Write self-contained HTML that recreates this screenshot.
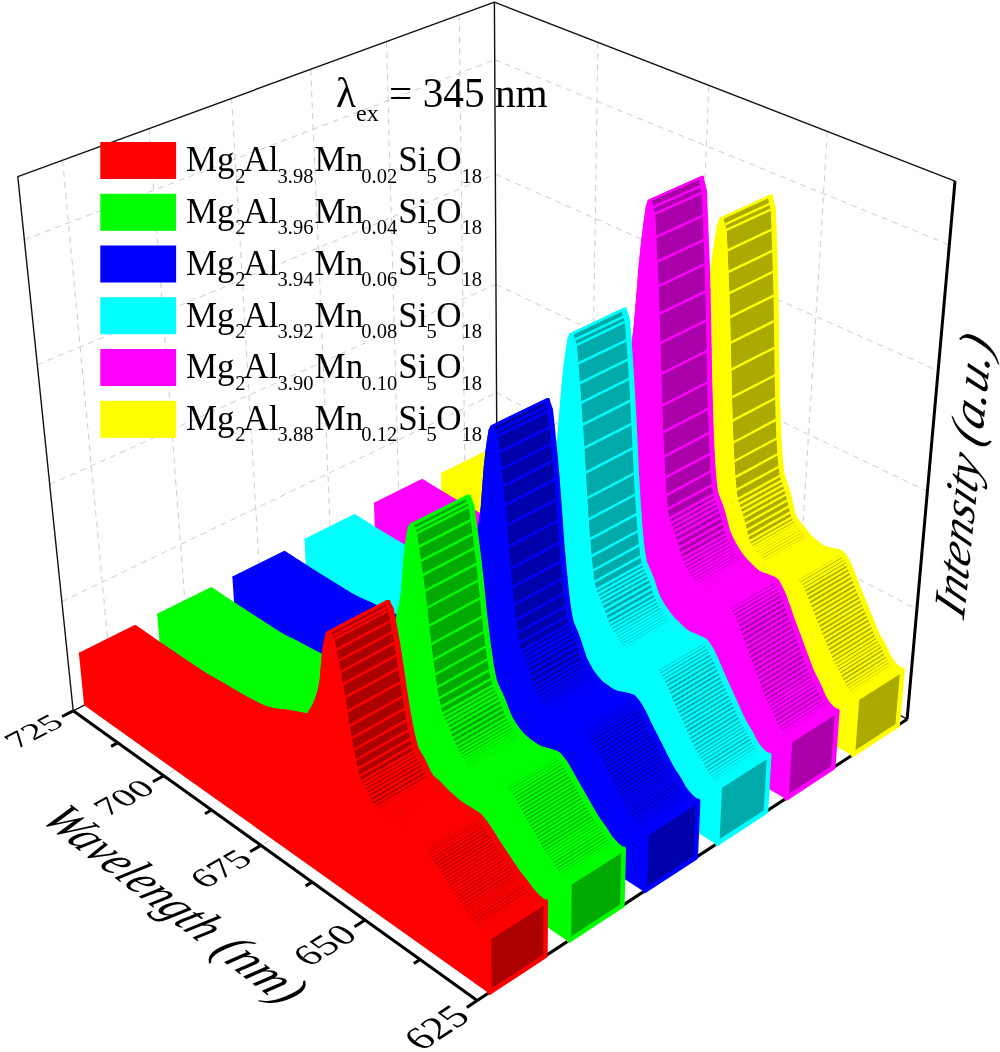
<!DOCTYPE html><html><head><meta charset="utf-8"><title>PL spectra</title><style>html,body{margin:0;padding:0;background:#fff}svg{display:block}text{font-family:"Liberation Serif","DejaVu Serif",serif;fill:#000}</style></head><body>
<svg width="1000" height="1052" viewBox="0 0 1000 1052">
<rect width="1000" height="1052" fill="#fff"/>
<path d="M61.9,601.5L496.5,392.7M496.5,392.7L916.9,609.2M49.8,484.5L495.9,284.3M495.9,284.3L927.4,491.4M37.4,364.8L495.3,174.1M495.3,174.1L938.1,370.8M24.4,239.8L494.7,59.7M494.7,59.7L949.3,244.9M62.6,160.2L112.5,690.8M112.5,690.8L517.7,974.1M149.0,128.5L188.7,651.9M188.7,651.9L595.8,922.9M231.6,98.3L262.0,614.5M262.0,614.5L670.4,874.1M310.7,69.3L332.4,578.6M332.4,578.6L741.7,827.4M386.5,41.6L400.1,544.0M400.1,544.0L810.0,782.8M459.2,15.0L465.4,510.7M465.4,510.7L875.4,740.0M827.4,131.5L794.7,657.6M794.7,657.6L365.1,920.1M708.7,85.4L689.3,599.9M689.3,599.9L260.9,845.4M597.9,42.3L590.3,545.6M590.3,545.6L163.9,775.8" fill="none" stroke="#cdcdcd" stroke-width="1" stroke-dasharray="6 5"/>
<path d="M73.2,710.8L17.8,176.6M17.8,176.6L494.4,2.1M494.4,2.1L955.0,181.1M497.1,494.5L494.4,2.1M73.2,710.8L497.1,494.5M497.1,494.5L907.1,719.2" fill="none" stroke="#111" stroke-width="1.4" stroke-linecap="round"/>
<path d="M907.1,719.2L955.0,181.1M477.2,1000.5L73.2,710.8M477.2,1000.5L907.1,719.2M477.2,1000.5L466.8,1007.4M420.1,959.6L413.8,963.6M365.1,920.1L354.5,926.7M312.1,882.1L305.6,885.9M260.9,845.4L250.1,851.7M211.6,810.0L205.0,813.7M163.9,775.8L152.9,781.8M117.8,742.8L111.1,746.3M73.2,710.8L62.1,716.5" fill="none" stroke="#000" stroke-width="3" stroke-linecap="butt"/>
<g fill="#aaaa00" stroke="#ffff00" stroke-width="2.2" stroke-linejoin="round">
<polygon points="442.0,473.7 487.3,451.2 488.7,452.0 443.4,474.5"/>
<polygon points="443.4,474.5 488.7,452.0 490.1,452.9 444.7,475.4"/>
<polygon points="444.7,475.4 490.1,452.9 491.4,453.7 446.1,476.2"/>
<polygon points="446.1,476.2 491.4,453.7 492.8,454.5 447.5,477.1"/>
<polygon points="447.5,477.1 492.8,454.5 494.2,455.3 448.9,477.9"/>
<polygon points="448.9,477.9 494.2,455.3 495.6,456.2 450.3,478.8"/>
<polygon points="450.3,478.8 495.6,456.2 497.0,457.0 451.7,479.6"/>
<polygon points="451.7,479.6 497.0,457.0 498.4,457.8 453.1,480.4"/>
<polygon points="453.1,480.4 498.4,457.8 499.8,458.6 454.5,481.3"/>
<polygon points="454.5,481.3 499.8,458.6 501.2,459.4 455.9,482.1"/>
<polygon points="455.9,482.1 501.2,459.4 502.6,460.2 457.3,483.0"/>
<polygon points="457.3,483.0 502.6,460.2 504.0,461.1 458.7,483.8"/>
<polygon points="458.7,483.8 504.0,461.1 505.4,461.9 460.1,484.6"/>
<polygon points="460.1,484.6 505.4,461.9 506.8,462.7 461.5,485.5"/>
<polygon points="461.5,485.5 506.8,462.7 508.2,463.5 462.9,486.3"/>
<polygon points="462.9,486.3 508.2,463.5 509.7,464.3 464.3,487.1"/>
<polygon points="464.3,487.1 509.7,464.3 511.1,465.1 465.7,487.9"/>
<polygon points="465.7,487.9 511.1,465.1 512.5,465.9 467.1,488.8"/>
<polygon points="467.1,488.8 512.5,465.9 513.9,466.7 468.6,489.6"/>
<polygon points="468.6,489.6 513.9,466.7 515.3,467.5 470.0,490.4"/>
<polygon points="470.0,490.4 515.3,467.5 516.7,468.3 471.4,491.2"/>
<polygon points="471.4,491.2 516.7,468.3 518.1,469.1 472.8,492.0"/>
<polygon points="472.8,492.0 518.1,469.1 519.6,469.9 474.2,492.8"/>
<polygon points="474.2,492.8 519.6,469.9 521.0,470.7 475.6,493.7"/>
<polygon points="475.6,493.7 521.0,470.7 522.4,471.5 477.0,494.5"/>
<polygon points="477.0,494.5 522.4,471.5 523.8,472.2 478.5,495.3"/>
<polygon points="478.5,495.3 523.8,472.2 525.2,473.0 479.9,496.1"/>
<polygon points="479.9,496.1 525.2,473.0 526.7,473.8 481.3,496.9"/>
<polygon points="481.3,496.9 526.7,473.8 528.1,474.6 482.7,497.7"/>
<polygon points="482.7,497.7 528.1,474.6 529.5,475.4 484.1,498.5"/>
<polygon points="484.1,498.5 529.5,475.4 530.9,476.2 485.6,499.3"/>
<polygon points="485.6,499.3 530.9,476.2 532.4,476.9 487.0,500.1"/>
<polygon points="487.0,500.1 532.4,476.9 533.8,477.7 488.4,500.9"/>
<polygon points="488.4,500.9 533.8,477.7 535.2,478.5 489.9,501.7"/>
<polygon points="489.9,501.7 535.2,478.5 536.7,479.3 491.3,502.5"/>
<polygon points="491.3,502.5 536.7,479.3 538.1,480.1 492.7,503.3"/>
<polygon points="492.7,503.3 538.1,480.1 539.5,480.9 494.2,504.1"/>
<polygon points="494.2,504.1 539.5,480.9 541.0,481.7 495.6,504.9"/>
<polygon points="495.6,504.9 541.0,481.7 542.4,482.4 497.0,505.8"/>
<polygon points="497.0,505.8 542.4,482.4 543.8,483.2 498.5,506.6"/>
<polygon points="498.5,506.6 543.8,483.2 545.3,484.0 499.9,507.4"/>
<polygon points="499.9,507.4 545.3,484.0 546.7,484.8 501.3,508.2"/>
<polygon points="501.3,508.2 546.7,484.8 548.2,485.6 502.8,509.0"/>
<polygon points="502.8,509.0 548.2,485.6 549.6,486.4 504.2,509.8"/>
<polygon points="504.2,509.8 549.6,486.4 551.1,487.1 505.7,510.6"/>
<polygon points="505.7,510.6 551.1,487.1 552.5,487.9 507.1,511.4"/>
<polygon points="507.1,511.4 552.5,487.9 554.0,488.7 508.6,512.2"/>
<polygon points="508.6,512.2 554.0,488.7 555.4,489.5 510.0,513.0"/>
<polygon points="510.0,513.0 555.4,489.5 556.9,490.2 511.5,513.7"/>
<polygon points="511.5,513.7 556.9,490.2 558.3,490.8 512.9,514.4"/>
<polygon points="512.9,514.4 558.3,490.8 559.8,491.4 514.4,515.0"/>
<polygon points="514.4,515.0 559.8,491.4 561.2,492.0 515.8,515.6"/>
<polygon points="515.8,515.6 561.2,492.0 562.7,492.5 517.3,516.1"/>
<polygon points="517.3,516.1 562.7,492.5 564.1,493.1 518.7,516.7"/>
<polygon points="518.7,516.7 564.1,493.1 565.6,493.5 520.2,517.2"/>
<polygon points="520.2,517.2 565.6,493.5 567.1,494.0 521.6,517.7"/>
<polygon points="521.6,517.7 567.1,494.0 568.5,494.5 523.1,518.2"/>
<polygon points="523.1,518.2 568.5,494.5 570.0,495.0 524.6,518.7"/>
<polygon points="524.6,518.7 570.0,495.0 571.5,495.4 526.0,519.1"/>
<polygon points="526.0,519.1 571.5,495.4 572.9,495.9 527.5,519.6"/>
<polygon points="527.5,519.6 572.9,495.9 574.4,496.4 529.0,520.2"/>
<polygon points="529.0,520.2 574.4,496.4 575.9,496.9 530.4,520.7"/>
<polygon points="530.4,520.7 575.9,496.9 577.4,497.5 531.9,521.3"/>
<polygon points="531.9,521.3 577.4,497.5 578.8,498.0 533.4,521.8"/>
<polygon points="533.4,521.8 578.8,498.0 580.3,498.6 534.9,522.4"/>
<polygon points="534.9,522.4 580.3,498.6 581.8,499.2 536.3,523.0"/>
<polygon points="536.3,523.0 581.8,499.2 583.3,499.7 537.8,523.6"/>
<polygon points="537.8,523.6 583.3,499.7 584.8,500.3 539.3,524.2"/>
<polygon points="539.3,524.2 584.8,500.3 586.2,500.9 540.8,524.8"/>
<polygon points="540.8,524.8 586.2,500.9 587.7,501.4 542.2,525.4"/>
<polygon points="542.2,525.4 587.7,501.4 589.2,502.0 543.7,525.9"/>
<polygon points="543.7,525.9 589.2,502.0 590.7,502.5 545.2,526.5"/>
<polygon points="545.2,526.5 590.7,502.5 592.2,503.1 546.7,527.1"/>
<polygon points="546.7,527.1 592.2,503.1 593.7,503.6 548.2,527.6"/>
<polygon points="548.2,527.6 593.7,503.6 595.2,504.1 549.7,528.2"/>
<polygon points="549.7,528.2 595.2,504.1 596.7,504.6 551.2,528.7"/>
<polygon points="551.2,528.7 596.7,504.6 598.2,505.1 552.7,529.2"/>
<polygon points="552.7,529.2 598.2,505.1 599.7,505.6 554.2,529.7"/>
<polygon points="554.2,529.7 599.7,505.6 601.2,506.0 555.7,530.1"/>
<polygon points="555.7,530.1 601.2,506.0 602.7,506.5 557.1,530.6"/>
<polygon points="557.1,530.6 602.7,506.5 604.2,506.9 558.6,531.0"/>
<polygon points="558.6,531.0 604.2,506.9 605.7,507.3 560.2,531.5"/>
<polygon points="560.2,531.5 605.7,507.3 607.2,507.7 561.7,531.9"/>
<polygon points="561.7,531.9 607.2,507.7 608.7,508.0 563.2,532.3"/>
<polygon points="563.2,532.3 608.7,508.0 610.2,508.4 564.7,532.6"/>
<polygon points="564.7,532.6 610.2,508.4 611.7,508.7 566.2,532.9"/>
<polygon points="566.2,532.9 611.7,508.7 613.2,509.0 567.7,533.2"/>
<polygon points="567.7,533.2 613.2,509.0 614.8,509.2 569.2,533.5"/>
<polygon points="569.2,533.5 614.8,509.2 616.3,509.4 570.7,533.7"/>
<polygon points="570.7,533.7 616.3,509.4 617.8,509.6 572.2,533.9"/>
<polygon points="572.2,533.9 617.8,509.6 619.3,509.8 573.8,534.1"/>
<polygon points="573.8,534.1 619.3,509.8 620.9,509.9 575.3,534.2"/>
<polygon points="575.3,534.2 620.9,509.9 622.4,509.9 576.8,534.2"/>
<polygon points="576.8,534.2 622.4,509.9 623.9,509.7 578.3,534.1"/>
<polygon points="578.3,534.1 623.9,509.7 625.5,509.4 579.9,533.8"/>
<polygon points="579.9,533.8 625.5,509.4 627.0,509.0 581.4,533.4"/>
<polygon points="581.4,533.4 627.0,509.0 628.6,508.4 583.0,532.9"/>
<polygon points="583.0,532.9 628.6,508.4 630.2,507.8 584.5,532.2"/>
<polygon points="584.5,532.2 630.2,507.8 631.7,507.1 586.0,531.5"/>
<polygon points="586.0,531.5 631.7,507.1 633.3,506.3 587.6,530.8"/>
<polygon points="587.6,530.8 633.3,506.3 634.9,505.5 589.2,529.9"/>
<polygon points="589.2,529.9 634.9,505.5 636.4,504.6 590.7,529.1"/>
<polygon points="590.7,529.1 636.4,504.6 638.0,503.8 592.3,528.2"/>
<polygon points="592.3,528.2 638.0,503.8 639.6,502.9 593.8,527.4"/>
<polygon points="593.8,527.4 639.6,502.9 641.2,502.1 595.4,526.6"/>
<polygon points="595.4,526.6 641.2,502.1 642.8,501.3 597.0,525.8"/>
<polygon points="597.0,525.8 642.8,501.3 644.4,500.5 598.5,525.0"/>
<polygon points="598.5,525.0 644.4,500.5 645.9,499.9 600.1,524.4"/>
<polygon points="600.1,524.4 645.9,499.9 647.5,499.2 601.7,523.8"/>
<polygon points="601.7,523.8 647.5,499.2 649.1,498.6 603.3,523.2"/>
<polygon points="603.3,523.2 649.1,498.6 650.7,498.1 604.8,522.6"/>
<polygon points="604.8,522.6 650.7,498.1 652.3,497.5 606.4,522.1"/>
<polygon points="606.4,522.1 652.3,497.5 653.9,496.9 608.0,521.5"/>
<polygon points="608.0,521.5 653.9,496.9 655.5,496.4 609.6,521.0"/>
<polygon points="609.6,521.0 655.5,496.4 657.1,495.8 611.2,520.4"/>
<polygon points="611.2,520.4 657.1,495.8 658.7,495.1 612.8,519.7"/>
<polygon points="612.8,519.7 658.7,495.1 660.3,494.5 614.4,519.1"/>
<polygon points="614.4,519.1 660.3,494.5 661.9,493.7 616.0,518.4"/>
<polygon points="616.0,518.4 661.9,493.7 663.6,493.0 617.6,517.6"/>
<polygon points="617.6,517.6 663.6,493.0 665.2,492.1 619.2,516.8"/>
<polygon points="619.2,516.8 665.2,492.1 666.8,491.2 620.8,515.9"/>
<polygon points="620.8,515.9 666.8,491.2 668.4,490.2 622.4,514.9"/>
<polygon points="622.4,514.9 668.4,490.2 670.1,489.0 624.0,513.7"/>
<polygon points="624.0,513.7 670.1,489.0 671.7,487.7 625.7,512.4"/>
<polygon points="625.7,512.4 671.7,487.7 673.4,486.3 627.3,511.0"/>
<polygon points="627.3,511.0 673.4,486.3 675.1,484.8 628.9,509.5"/>
<polygon points="628.9,509.5 675.1,484.8 676.7,483.2 630.6,507.9"/>
<polygon points="630.6,507.9 676.7,483.2 678.4,481.6 632.2,506.3"/>
<polygon points="632.2,506.3 678.4,481.6 680.1,479.9 633.9,504.6"/>
<polygon points="633.9,504.6 680.1,479.9 681.8,478.2 635.5,502.9"/>
<polygon points="635.5,502.9 681.8,478.2 683.4,476.4 637.2,501.1"/>
<polygon points="637.2,501.1 683.4,476.4 685.1,474.6 638.9,499.3"/>
<polygon points="638.9,499.3 685.1,474.6 686.8,472.6 640.5,497.3"/>
<polygon points="640.5,497.3 686.8,472.6 688.5,470.7 642.2,495.4"/>
<polygon points="642.2,495.4 688.5,470.7 690.3,468.6 643.9,493.3"/>
<polygon points="643.9,493.3 690.3,468.6 692.0,466.5 645.6,491.2"/>
<polygon points="645.6,491.2 692.0,466.5 693.7,464.3 647.3,489.0"/>
<polygon points="647.3,489.0 693.7,464.3 695.4,462.1 649.0,486.8"/>
<polygon points="649.0,486.8 695.4,462.1 697.2,459.8 650.7,484.4"/>
<polygon points="650.7,484.4 697.2,459.8 698.9,457.4 652.4,482.1"/>
<polygon points="652.4,482.1 698.9,457.4 700.7,455.0 654.1,479.7"/>
<polygon points="654.1,479.7 700.7,455.0 702.4,452.5 655.8,477.2"/>
<polygon points="655.8,477.2 702.4,452.5 704.2,450.0 657.6,474.7"/>
<polygon points="657.6,474.7 704.2,450.0 705.9,447.4 659.3,472.0"/>
<polygon points="659.3,472.0 705.9,447.4 707.7,444.7 661.0,469.3"/>
<polygon points="661.0,469.3 707.7,444.7 709.5,441.8 662.8,466.5"/>
<polygon points="662.8,466.5 709.5,441.8 711.3,438.9 664.6,463.5"/>
<polygon points="664.6,463.5 711.3,438.9 713.1,435.8 666.3,460.4"/>
<polygon points="666.3,460.4 713.1,435.8 714.9,432.5 668.1,457.1"/>
<polygon points="668.1,457.1 714.9,432.5 716.7,429.1 669.9,453.7"/>
<polygon points="669.9,453.7 716.7,429.1 718.6,425.4 671.7,450.0"/>
<polygon points="671.7,450.0 718.6,425.4 720.5,421.4 673.5,445.9"/>
<polygon points="673.5,445.9 720.5,421.4 722.3,417.1 675.3,441.6"/>
<polygon points="675.3,441.6 722.3,417.1 724.2,412.5 677.2,437.0"/>
<polygon points="677.2,437.0 724.2,412.5 726.2,407.5 679.1,432.0"/>
<polygon points="679.1,432.0 726.2,407.5 728.1,402.1 680.9,426.6"/>
<polygon points="680.9,426.6 728.1,402.1 730.1,396.1 682.9,420.5"/>
<polygon points="682.9,420.5 730.1,396.1 732.1,389.6 684.8,413.9"/>
<polygon points="684.8,413.9 732.1,389.6 734.1,383.0 686.7,407.3"/>
<polygon points="686.7,407.3 734.1,383.0 736.1,376.7 688.7,401.0"/>
<polygon points="688.7,401.0 736.1,376.7 738.1,370.9 690.6,395.1"/>
<polygon points="690.6,395.1 738.1,370.9 740.1,365.0 692.6,389.1"/>
<polygon points="692.6,389.1 740.1,365.0 742.2,358.3 694.6,382.4"/>
<polygon points="694.6,382.4 742.2,358.3 744.3,350.4 696.6,374.5"/>
<polygon points="696.6,374.5 744.3,350.4 746.5,341.3 698.7,365.3"/>
<polygon points="698.7,365.3 746.5,341.3 748.8,330.7 700.8,354.6"/>
<polygon points="700.8,354.6 748.8,330.7 751.1,318.6 703.1,342.4"/>
<polygon points="703.1,342.4 751.1,318.6 753.6,303.0 705.4,326.7"/>
<polygon points="705.4,326.7 753.6,303.0 756.7,276.8 708.2,300.2"/>
<polygon points="708.2,300.2 756.7,276.8 759.8,249.7 711.1,272.9"/>
<polygon points="711.1,272.9 759.8,249.7 762.6,230.1 713.7,253.0"/>
<polygon points="713.7,253.0 762.6,230.1 765.2,214.6 716.1,237.5"/>
<polygon points="716.1,237.5 765.2,214.6 767.7,201.4 718.5,224.0"/>
<polygon points="718.5,224.0 767.7,201.4 769.8,196.1 720.5,218.8"/>
<polygon points="720.5,218.8 769.8,196.1 771.7,195.5 722.4,218.2"/>
<polygon points="722.4,218.2 771.7,195.5 773.1,202.3 723.9,225.1"/>
<polygon points="723.9,225.1 773.1,202.3 774.7,207.8 725.5,230.6"/>
<polygon points="725.5,230.6 774.7,207.8 775.5,227.9 726.5,250.9"/>
<polygon points="726.5,250.9 775.5,227.9 776.2,249.1 727.4,272.4"/>
<polygon points="727.4,272.4 776.2,249.1 776.9,270.1 728.3,293.7"/>
<polygon points="728.3,293.7 776.9,270.1 777.4,294.0 729.0,317.8"/>
<polygon points="729.0,317.8 777.4,294.0 777.9,319.2 729.7,343.3"/>
<polygon points="729.7,343.3 777.9,319.2 778.2,345.9 730.3,370.2"/>
<polygon points="730.3,370.2 778.2,345.9 778.5,373.5 730.9,398.1"/>
<polygon points="730.9,398.1 778.5,373.5 779.0,396.4 731.6,421.3"/>
<polygon points="731.6,421.3 779.0,396.4 779.6,418.0 732.4,443.1"/>
<polygon points="732.4,443.1 779.6,418.0 780.3,436.6 733.3,461.9"/>
<polygon points="733.3,461.9 780.3,436.6 781.2,452.3 734.3,477.8"/>
<polygon points="734.3,477.8 781.2,452.3 782.3,464.9 735.5,490.5"/>
<polygon points="735.5,490.5 782.3,464.9 783.5,473.9 736.8,499.6"/>
<polygon points="736.8,499.6 783.5,473.9 785.0,478.7 738.3,504.5"/>
<polygon points="738.3,504.5 785.0,478.7 786.5,483.2 739.9,509.0"/>
<polygon points="739.9,509.0 786.5,483.2 788.0,487.7 741.4,513.6"/>
<polygon points="741.4,513.6 788.0,487.7 789.5,492.6 742.9,518.6"/>
<polygon points="742.9,518.6 789.5,492.6 790.9,498.4 744.4,524.4"/>
<polygon points="744.4,524.4 790.9,498.4 792.3,504.5 745.9,530.6"/>
<polygon points="745.9,530.6 792.3,504.5 793.7,510.5 747.3,536.6"/>
<polygon points="747.3,536.6 793.7,510.5 795.2,515.5 748.8,541.7"/>
<polygon points="748.8,541.7 795.2,515.5 796.8,518.9 750.4,545.1"/>
<polygon points="750.4,545.1 796.8,518.9 798.4,521.4 752.1,547.7"/>
<polygon points="752.1,547.7 798.4,521.4 800.0,523.4 753.7,549.8"/>
<polygon points="753.7,549.8 800.0,523.4 801.7,525.2 755.4,551.6"/>
<polygon points="755.4,551.6 801.7,525.2 803.3,527.1 757.1,553.6"/>
<polygon points="757.1,553.6 803.3,527.1 805.0,529.2 758.7,555.7"/>
<polygon points="758.7,555.7 805.0,529.2 806.6,531.5 760.4,558.0"/>
<polygon points="760.4,558.0 806.6,531.5 808.3,533.6 762.0,560.2"/>
<polygon points="762.0,560.2 808.3,533.6 809.9,535.6 763.7,562.1"/>
<polygon points="763.7,562.1 809.9,535.6 811.6,537.2 765.4,563.8"/>
<polygon points="765.4,563.8 811.6,537.2 813.3,538.6 767.1,565.3"/>
<polygon points="767.1,565.3 813.3,538.6 815.0,540.1 768.8,566.8"/>
<polygon points="768.8,566.8 815.0,540.1 816.7,541.5 770.5,568.2"/>
<polygon points="770.5,568.2 816.7,541.5 818.4,542.9 772.2,569.6"/>
<polygon points="772.2,569.6 818.4,542.9 820.1,544.2 773.9,571.0"/>
<polygon points="773.9,571.0 820.1,544.2 821.8,545.4 775.6,572.2"/>
<polygon points="775.6,572.2 821.8,545.4 823.5,546.5 777.3,573.4"/>
<polygon points="777.3,573.4 823.5,546.5 825.3,547.3 779.1,574.2"/>
<polygon points="779.1,574.2 825.3,547.3 827.0,547.9 780.9,574.7"/>
<polygon points="780.9,574.7 827.0,547.9 828.8,548.3 782.6,575.2"/>
<polygon points="782.6,575.2 828.8,548.3 830.6,548.6 784.4,575.5"/>
<polygon points="784.4,575.5 830.6,548.6 832.4,548.9 786.2,575.9"/>
<polygon points="786.2,575.9 832.4,548.9 834.2,549.4 788.0,576.3"/>
<polygon points="788.0,576.3 834.2,549.4 836.0,549.8 789.8,576.8"/>
<polygon points="789.8,576.8 836.0,549.8 837.7,550.2 791.5,577.2"/>
<polygon points="791.5,577.2 837.7,550.2 839.5,550.6 793.3,577.7"/>
<polygon points="793.3,577.7 839.5,550.6 841.3,551.3 795.1,578.4"/>
<polygon points="795.1,578.4 841.3,551.3 843.0,552.5 796.8,579.6"/>
<polygon points="796.8,579.6 843.0,552.5 844.7,554.4 798.5,581.6"/>
<polygon points="798.5,581.6 844.7,554.4 846.4,557.0 800.2,584.2"/>
<polygon points="800.2,584.2 846.4,557.0 848.0,559.8 801.9,587.0"/>
<polygon points="801.9,587.0 848.0,559.8 849.6,562.6 803.5,589.9"/>
<polygon points="803.5,589.9 849.6,562.6 851.2,566.1 805.1,593.4"/>
<polygon points="805.1,593.4 851.2,566.1 852.8,569.7 806.7,597.1"/>
<polygon points="806.7,597.1 852.8,569.7 854.3,573.7 808.3,601.1"/>
<polygon points="808.3,601.1 854.3,573.7 855.8,577.8 809.8,605.3"/>
<polygon points="809.8,605.3 855.8,577.8 857.4,581.9 811.4,609.5"/>
<polygon points="811.4,609.5 857.4,581.9 858.9,585.9 812.9,613.5"/>
<polygon points="812.9,613.5 858.9,585.9 860.4,589.8 814.5,617.4"/>
<polygon points="814.5,617.4 860.4,589.8 862.0,593.6 816.1,621.3"/>
<polygon points="816.1,621.3 862.0,593.6 863.5,597.4 817.7,625.1"/>
<polygon points="817.7,625.1 863.5,597.4 865.1,601.2 819.3,629.0"/>
<polygon points="819.3,629.0 865.1,601.2 866.6,605.0 820.8,632.9"/>
<polygon points="820.8,632.9 866.6,605.0 868.2,608.8 822.4,636.7"/>
<polygon points="822.4,636.7 868.2,608.8 869.7,612.6 824.0,640.6"/>
<polygon points="824.0,640.6 869.7,612.6 871.3,616.4 825.6,644.4"/>
<polygon points="825.6,644.4 871.3,616.4 872.8,620.2 827.1,648.3"/>
<polygon points="827.1,648.3 872.8,620.2 874.4,624.0 828.7,652.2"/>
<polygon points="828.7,652.2 874.4,624.0 875.9,627.8 830.3,656.0"/>
<polygon points="830.3,656.0 875.9,627.8 877.4,631.5 831.9,659.7"/>
<polygon points="831.9,659.7 877.4,631.5 879.0,634.9 833.5,663.2"/>
<polygon points="833.5,663.2 879.0,634.9 880.6,637.9 835.1,666.2"/>
<polygon points="835.1,666.2 880.6,637.9 882.3,640.7 836.7,669.1"/>
<polygon points="836.7,669.1 882.3,640.7 883.9,643.6 838.4,672.0"/>
<polygon points="838.4,672.0 883.9,643.6 885.5,646.6 840.0,675.1"/>
<polygon points="840.0,675.1 885.5,646.6 887.1,650.0 841.6,678.6"/>
<polygon points="841.6,678.6 887.1,650.0 888.6,653.5 843.2,682.1"/>
<polygon points="843.2,682.1 888.6,653.5 890.2,656.7 844.8,685.3"/>
<polygon points="844.8,685.3 890.2,656.7 891.9,659.3 846.5,687.9"/>
<polygon points="846.5,687.9 891.9,659.3 893.5,661.6 848.2,690.3"/>
<polygon points="848.2,690.3 893.5,661.6 895.2,663.7 849.9,692.4"/>
<polygon points="849.9,692.4 895.2,663.7 896.9,665.4 851.6,694.2"/>
<polygon points="851.6,694.2 896.9,665.4 898.7,667.0 853.3,695.8"/>
<polygon points="853.3,695.8 898.7,667.0 900.4,668.4 855.1,697.2"/>
<polygon points="855.1,697.2 900.4,668.4 902.2,669.6 856.9,698.5"/>
<polygon points="856.9,698.5 902.2,669.6 902.5,669.7 857.1,698.6"/>
<polyline points="900.4,671.1 900.1,670.9 898.3,669.7 896.6,668.3 894.8,666.7 893.1,665.0 891.4,662.9 889.8,660.6 888.1,658.0 886.5,654.8 884.9,651.4 883.4,648.0 881.8,644.9 880.1,642.0 878.5,639.2 876.9,636.2 875.3,632.8 873.8,629.1 872.2,625.3 870.7,621.5 869.1,617.7 867.6,613.9 866.0,610.1 864.5,606.3 862.9,602.5 861.4,598.7 859.9,594.8 858.3,591.0 856.8,587.2 855.2,583.2 853.7,579.1 852.2,575.0 850.6,571.0 849.1,567.4 847.5,563.9 845.9,561.0 844.2,558.2 842.6,555.7 840.9,553.7 839.2,552.6 837.4,551.9 835.6,551.4 833.8,551.1 832.0,550.6 830.2,550.2 828.5,549.8 826.7,549.5 824.9,549.1 823.1,548.6 821.4,547.8 819.7,546.7 818.0,545.4 816.2,544.1 814.5,542.8 812.8,541.3 811.2,539.9 809.5,538.4 807.8,536.8 806.1,534.9 804.5,532.7 802.8,530.5 801.2,528.3 799.5,526.5 797.9,524.6 796.2,522.6 794.6,520.1 793.0,516.7 791.6,511.7 790.2,505.7 788.8,499.6 787.3,493.8 785.8,488.9 784.3,484.4 782.8,479.9 781.3,475.1 780.1,466.1 779.0,453.5 778.1,437.8 777.4,419.1 776.8,397.6 776.3,374.6 776.0,347.0 775.6,320.3 775.2,295.1 774.6,271.2 773.9,250.2 773.2,229.0 772.4,208.9 770.9,203.4 769.4,196.6" fill="none" stroke-width="3.4"/>
<polygon points="442.8,522.2 442.0,473.7 443.4,474.5 444.7,475.4 446.1,476.2 447.5,477.1 448.9,477.9 450.3,478.8 451.7,479.6 453.1,480.4 454.5,481.3 455.9,482.1 457.3,483.0 458.7,483.8 460.1,484.6 461.5,485.5 462.9,486.3 464.3,487.1 465.7,487.9 467.1,488.8 468.6,489.6 470.0,490.4 471.4,491.2 472.8,492.0 474.2,492.8 475.6,493.7 477.0,494.5 478.5,495.3 479.9,496.1 481.3,496.9 482.7,497.7 484.1,498.5 485.6,499.3 487.0,500.1 488.4,500.9 489.9,501.7 491.3,502.5 492.7,503.3 494.2,504.1 495.6,504.9 497.0,505.8 498.5,506.6 499.9,507.4 501.3,508.2 502.8,509.0 504.2,509.8 505.7,510.6 507.1,511.4 508.6,512.2 510.0,513.0 511.5,513.7 512.9,514.4 514.4,515.0 515.8,515.6 517.3,516.1 518.7,516.7 520.2,517.2 521.6,517.7 523.1,518.2 524.6,518.7 526.0,519.1 527.5,519.6 529.0,520.2 530.4,520.7 531.9,521.3 533.4,521.8 534.9,522.4 536.3,523.0 537.8,523.6 539.3,524.2 540.8,524.8 542.2,525.4 543.7,525.9 545.2,526.5 546.7,527.1 548.2,527.6 549.7,528.2 551.2,528.7 552.7,529.2 554.2,529.7 555.7,530.1 557.1,530.6 558.6,531.0 560.2,531.5 561.7,531.9 563.2,532.3 564.7,532.6 566.2,532.9 567.7,533.2 569.2,533.5 570.7,533.7 572.2,533.9 573.8,534.1 575.3,534.2 576.8,534.2 578.3,534.1 579.9,533.8 581.4,533.4 583.0,532.9 584.5,532.2 586.0,531.5 587.6,530.8 589.2,529.9 590.7,529.1 592.3,528.2 593.8,527.4 595.4,526.6 597.0,525.8 598.5,525.0 600.1,524.4 601.7,523.8 603.3,523.2 604.8,522.6 606.4,522.1 608.0,521.5 609.6,521.0 611.2,520.4 612.8,519.7 614.4,519.1 616.0,518.4 617.6,517.6 619.2,516.8 620.8,515.9 622.4,514.9 624.0,513.7 625.7,512.4 627.3,511.0 628.9,509.5 630.6,507.9 632.2,506.3 633.9,504.6 635.5,502.9 637.2,501.1 638.9,499.3 640.5,497.3 642.2,495.4 643.9,493.3 645.6,491.2 647.3,489.0 649.0,486.8 650.7,484.4 652.4,482.1 654.1,479.7 655.8,477.2 657.6,474.7 659.3,472.0 661.0,469.3 662.8,466.5 664.6,463.5 666.3,460.4 668.1,457.1 669.9,453.7 671.7,450.0 673.5,445.9 675.3,441.6 677.2,437.0 679.1,432.0 680.9,426.6 682.9,420.5 684.8,413.9 686.7,407.3 688.7,401.0 690.6,395.1 692.6,389.1 694.6,382.4 696.6,374.5 698.7,365.3 700.8,354.6 703.1,342.4 705.4,326.7 708.2,300.2 711.1,272.9 713.7,253.0 716.1,237.5 718.5,224.0 720.5,218.8 722.4,218.2 723.9,225.1 725.5,230.6 726.5,250.9 727.4,272.4 728.3,293.7 729.0,317.8 729.7,343.3 730.3,370.2 730.9,398.1 731.6,421.3 732.4,443.1 733.3,461.9 734.3,477.8 735.5,490.5 736.8,499.6 738.3,504.5 739.9,509.0 741.4,513.6 742.9,518.6 744.4,524.4 745.9,530.6 747.3,536.6 748.8,541.7 750.4,545.1 752.1,547.7 753.7,549.8 755.4,551.6 757.1,553.6 758.7,555.7 760.4,558.0 762.0,560.2 763.7,562.1 765.4,563.8 767.1,565.3 768.8,566.8 770.5,568.2 772.2,569.6 773.9,571.0 775.6,572.2 777.3,573.4 779.1,574.2 780.9,574.7 782.6,575.2 784.4,575.5 786.2,575.9 788.0,576.3 789.8,576.8 791.5,577.2 793.3,577.7 795.1,578.4 796.8,579.6 798.5,581.6 800.2,584.2 801.9,587.0 803.5,589.9 805.1,593.4 806.7,597.1 808.3,601.1 809.8,605.3 811.4,609.5 812.9,613.5 814.5,617.4 816.1,621.3 817.7,625.1 819.3,629.0 820.8,632.9 822.4,636.7 824.0,640.6 825.6,644.4 827.1,648.3 828.7,652.2 830.3,656.0 831.9,659.7 833.5,663.2 835.1,666.2 836.7,669.1 838.4,672.0 840.0,675.1 841.6,678.6 843.2,682.1 844.8,685.3 846.5,687.9 848.2,690.3 849.9,692.4 851.6,694.2 853.3,695.8 855.1,697.2 856.9,698.5 857.1,698.6 852.8,754.7" fill="#ffff00" stroke-width="2"/>
<polygon points="852.8,754.7 857.1,698.6 902.5,669.7 897.6,725.4" stroke-width="4.6"/>
</g>
<g fill="#aa00aa" stroke="#ff00ff" stroke-width="2.2" stroke-linejoin="round">
<polygon points="375.0,503.4 422.1,480.1 423.5,480.9 376.4,504.3"/>
<polygon points="376.4,504.3 423.5,480.9 424.9,481.8 377.8,505.2"/>
<polygon points="377.8,505.2 424.9,481.8 426.3,482.6 379.2,506.0"/>
<polygon points="379.2,506.0 426.3,482.6 427.7,483.5 380.6,506.9"/>
<polygon points="380.6,506.9 427.7,483.5 429.1,484.4 382.0,507.8"/>
<polygon points="382.0,507.8 429.1,484.4 430.5,485.2 383.3,508.7"/>
<polygon points="383.3,508.7 430.5,485.2 431.8,486.1 384.7,509.6"/>
<polygon points="384.7,509.6 431.8,486.1 433.2,486.9 386.1,510.4"/>
<polygon points="386.1,510.4 433.2,486.9 434.6,487.8 387.5,511.3"/>
<polygon points="387.5,511.3 434.6,487.8 436.0,488.7 388.9,512.2"/>
<polygon points="388.9,512.2 436.0,488.7 437.4,489.5 390.3,513.1"/>
<polygon points="390.3,513.1 437.4,489.5 438.8,490.4 391.7,514.0"/>
<polygon points="391.7,514.0 438.8,490.4 440.3,491.2 393.1,514.8"/>
<polygon points="393.1,514.8 440.3,491.2 441.7,492.1 394.5,515.7"/>
<polygon points="394.5,515.7 441.7,492.1 443.1,492.9 395.9,516.6"/>
<polygon points="395.9,516.6 443.1,492.9 444.5,493.7 397.3,517.4"/>
<polygon points="397.3,517.4 444.5,493.7 445.9,494.6 398.7,518.3"/>
<polygon points="398.7,518.3 445.9,494.6 447.3,495.4 400.2,519.1"/>
<polygon points="400.2,519.1 447.3,495.4 448.7,496.3 401.6,520.0"/>
<polygon points="401.6,520.0 448.7,496.3 450.1,497.1 403.0,520.9"/>
<polygon points="403.0,520.9 450.1,497.1 451.5,497.9 404.4,521.7"/>
<polygon points="404.4,521.7 451.5,497.9 452.9,498.7 405.8,522.6"/>
<polygon points="405.8,522.6 452.9,498.7 454.4,499.6 407.2,523.4"/>
<polygon points="407.2,523.4 454.4,499.6 455.8,500.4 408.6,524.2"/>
<polygon points="408.6,524.2 455.8,500.4 457.2,501.2 410.0,525.1"/>
<polygon points="410.0,525.1 457.2,501.2 458.6,502.0 411.4,525.9"/>
<polygon points="411.4,525.9 458.6,502.0 460.0,502.8 412.9,526.8"/>
<polygon points="412.9,526.8 460.0,502.8 461.4,503.7 414.3,527.6"/>
<polygon points="414.3,527.6 461.4,503.7 462.9,504.5 415.7,528.4"/>
<polygon points="415.7,528.4 462.9,504.5 464.3,505.3 417.1,529.3"/>
<polygon points="417.1,529.3 464.3,505.3 465.7,506.1 418.6,530.1"/>
<polygon points="418.6,530.1 465.7,506.1 467.1,506.9 420.0,531.0"/>
<polygon points="420.0,531.0 467.1,506.9 468.6,507.7 421.4,531.8"/>
<polygon points="421.4,531.8 468.6,507.7 470.0,508.6 422.8,532.6"/>
<polygon points="422.8,532.6 470.0,508.6 471.4,509.4 424.3,533.5"/>
<polygon points="424.3,533.5 471.4,509.4 472.9,510.2 425.7,534.3"/>
<polygon points="425.7,534.3 472.9,510.2 474.3,511.0 427.1,535.2"/>
<polygon points="427.1,535.2 474.3,511.0 475.7,511.8 428.5,536.0"/>
<polygon points="428.5,536.0 475.7,511.8 477.2,512.6 430.0,536.8"/>
<polygon points="430.0,536.8 477.2,512.6 478.6,513.5 431.4,537.7"/>
<polygon points="431.4,537.7 478.6,513.5 480.1,514.3 432.9,538.5"/>
<polygon points="432.9,538.5 480.1,514.3 481.5,515.1 434.3,539.3"/>
<polygon points="434.3,539.3 481.5,515.1 482.9,515.9 435.7,540.2"/>
<polygon points="435.7,540.2 482.9,515.9 484.4,516.7 437.2,541.0"/>
<polygon points="437.2,541.0 484.4,516.7 485.8,517.5 438.6,541.8"/>
<polygon points="438.6,541.8 485.8,517.5 487.3,518.3 440.1,542.7"/>
<polygon points="440.1,542.7 487.3,518.3 488.7,519.1 441.5,543.5"/>
<polygon points="441.5,543.5 488.7,519.1 490.2,519.9 442.9,544.3"/>
<polygon points="442.9,544.3 490.2,519.9 491.6,520.7 444.4,545.1"/>
<polygon points="444.4,545.1 491.6,520.7 493.1,521.3 445.8,545.8"/>
<polygon points="445.8,545.8 493.1,521.3 494.5,522.0 447.3,546.4"/>
<polygon points="447.3,546.4 494.5,522.0 496.0,522.5 448.7,547.0"/>
<polygon points="448.7,547.0 496.0,522.5 497.4,523.1 450.2,547.6"/>
<polygon points="450.2,547.6 497.4,523.1 498.9,523.7 451.6,548.2"/>
<polygon points="451.6,548.2 498.9,523.7 500.3,524.2 453.1,548.8"/>
<polygon points="453.1,548.8 500.3,524.2 501.8,524.7 454.5,549.3"/>
<polygon points="454.5,549.3 501.8,524.7 503.2,525.3 456.0,549.9"/>
<polygon points="456.0,549.9 503.2,525.3 504.7,525.8 457.4,550.4"/>
<polygon points="457.4,550.4 504.7,525.8 506.2,526.3 458.9,550.9"/>
<polygon points="458.9,550.9 506.2,526.3 507.6,526.9 460.4,551.5"/>
<polygon points="460.4,551.5 507.6,526.9 509.1,527.4 461.8,552.1"/>
<polygon points="461.8,552.1 509.1,527.4 510.6,528.0 463.3,552.7"/>
<polygon points="463.3,552.7 510.6,528.0 512.0,528.6 464.8,553.3"/>
<polygon points="464.8,553.3 512.0,528.6 513.5,529.2 466.2,554.0"/>
<polygon points="466.2,554.0 513.5,529.2 515.0,529.9 467.7,554.6"/>
<polygon points="467.7,554.6 515.0,529.9 516.5,530.5 469.2,555.3"/>
<polygon points="469.2,555.3 516.5,530.5 517.9,531.1 470.6,555.9"/>
<polygon points="470.6,555.9 517.9,531.1 519.4,531.8 472.1,556.6"/>
<polygon points="472.1,556.6 519.4,531.8 520.9,532.4 473.6,557.2"/>
<polygon points="473.6,557.2 520.9,532.4 522.4,533.0 475.1,557.9"/>
<polygon points="475.1,557.9 522.4,533.0 523.9,533.7 476.5,558.5"/>
<polygon points="476.5,558.5 523.9,533.7 525.3,534.3 478.0,559.2"/>
<polygon points="478.0,559.2 525.3,534.3 526.8,534.9 479.5,559.8"/>
<polygon points="479.5,559.8 526.8,534.9 528.3,535.5 481.0,560.4"/>
<polygon points="481.0,560.4 528.3,535.5 529.8,536.1 482.5,561.0"/>
<polygon points="482.5,561.0 529.8,536.1 531.3,536.6 483.9,561.6"/>
<polygon points="483.9,561.6 531.3,536.6 532.8,537.2 485.4,562.2"/>
<polygon points="485.4,562.2 532.8,537.2 534.3,537.7 486.9,562.7"/>
<polygon points="486.9,562.7 534.3,537.7 535.8,538.2 488.4,563.2"/>
<polygon points="488.4,563.2 535.8,538.2 537.3,538.7 489.9,563.8"/>
<polygon points="489.9,563.8 537.3,538.7 538.8,539.2 491.4,564.3"/>
<polygon points="491.4,564.3 538.8,539.2 540.3,539.6 492.9,564.7"/>
<polygon points="492.9,564.7 540.3,539.6 541.8,540.0 494.4,565.2"/>
<polygon points="494.4,565.2 541.8,540.0 543.3,540.4 495.9,565.6"/>
<polygon points="495.9,565.6 543.3,540.4 544.8,540.8 497.4,566.0"/>
<polygon points="497.4,566.0 544.8,540.8 546.3,541.2 498.9,566.4"/>
<polygon points="498.9,566.4 546.3,541.2 547.8,541.5 500.4,566.7"/>
<polygon points="500.4,566.7 547.8,541.5 549.3,541.8 501.9,567.0"/>
<polygon points="501.9,567.0 549.3,541.8 550.8,542.0 503.4,567.3"/>
<polygon points="503.4,567.3 550.8,542.0 552.3,542.2 504.9,567.5"/>
<polygon points="504.9,567.5 552.3,542.2 553.9,542.4 506.4,567.7"/>
<polygon points="506.4,567.7 553.9,542.4 555.4,542.5 507.9,567.8"/>
<polygon points="507.9,567.8 555.4,542.5 556.9,542.5 509.4,567.8"/>
<polygon points="509.4,567.8 556.9,542.5 558.4,542.3 510.9,567.6"/>
<polygon points="510.9,567.6 558.4,542.3 560.0,542.0 512.5,567.3"/>
<polygon points="512.5,567.3 560.0,542.0 561.5,541.5 514.0,566.8"/>
<polygon points="514.0,566.8 561.5,541.5 563.0,540.8 515.5,566.2"/>
<polygon points="515.5,566.2 563.0,540.8 564.6,540.1 517.0,565.5"/>
<polygon points="517.0,565.5 564.6,540.1 566.1,539.3 518.5,564.7"/>
<polygon points="518.5,564.7 566.1,539.3 567.7,538.4 520.1,563.8"/>
<polygon points="520.1,563.8 567.7,538.4 569.2,537.5 521.6,562.9"/>
<polygon points="521.6,562.9 569.2,537.5 570.8,536.5 523.1,561.9"/>
<polygon points="523.1,561.9 570.8,536.5 572.3,535.5 524.7,561.0"/>
<polygon points="524.7,561.0 572.3,535.5 573.9,534.5 526.2,560.0"/>
<polygon points="526.2,560.0 573.9,534.5 575.4,533.6 527.7,559.0"/>
<polygon points="527.7,559.0 575.4,533.6 577.0,532.6 529.3,558.1"/>
<polygon points="529.3,558.1 577.0,532.6 578.6,531.7 530.8,557.2"/>
<polygon points="530.8,557.2 578.6,531.7 580.1,530.9 532.4,556.4"/>
<polygon points="532.4,556.4 580.1,530.9 581.7,530.1 533.9,555.6"/>
<polygon points="533.9,555.6 581.7,530.1 583.3,529.4 535.5,554.9"/>
<polygon points="535.5,554.9 583.3,529.4 584.9,528.6 537.0,554.2"/>
<polygon points="537.0,554.2 584.9,528.6 586.4,527.9 538.6,553.5"/>
<polygon points="538.6,553.5 586.4,527.9 588.0,527.2 540.2,552.8"/>
<polygon points="540.2,552.8 588.0,527.2 589.6,526.5 541.7,552.0"/>
<polygon points="541.7,552.0 589.6,526.5 591.2,525.7 543.3,551.3"/>
<polygon points="543.3,551.3 591.2,525.7 592.8,524.9 544.9,550.5"/>
<polygon points="544.9,550.5 592.8,524.9 594.4,524.1 546.4,549.7"/>
<polygon points="546.4,549.7 594.4,524.1 596.0,523.2 548.0,548.8"/>
<polygon points="548.0,548.8 596.0,523.2 597.6,522.3 549.6,547.9"/>
<polygon points="549.6,547.9 597.6,522.3 599.2,521.2 551.2,546.8"/>
<polygon points="551.2,546.8 599.2,521.2 600.8,520.1 552.8,545.7"/>
<polygon points="552.8,545.7 600.8,520.1 602.4,518.9 554.4,544.5"/>
<polygon points="554.4,544.5 602.4,518.9 604.0,517.5 556.0,543.1"/>
<polygon points="556.0,543.1 604.0,517.5 605.6,515.9 557.6,541.6"/>
<polygon points="557.6,541.6 605.6,515.9 607.3,514.3 559.2,539.9"/>
<polygon points="559.2,539.9 607.3,514.3 608.9,512.5 560.8,538.1"/>
<polygon points="560.8,538.1 608.9,512.5 610.5,510.6 562.4,536.3"/>
<polygon points="562.4,536.3 610.5,510.6 612.2,508.7 564.0,534.3"/>
<polygon points="564.0,534.3 612.2,508.7 613.8,506.7 565.6,532.4"/>
<polygon points="565.6,532.4 613.8,506.7 615.5,504.7 567.2,530.3"/>
<polygon points="567.2,530.3 615.5,504.7 617.2,502.6 568.9,528.2"/>
<polygon points="568.9,528.2 617.2,502.6 618.8,500.4 570.5,526.0"/>
<polygon points="570.5,526.0 618.8,500.4 620.5,498.1 572.1,523.8"/>
<polygon points="572.1,523.8 620.5,498.1 622.2,495.8 573.8,521.5"/>
<polygon points="573.8,521.5 622.2,495.8 623.9,493.4 575.4,519.0"/>
<polygon points="575.4,519.0 623.9,493.4 625.5,490.9 577.1,516.6"/>
<polygon points="577.1,516.6 625.5,490.9 627.2,488.4 578.7,514.0"/>
<polygon points="578.7,514.0 627.2,488.4 628.9,485.7 580.4,511.4"/>
<polygon points="580.4,511.4 628.9,485.7 630.6,483.0 582.1,508.7"/>
<polygon points="582.1,508.7 630.6,483.0 632.4,480.3 583.8,505.9"/>
<polygon points="583.8,505.9 632.4,480.3 634.1,477.4 585.4,503.1"/>
<polygon points="585.4,503.1 634.1,477.4 635.8,474.6 587.1,500.2"/>
<polygon points="587.1,500.2 635.8,474.6 637.5,471.6 588.8,497.2"/>
<polygon points="588.8,497.2 637.5,471.6 639.3,468.6 590.5,494.1"/>
<polygon points="590.5,494.1 639.3,468.6 641.0,465.4 592.2,491.0"/>
<polygon points="592.2,491.0 641.0,465.4 642.8,462.1 593.9,487.7"/>
<polygon points="593.9,487.7 642.8,462.1 644.5,458.7 595.6,484.2"/>
<polygon points="595.6,484.2 644.5,458.7 646.3,455.0 597.3,480.6"/>
<polygon points="597.3,480.6 646.3,455.0 648.1,451.2 599.1,476.8"/>
<polygon points="599.1,476.8 648.1,451.2 649.9,447.2 600.8,472.7"/>
<polygon points="600.8,472.7 649.9,447.2 651.7,443.0 602.6,468.4"/>
<polygon points="602.6,468.4 651.7,443.0 653.5,438.3 604.3,463.8"/>
<polygon points="604.3,463.8 653.5,438.3 655.3,433.3 606.1,458.7"/>
<polygon points="606.1,458.7 655.3,433.3 657.2,428.0 607.9,453.4"/>
<polygon points="607.9,453.4 657.2,428.0 659.0,422.3 609.7,447.6"/>
<polygon points="609.7,447.6 659.0,422.3 660.9,416.0 611.5,441.3"/>
<polygon points="611.5,441.3 660.9,416.0 662.9,409.0 613.3,434.3"/>
<polygon points="613.3,434.3 662.9,409.0 664.8,401.5 615.2,426.7"/>
<polygon points="615.2,426.7 664.8,401.5 666.8,393.9 617.1,419.1"/>
<polygon points="617.1,419.1 666.8,393.9 668.7,386.6 618.9,411.7"/>
<polygon points="618.9,411.7 668.7,386.6 670.7,379.9 620.8,404.9"/>
<polygon points="620.8,404.9 670.7,379.9 672.6,373.0 622.7,398.0"/>
<polygon points="622.7,398.0 672.6,373.0 674.6,365.3 624.6,390.2"/>
<polygon points="624.6,390.2 674.6,365.3 676.7,356.2 626.5,381.1"/>
<polygon points="626.5,381.1 676.7,356.2 678.8,345.6 628.5,370.4"/>
<polygon points="628.5,370.4 678.8,345.6 680.9,333.4 630.6,358.0"/>
<polygon points="630.6,358.0 680.9,333.4 683.2,319.4 632.6,344.0"/>
<polygon points="632.6,344.0 683.2,319.4 685.6,301.5 634.8,325.9"/>
<polygon points="634.8,325.9 685.6,301.5 688.4,271.2 637.4,295.3"/>
<polygon points="637.4,295.3 688.4,271.2 691.3,239.9 639.9,263.7"/>
<polygon points="639.9,263.7 691.3,239.9 693.9,217.2 642.3,240.7"/>
<polygon points="642.3,240.7 693.9,217.2 696.4,199.2 644.6,222.6"/>
<polygon points="644.6,222.6 696.4,199.2 698.8,183.8 646.8,206.9"/>
<polygon points="646.8,206.9 698.8,183.8 700.8,177.6 648.8,200.8"/>
<polygon points="648.8,200.8 700.8,177.6 702.7,176.8 650.6,200.0"/>
<polygon points="650.6,200.0 702.7,176.8 704.3,184.6 652.3,207.8"/>
<polygon points="652.3,207.8 704.3,184.6 705.9,190.9 653.9,214.2"/>
<polygon points="653.9,214.2 705.9,190.9 706.8,214.0 655.1,237.5"/>
<polygon points="655.1,237.5 706.8,214.0 707.7,238.3 656.3,262.2"/>
<polygon points="656.3,262.2 707.7,238.3 708.6,262.5 657.4,286.7"/>
<polygon points="657.4,286.7 708.6,262.5 709.4,289.8 658.4,314.3"/>
<polygon points="658.4,314.3 709.4,289.8 710.0,318.8 659.4,343.6"/>
<polygon points="659.4,343.6 710.0,318.8 710.6,349.3 660.3,374.4"/>
<polygon points="660.3,374.4 710.6,349.3 711.1,380.8 661.1,406.3"/>
<polygon points="661.1,406.3 711.1,380.8 711.9,406.9 662.1,432.7"/>
<polygon points="662.1,432.7 711.9,406.9 712.6,431.2 663.1,457.2"/>
<polygon points="663.1,457.2 712.6,431.2 713.6,452.0 664.2,478.3"/>
<polygon points="664.2,478.3 713.6,452.0 714.6,469.4 665.4,495.8"/>
<polygon points="665.4,495.8 714.6,469.4 715.8,483.0 666.8,509.6"/>
<polygon points="666.8,509.6 715.8,483.0 717.1,492.5 668.2,519.1"/>
<polygon points="668.2,519.1 717.1,492.5 718.7,497.0 669.8,523.7"/>
<polygon points="669.8,523.7 718.7,497.0 720.3,501.1 671.4,527.9"/>
<polygon points="671.4,527.9 720.3,501.1 721.9,505.3 673.0,532.1"/>
<polygon points="673.0,532.1 721.9,505.3 723.4,509.8 674.6,536.7"/>
<polygon points="674.6,536.7 723.4,509.8 725.0,515.3 676.2,542.3"/>
<polygon points="676.2,542.3 725.0,515.3 726.5,521.2 677.8,548.3"/>
<polygon points="677.8,548.3 726.5,521.2 728.0,527.0 679.3,554.1"/>
<polygon points="679.3,554.1 728.0,527.0 729.5,532.0 680.9,559.2"/>
<polygon points="680.9,559.2 729.5,532.0 731.1,535.7 682.5,563.0"/>
<polygon points="682.5,563.0 731.1,535.7 732.7,539.1 684.2,566.4"/>
<polygon points="684.2,566.4 732.7,539.1 734.3,542.3 685.8,569.6"/>
<polygon points="685.8,569.6 734.3,542.3 736.0,545.2 687.5,572.6"/>
<polygon points="687.5,572.6 736.0,545.2 737.6,548.0 689.1,575.4"/>
<polygon points="689.1,575.4 737.6,548.0 739.3,550.5 690.8,578.0"/>
<polygon points="690.8,578.0 739.3,550.5 740.9,553.1 692.5,580.6"/>
<polygon points="692.5,580.6 740.9,553.1 742.6,555.4 694.1,583.0"/>
<polygon points="694.1,583.0 742.6,555.4 744.3,557.6 695.8,585.2"/>
<polygon points="695.8,585.2 744.3,557.6 745.9,559.5 697.5,587.1"/>
<polygon points="697.5,587.1 745.9,559.5 747.6,561.2 699.2,588.9"/>
<polygon points="699.2,588.9 747.6,561.2 749.3,562.9 700.9,590.7"/>
<polygon points="700.9,590.7 749.3,562.9 751.0,564.7 702.7,592.4"/>
<polygon points="702.7,592.4 751.0,564.7 752.7,566.4 704.4,594.2"/>
<polygon points="704.4,594.2 752.7,566.4 754.4,568.0 706.1,595.8"/>
<polygon points="706.1,595.8 754.4,568.0 756.2,569.6 707.8,597.4"/>
<polygon points="707.8,597.4 756.2,569.6 757.9,571.0 709.5,598.9"/>
<polygon points="709.5,598.9 757.9,571.0 759.6,572.1 711.3,600.1"/>
<polygon points="711.3,600.1 759.6,572.1 761.4,573.0 713.0,600.9"/>
<polygon points="713.0,600.9 761.4,573.0 763.1,573.7 714.8,601.6"/>
<polygon points="714.8,601.6 763.1,573.7 764.9,574.2 716.6,602.2"/>
<polygon points="716.6,602.2 764.9,574.2 766.7,574.9 718.3,602.9"/>
<polygon points="718.3,602.9 766.7,574.9 768.4,575.6 720.1,603.7"/>
<polygon points="720.1,603.7 768.4,575.6 770.2,576.3 721.9,604.4"/>
<polygon points="721.9,604.4 770.2,576.3 772.0,577.0 723.6,605.1"/>
<polygon points="723.6,605.1 772.0,577.0 773.8,577.7 725.4,605.8"/>
<polygon points="725.4,605.8 773.8,577.7 775.5,578.6 727.2,606.8"/>
<polygon points="727.2,606.8 775.5,578.6 777.3,580.1 728.9,608.3"/>
<polygon points="728.9,608.3 777.3,580.1 779.0,582.5 730.6,610.7"/>
<polygon points="730.6,610.7 779.0,582.5 780.6,585.5 732.3,613.8"/>
<polygon points="732.3,613.8 780.6,585.5 782.2,588.7 734.0,617.1"/>
<polygon points="734.0,617.1 782.2,588.7 783.9,592.1 735.6,620.5"/>
<polygon points="735.6,620.5 783.9,592.1 785.5,596.0 737.2,624.5"/>
<polygon points="737.2,624.5 785.5,596.0 787.0,600.2 738.9,628.7"/>
<polygon points="738.9,628.7 787.0,600.2 788.6,604.6 740.5,633.2"/>
<polygon points="740.5,633.2 788.6,604.6 790.2,609.2 742.0,637.8"/>
<polygon points="742.0,637.8 790.2,609.2 791.7,613.8 743.6,642.5"/>
<polygon points="743.6,642.5 791.7,613.8 793.3,618.3 745.2,647.0"/>
<polygon points="745.2,647.0 793.3,618.3 794.8,622.5 746.8,651.3"/>
<polygon points="746.8,651.3 794.8,622.5 796.4,626.7 748.4,655.6"/>
<polygon points="748.4,655.6 796.4,626.7 798.0,631.0 750.1,659.9"/>
<polygon points="750.1,659.9 798.0,631.0 799.6,635.2 751.7,664.2"/>
<polygon points="751.7,664.2 799.6,635.2 801.1,639.4 753.3,668.5"/>
<polygon points="753.3,668.5 801.1,639.4 802.7,643.7 754.9,672.8"/>
<polygon points="754.9,672.8 802.7,643.7 804.3,647.9 756.5,677.0"/>
<polygon points="756.5,677.0 804.3,647.9 805.8,652.1 758.1,681.3"/>
<polygon points="758.1,681.3 805.8,652.1 807.4,656.4 759.7,685.6"/>
<polygon points="759.7,685.6 807.4,656.4 809.0,660.6 761.3,689.9"/>
<polygon points="761.3,689.9 809.0,660.6 810.5,664.8 762.9,694.1"/>
<polygon points="762.9,694.1 810.5,664.8 812.1,668.9 764.5,698.3"/>
<polygon points="764.5,698.3 812.1,668.9 813.7,672.6 766.1,702.1"/>
<polygon points="766.1,702.1 813.7,672.6 815.3,675.9 767.8,705.5"/>
<polygon points="767.8,705.5 815.3,675.9 817.0,679.0 769.4,708.6"/>
<polygon points="769.4,708.6 817.0,679.0 818.6,682.2 771.1,711.8"/>
<polygon points="771.1,711.8 818.6,682.2 820.2,685.6 772.7,715.3"/>
<polygon points="772.7,715.3 820.2,685.6 821.8,689.3 774.3,719.1"/>
<polygon points="774.3,719.1 821.8,689.3 823.4,693.1 776.0,722.9"/>
<polygon points="776.0,722.9 823.4,693.1 825.0,696.6 777.6,726.5"/>
<polygon points="777.6,726.5 825.0,696.6 826.7,699.5 779.3,729.4"/>
<polygon points="779.3,729.4 826.7,699.5 828.3,702.1 781.0,732.0"/>
<polygon points="781.0,732.0 828.3,702.1 830.0,704.3 782.7,734.3"/>
<polygon points="782.7,734.3 830.0,704.3 831.8,706.2 784.4,736.2"/>
<polygon points="784.4,736.2 831.8,706.2 833.5,707.8 786.2,737.9"/>
<polygon points="786.2,737.9 833.5,707.8 835.3,709.4 787.9,739.5"/>
<polygon points="787.9,739.5 835.3,709.4 837.0,710.7 789.7,740.8"/>
<polygon points="789.7,740.8 837.0,710.7 837.3,710.8 790.0,741.0"/>
<polyline points="835.1,712.2 834.9,712.1 833.1,710.8 831.3,709.2 829.6,707.6 827.8,705.7 826.1,703.4 824.5,700.9 822.8,698.0 821.2,694.5 819.6,690.7 818.0,686.9 816.4,683.6 814.8,680.4 813.1,677.3 811.5,674.0 809.9,670.2 808.3,666.1 806.8,661.9 805.2,657.7 803.6,653.5 802.0,649.2 800.5,645.0 798.9,640.8 797.3,636.6 795.8,632.3 794.2,628.1 792.6,623.9 791.0,619.6 789.5,615.1 787.9,610.5 786.4,605.9 784.8,601.5 783.2,597.3 781.6,593.4 780.0,590.1 778.4,586.8 776.7,583.8 775.0,581.4 773.3,579.9 771.5,579.0 769.7,578.3 768.0,577.6 766.2,576.9 764.4,576.2 762.7,575.5 760.9,575.0 759.1,574.3 757.4,573.4 755.6,572.3 753.9,570.9 752.2,569.3 750.5,567.7 748.8,566.0 747.1,564.2 745.4,562.5 743.7,560.8 742.0,558.9 740.3,556.7 738.7,554.3 737.0,551.8 735.4,549.2 733.7,546.5 732.1,543.5 730.5,540.4 728.8,537.0 727.3,533.2 725.7,528.3 724.2,522.5 722.7,516.5 721.2,511.1 719.6,506.5 718.0,502.4 716.4,498.2 714.9,493.7 713.5,484.3 712.3,470.7 711.3,453.3 710.3,432.4 709.6,408.1 708.8,382.0 708.3,350.4 707.7,319.9 707.0,291.0 706.2,263.6 705.3,239.4 704.4,215.0 703.5,191.9 701.8,185.7 700.3,177.9" fill="none" stroke-width="3.4"/>
<polygon points="376.7,555.9 375.0,503.4 376.4,504.3 377.8,505.2 379.2,506.0 380.6,506.9 382.0,507.8 383.3,508.7 384.7,509.6 386.1,510.4 387.5,511.3 388.9,512.2 390.3,513.1 391.7,514.0 393.1,514.8 394.5,515.7 395.9,516.6 397.3,517.4 398.7,518.3 400.2,519.1 401.6,520.0 403.0,520.9 404.4,521.7 405.8,522.6 407.2,523.4 408.6,524.2 410.0,525.1 411.4,525.9 412.9,526.8 414.3,527.6 415.7,528.4 417.1,529.3 418.6,530.1 420.0,531.0 421.4,531.8 422.8,532.6 424.3,533.5 425.7,534.3 427.1,535.2 428.5,536.0 430.0,536.8 431.4,537.7 432.9,538.5 434.3,539.3 435.7,540.2 437.2,541.0 438.6,541.8 440.1,542.7 441.5,543.5 442.9,544.3 444.4,545.1 445.8,545.8 447.3,546.4 448.7,547.0 450.2,547.6 451.6,548.2 453.1,548.8 454.5,549.3 456.0,549.9 457.4,550.4 458.9,550.9 460.4,551.5 461.8,552.1 463.3,552.7 464.8,553.3 466.2,554.0 467.7,554.6 469.2,555.3 470.6,555.9 472.1,556.6 473.6,557.2 475.1,557.9 476.5,558.5 478.0,559.2 479.5,559.8 481.0,560.4 482.5,561.0 483.9,561.6 485.4,562.2 486.9,562.7 488.4,563.2 489.9,563.8 491.4,564.3 492.9,564.7 494.4,565.2 495.9,565.6 497.4,566.0 498.9,566.4 500.4,566.7 501.9,567.0 503.4,567.3 504.9,567.5 506.4,567.7 507.9,567.8 509.4,567.8 510.9,567.6 512.5,567.3 514.0,566.8 515.5,566.2 517.0,565.5 518.5,564.7 520.1,563.8 521.6,562.9 523.1,561.9 524.7,561.0 526.2,560.0 527.7,559.0 529.3,558.1 530.8,557.2 532.4,556.4 533.9,555.6 535.5,554.9 537.0,554.2 538.6,553.5 540.2,552.8 541.7,552.0 543.3,551.3 544.9,550.5 546.4,549.7 548.0,548.8 549.6,547.9 551.2,546.8 552.8,545.7 554.4,544.5 556.0,543.1 557.6,541.6 559.2,539.9 560.8,538.1 562.4,536.3 564.0,534.3 565.6,532.4 567.2,530.3 568.9,528.2 570.5,526.0 572.1,523.8 573.8,521.5 575.4,519.0 577.1,516.6 578.7,514.0 580.4,511.4 582.1,508.7 583.8,505.9 585.4,503.1 587.1,500.2 588.8,497.2 590.5,494.1 592.2,491.0 593.9,487.7 595.6,484.2 597.3,480.6 599.1,476.8 600.8,472.7 602.6,468.4 604.3,463.8 606.1,458.7 607.9,453.4 609.7,447.6 611.5,441.3 613.3,434.3 615.2,426.7 617.1,419.1 618.9,411.7 620.8,404.9 622.7,398.0 624.6,390.2 626.5,381.1 628.5,370.4 630.6,358.0 632.6,344.0 634.8,325.9 637.4,295.3 639.9,263.7 642.3,240.7 644.6,222.6 646.8,206.9 648.8,200.8 650.6,200.0 652.3,207.8 653.9,214.2 655.1,237.5 656.3,262.2 657.4,286.7 658.4,314.3 659.4,343.6 660.3,374.4 661.1,406.3 662.1,432.7 663.1,457.2 664.2,478.3 665.4,495.8 666.8,509.6 668.2,519.1 669.8,523.7 671.4,527.9 673.0,532.1 674.6,536.7 676.2,542.3 677.8,548.3 679.3,554.1 680.9,559.2 682.5,563.0 684.2,566.4 685.8,569.6 687.5,572.6 689.1,575.4 690.8,578.0 692.5,580.6 694.1,583.0 695.8,585.2 697.5,587.1 699.2,588.9 700.9,590.7 702.7,592.4 704.4,594.2 706.1,595.8 707.8,597.4 709.5,598.9 711.3,600.1 713.0,600.9 714.8,601.6 716.6,602.2 718.3,602.9 720.1,603.7 721.9,604.4 723.6,605.1 725.4,605.8 727.2,606.8 728.9,608.3 730.6,610.7 732.3,613.8 734.0,617.1 735.6,620.5 737.2,624.5 738.9,628.7 740.5,633.2 742.0,637.8 743.6,642.5 745.2,647.0 746.8,651.3 748.4,655.6 750.1,659.9 751.7,664.2 753.3,668.5 754.9,672.8 756.5,677.0 758.1,681.3 759.7,685.6 761.3,689.9 762.9,694.1 764.5,698.3 766.1,702.1 767.8,705.5 769.4,708.6 771.1,711.8 772.7,715.3 774.3,719.1 776.0,722.9 777.6,726.5 779.3,729.4 781.0,732.0 782.7,734.3 784.4,736.2 786.2,737.9 787.9,739.5 789.7,740.8 790.0,741.0 786.4,798.2" fill="#ff00ff" stroke-width="2"/>
<polygon points="786.4,798.2 790.0,741.0 837.3,710.8 833.2,767.6" stroke-width="4.6"/>
</g>
<g fill="#00aaaa" stroke="#00ffff" stroke-width="2.2" stroke-linejoin="round">
<polygon points="305.6,539.5 354.5,515.2 355.9,516.1 307.0,540.4"/>
<polygon points="307.0,540.4 355.9,516.1 357.3,517.0 308.3,541.3"/>
<polygon points="308.3,541.3 357.3,517.0 358.7,517.8 309.7,542.2"/>
<polygon points="309.7,542.2 358.7,517.8 360.0,518.7 311.1,543.1"/>
<polygon points="311.1,543.1 360.0,518.7 361.4,519.6 312.5,544.0"/>
<polygon points="312.5,544.0 361.4,519.6 362.8,520.5 313.9,544.9"/>
<polygon points="313.9,544.9 362.8,520.5 364.2,521.3 315.3,545.8"/>
<polygon points="315.3,545.8 364.2,521.3 365.6,522.2 316.7,546.7"/>
<polygon points="316.7,546.7 365.6,522.2 367.0,523.1 318.0,547.5"/>
<polygon points="318.0,547.5 367.0,523.1 368.4,524.0 319.4,548.4"/>
<polygon points="319.4,548.4 368.4,524.0 369.8,524.8 320.8,549.3"/>
<polygon points="320.8,549.3 369.8,524.8 371.2,525.7 322.2,550.2"/>
<polygon points="322.2,550.2 371.2,525.7 372.6,526.6 323.6,551.1"/>
<polygon points="323.6,551.1 372.6,526.6 374.0,527.4 325.0,552.0"/>
<polygon points="325.0,552.0 374.0,527.4 375.4,528.3 326.4,552.9"/>
<polygon points="326.4,552.9 375.4,528.3 376.8,529.2 327.8,553.8"/>
<polygon points="327.8,553.8 376.8,529.2 378.2,530.0 329.2,554.7"/>
<polygon points="329.2,554.7 378.2,530.0 379.6,530.9 330.6,555.6"/>
<polygon points="330.6,555.6 379.6,530.9 381.0,531.7 332.0,556.4"/>
<polygon points="332.0,556.4 381.0,531.7 382.4,532.6 333.4,557.3"/>
<polygon points="333.4,557.3 382.4,532.6 383.8,533.4 334.8,558.2"/>
<polygon points="334.8,558.2 383.8,533.4 385.2,534.3 336.2,559.1"/>
<polygon points="336.2,559.1 385.2,534.3 386.6,535.1 337.6,559.9"/>
<polygon points="337.6,559.9 386.6,535.1 388.1,536.0 339.0,560.8"/>
<polygon points="339.0,560.8 388.1,536.0 389.5,536.8 340.4,561.7"/>
<polygon points="340.4,561.7 389.5,536.8 390.9,537.7 341.9,562.5"/>
<polygon points="341.9,562.5 390.9,537.7 392.3,538.5 343.3,563.4"/>
<polygon points="343.3,563.4 392.3,538.5 393.7,539.4 344.7,564.3"/>
<polygon points="344.7,564.3 393.7,539.4 395.1,540.2 346.1,565.1"/>
<polygon points="346.1,565.1 395.1,540.2 396.6,541.1 347.5,566.0"/>
<polygon points="347.5,566.0 396.6,541.1 398.0,541.9 348.9,566.9"/>
<polygon points="348.9,566.9 398.0,541.9 399.4,542.7 350.4,567.8"/>
<polygon points="350.4,567.8 399.4,542.7 400.8,543.6 351.8,568.6"/>
<polygon points="351.8,568.6 400.8,543.6 402.2,544.4 353.2,569.5"/>
<polygon points="353.2,569.5 402.2,544.4 403.7,545.3 354.6,570.4"/>
<polygon points="354.6,570.4 403.7,545.3 405.1,546.1 356.0,571.2"/>
<polygon points="356.0,571.2 405.1,546.1 406.5,547.0 357.5,572.1"/>
<polygon points="357.5,572.1 406.5,547.0 408.0,547.8 358.9,573.0"/>
<polygon points="358.9,573.0 408.0,547.8 409.4,548.7 360.3,573.8"/>
<polygon points="360.3,573.8 409.4,548.7 410.8,549.5 361.8,574.7"/>
<polygon points="361.8,574.7 410.8,549.5 412.3,550.4 363.2,575.6"/>
<polygon points="363.2,575.6 412.3,550.4 413.7,551.2 364.6,576.5"/>
<polygon points="364.6,576.5 413.7,551.2 415.1,552.0 366.1,577.3"/>
<polygon points="366.1,577.3 415.1,552.0 416.6,552.9 367.5,578.2"/>
<polygon points="367.5,578.2 416.6,552.9 418.0,553.7 368.9,579.1"/>
<polygon points="368.9,579.1 418.0,553.7 419.5,554.6 370.4,579.9"/>
<polygon points="370.4,579.9 419.5,554.6 420.9,555.4 371.8,580.8"/>
<polygon points="371.8,580.8 420.9,555.4 422.3,556.2 373.2,581.6"/>
<polygon points="373.2,581.6 422.3,556.2 423.8,557.0 374.7,582.4"/>
<polygon points="374.7,582.4 423.8,557.0 425.2,557.8 376.1,583.2"/>
<polygon points="376.1,583.2 425.2,557.8 426.7,558.4 377.6,583.9"/>
<polygon points="377.6,583.9 426.7,558.4 428.1,559.1 379.0,584.6"/>
<polygon points="379.0,584.6 428.1,559.1 429.6,559.7 380.4,585.2"/>
<polygon points="380.4,585.2 429.6,559.7 431.0,560.4 381.9,585.9"/>
<polygon points="381.9,585.9 431.0,560.4 432.5,561.0 383.3,586.5"/>
<polygon points="383.3,586.5 432.5,561.0 433.9,561.6 384.8,587.2"/>
<polygon points="384.8,587.2 433.9,561.6 435.4,562.2 386.2,587.8"/>
<polygon points="386.2,587.8 435.4,562.2 436.8,562.8 387.7,588.4"/>
<polygon points="387.7,588.4 436.8,562.8 438.3,563.4 389.1,589.0"/>
<polygon points="389.1,589.0 438.3,563.4 439.7,564.0 390.6,589.6"/>
<polygon points="390.6,589.6 439.7,564.0 441.2,564.6 392.0,590.3"/>
<polygon points="392.0,590.3 441.2,564.6 442.7,565.2 393.5,591.0"/>
<polygon points="393.5,591.0 442.7,565.2 444.1,565.9 394.9,591.6"/>
<polygon points="394.9,591.6 444.1,565.9 445.6,566.6 396.4,592.3"/>
<polygon points="396.4,592.3 445.6,566.6 447.0,567.3 397.8,593.0"/>
<polygon points="397.8,593.0 447.0,567.3 448.5,568.0 399.3,593.8"/>
<polygon points="399.3,593.8 448.5,568.0 450.0,568.6 400.8,594.5"/>
<polygon points="400.8,594.5 450.0,568.6 451.5,569.3 402.2,595.2"/>
<polygon points="402.2,595.2 451.5,569.3 452.9,570.0 403.7,595.9"/>
<polygon points="403.7,595.9 452.9,570.0 454.4,570.7 405.2,596.6"/>
<polygon points="405.2,596.6 454.4,570.7 455.9,571.4 406.6,597.3"/>
<polygon points="406.6,597.3 455.9,571.4 457.4,572.0 408.1,598.0"/>
<polygon points="408.1,598.0 457.4,572.0 458.8,572.7 409.6,598.7"/>
<polygon points="409.6,598.7 458.8,572.7 460.3,573.4 411.1,599.4"/>
<polygon points="411.1,599.4 460.3,573.4 461.8,574.0 412.5,600.0"/>
<polygon points="412.5,600.0 461.8,574.0 463.3,574.6 414.0,600.7"/>
<polygon points="414.0,600.7 463.3,574.6 464.8,575.2 415.5,601.3"/>
<polygon points="415.5,601.3 464.8,575.2 466.2,575.8 417.0,601.9"/>
<polygon points="417.0,601.9 466.2,575.8 467.7,576.4 418.4,602.5"/>
<polygon points="418.4,602.5 467.7,576.4 469.2,577.0 419.9,603.1"/>
<polygon points="419.9,603.1 469.2,577.0 470.7,577.6 421.4,603.7"/>
<polygon points="421.4,603.7 470.7,577.6 472.2,578.1 422.9,604.3"/>
<polygon points="422.9,604.3 472.2,578.1 473.7,578.6 424.4,604.8"/>
<polygon points="424.4,604.8 473.7,578.6 475.2,579.1 425.9,605.4"/>
<polygon points="425.9,605.4 475.2,579.1 476.7,579.6 427.4,605.9"/>
<polygon points="427.4,605.9 476.7,579.6 478.2,580.1 428.8,606.3"/>
<polygon points="428.8,606.3 478.2,580.1 479.7,580.5 430.3,606.8"/>
<polygon points="430.3,606.8 479.7,580.5 481.2,580.9 431.8,607.2"/>
<polygon points="431.8,607.2 481.2,580.9 482.7,581.3 433.3,607.6"/>
<polygon points="433.3,607.6 482.7,581.3 484.2,581.6 434.8,608.0"/>
<polygon points="434.8,608.0 484.2,581.6 485.7,581.9 436.3,608.3"/>
<polygon points="436.3,608.3 485.7,581.9 487.2,582.2 437.8,608.6"/>
<polygon points="437.8,608.6 487.2,582.2 488.7,582.4 439.3,608.8"/>
<polygon points="439.3,608.8 488.7,582.4 490.2,582.4 440.8,608.8"/>
<polygon points="440.8,608.8 490.2,582.4 491.7,582.3 442.3,608.7"/>
<polygon points="442.3,608.7 491.7,582.3 493.2,582.1 443.8,608.5"/>
<polygon points="443.8,608.5 493.2,582.1 494.7,581.7 445.3,608.2"/>
<polygon points="445.3,608.2 494.7,581.7 496.2,581.3 446.8,607.8"/>
<polygon points="446.8,607.8 496.2,581.3 497.8,580.8 448.3,607.3"/>
<polygon points="448.3,607.3 497.8,580.8 499.3,580.3 449.8,606.8"/>
<polygon points="449.8,606.8 499.3,580.3 500.8,579.7 451.3,606.3"/>
<polygon points="451.3,606.3 500.8,579.7 502.3,579.1 452.8,605.7"/>
<polygon points="452.8,605.7 502.3,579.1 503.9,578.5 454.3,605.1"/>
<polygon points="454.3,605.1 503.9,578.5 505.4,577.9 455.8,604.5"/>
<polygon points="455.8,604.5 505.4,577.9 506.9,577.3 457.3,603.9"/>
<polygon points="457.3,603.9 506.9,577.3 508.4,576.7 458.8,603.3"/>
<polygon points="458.8,603.3 508.4,576.7 510.0,576.2 460.3,602.8"/>
<polygon points="460.3,602.8 510.0,576.2 511.5,575.7 461.9,602.3"/>
<polygon points="461.9,602.3 511.5,575.7 513.1,575.3 463.4,601.9"/>
<polygon points="463.4,601.9 513.1,575.3 514.6,574.9 464.9,601.5"/>
<polygon points="464.9,601.5 514.6,574.9 516.2,574.5 466.4,601.1"/>
<polygon points="466.4,601.1 516.2,574.5 517.7,574.1 468.0,600.8"/>
<polygon points="468.0,600.8 517.7,574.1 519.3,573.7 469.5,600.4"/>
<polygon points="469.5,600.4 519.3,573.7 520.8,573.3 471.0,600.0"/>
<polygon points="471.0,600.0 520.8,573.3 522.4,572.9 472.6,599.7"/>
<polygon points="472.6,599.7 522.4,572.9 523.9,572.5 474.1,599.2"/>
<polygon points="474.1,599.2 523.9,572.5 525.5,572.0 475.7,598.8"/>
<polygon points="475.7,598.8 525.5,572.0 527.0,571.5 477.2,598.3"/>
<polygon points="477.2,598.3 527.0,571.5 528.6,570.9 478.8,597.7"/>
<polygon points="478.8,597.7 528.6,570.9 530.2,570.3 480.3,597.1"/>
<polygon points="480.3,597.1 530.2,570.3 531.7,569.6 481.9,596.4"/>
<polygon points="481.9,596.4 531.7,569.6 533.3,568.8 483.4,595.6"/>
<polygon points="483.4,595.6 533.3,568.8 534.9,567.9 485.0,594.7"/>
<polygon points="485.0,594.7 534.9,567.9 536.5,566.8 486.5,593.7"/>
<polygon points="486.5,593.7 536.5,566.8 538.1,565.7 488.1,592.6"/>
<polygon points="488.1,592.6 538.1,565.7 539.7,564.5 489.6,591.3"/>
<polygon points="489.6,591.3 539.7,564.5 541.2,563.1 491.2,590.0"/>
<polygon points="491.2,590.0 541.2,563.1 542.8,561.8 492.8,588.7"/>
<polygon points="492.8,588.7 542.8,561.8 544.4,560.4 494.3,587.3"/>
<polygon points="494.3,587.3 544.4,560.4 546.0,559.0 495.9,585.9"/>
<polygon points="495.9,585.9 546.0,559.0 547.6,557.5 497.5,584.4"/>
<polygon points="497.5,584.4 547.6,557.5 549.3,555.9 499.1,582.9"/>
<polygon points="499.1,582.9 549.3,555.9 550.9,554.3 500.7,581.3"/>
<polygon points="500.7,581.3 550.9,554.3 552.5,552.7 502.2,579.6"/>
<polygon points="502.2,579.6 552.5,552.7 554.1,550.9 503.8,577.9"/>
<polygon points="503.8,577.9 554.1,550.9 555.7,549.1 505.4,576.1"/>
<polygon points="505.4,576.1 555.7,549.1 557.4,547.3 507.0,574.2"/>
<polygon points="507.0,574.2 557.4,547.3 559.0,545.4 508.6,572.3"/>
<polygon points="508.6,572.3 559.0,545.4 560.6,543.4 510.2,570.4"/>
<polygon points="510.2,570.4 560.6,543.4 562.3,541.4 511.8,568.4"/>
<polygon points="511.8,568.4 562.3,541.4 563.9,539.4 513.4,566.3"/>
<polygon points="513.4,566.3 563.9,539.4 565.6,537.3 515.0,564.2"/>
<polygon points="515.0,564.2 565.6,537.3 567.2,535.1 516.7,562.0"/>
<polygon points="516.7,562.0 567.2,535.1 568.9,532.9 518.3,559.8"/>
<polygon points="518.3,559.8 568.9,532.9 570.5,530.5 519.9,557.5"/>
<polygon points="519.9,557.5 570.5,530.5 572.2,528.1 521.5,555.0"/>
<polygon points="521.5,555.0 572.2,528.1 573.9,525.5 523.2,552.5"/>
<polygon points="523.2,552.5 573.9,525.5 575.5,522.9 524.8,549.8"/>
<polygon points="524.8,549.8 575.5,522.9 577.2,520.0 526.4,547.0"/>
<polygon points="526.4,547.0 577.2,520.0 578.9,517.0 528.1,544.0"/>
<polygon points="528.1,544.0 578.9,517.0 580.6,513.8 529.7,540.7"/>
<polygon points="529.7,540.7 580.6,513.8 582.3,510.3 531.4,537.2"/>
<polygon points="531.4,537.2 582.3,510.3 584.1,506.5 533.1,533.4"/>
<polygon points="533.1,533.4 584.1,506.5 585.8,502.5 534.7,529.4"/>
<polygon points="534.7,529.4 585.8,502.5 587.5,498.1 536.4,525.0"/>
<polygon points="536.4,525.0 587.5,498.1 589.3,493.4 538.1,520.2"/>
<polygon points="538.1,520.2 589.3,493.4 591.0,488.0 539.8,514.8"/>
<polygon points="539.8,514.8 591.0,488.0 592.8,482.2 541.5,509.0"/>
<polygon points="541.5,509.0 592.8,482.2 594.6,476.4 543.2,503.1"/>
<polygon points="543.2,503.1 594.6,476.4 596.4,470.8 544.9,497.5"/>
<polygon points="544.9,497.5 596.4,470.8 598.1,465.6 546.6,492.3"/>
<polygon points="546.6,492.3 598.1,465.6 599.9,460.4 548.3,487.0"/>
<polygon points="548.3,487.0 599.9,460.4 601.8,454.5 550.1,481.1"/>
<polygon points="550.1,481.1 601.8,454.5 603.6,447.5 551.8,474.0"/>
<polygon points="551.8,474.0 603.6,447.5 605.5,439.3 553.6,465.8"/>
<polygon points="553.6,465.8 605.5,439.3 607.4,429.8 555.4,456.2"/>
<polygon points="555.4,456.2 607.4,429.8 609.3,419.0 557.2,445.3"/>
<polygon points="557.2,445.3 609.3,419.0 611.3,405.0 559.0,431.2"/>
<polygon points="559.0,431.2 611.3,405.0 613.5,381.4 560.9,407.3"/>
<polygon points="560.9,407.3 613.5,381.4 615.7,356.9 562.9,382.7"/>
<polygon points="562.9,382.7 615.7,356.9 617.9,339.2 564.8,364.8"/>
<polygon points="564.8,364.8 617.9,339.2 619.9,325.4 566.7,350.9"/>
<polygon points="566.7,350.9 619.9,325.4 622.0,313.6 568.6,338.9"/>
<polygon points="568.6,338.9 622.0,313.6 623.9,309.0 570.4,334.3"/>
<polygon points="570.4,334.3 623.9,309.0 625.7,308.6 572.2,333.9"/>
<polygon points="572.2,333.9 625.7,308.6 627.3,314.9 573.9,340.3"/>
<polygon points="573.9,340.3 627.3,314.9 629.0,320.1 575.7,345.5"/>
<polygon points="575.7,345.5 629.0,320.1 630.4,338.4 577.2,364.1"/>
<polygon points="577.2,364.1 630.4,338.4 631.7,357.8 578.8,383.7"/>
<polygon points="578.8,383.7 631.7,357.8 633.0,377.0 580.3,403.2"/>
<polygon points="580.3,403.2 633.0,377.0 634.3,398.8 581.8,425.2"/>
<polygon points="581.8,425.2 634.3,398.8 635.5,421.9 583.3,448.6"/>
<polygon points="583.3,448.6 635.5,421.9 636.7,446.3 584.7,473.2"/>
<polygon points="584.7,473.2 636.7,446.3 637.8,471.6 586.1,498.8"/>
<polygon points="586.1,498.8 637.8,471.6 639.0,492.6 587.5,520.0"/>
<polygon points="587.5,520.0 639.0,492.6 640.3,512.2 589.0,539.8"/>
<polygon points="589.0,539.8 640.3,512.2 641.6,529.1 590.5,556.8"/>
<polygon points="590.5,556.8 641.6,529.1 642.9,543.2 592.0,571.1"/>
<polygon points="592.0,571.1 642.9,543.2 644.4,554.4 593.5,582.4"/>
<polygon points="593.5,582.4 644.4,554.4 645.9,562.2 595.1,590.3"/>
<polygon points="595.1,590.3 645.9,562.2 647.5,566.0 596.8,594.3"/>
<polygon points="596.8,594.3 647.5,566.0 649.2,569.6 598.4,597.9"/>
<polygon points="598.4,597.9 649.2,569.6 650.8,573.2 600.1,601.5"/>
<polygon points="600.1,601.5 650.8,573.2 652.4,577.1 601.8,605.4"/>
<polygon points="601.8,605.4 652.4,577.1 654.0,581.7 603.4,610.2"/>
<polygon points="603.4,610.2 654.0,581.7 655.6,586.8 605.1,615.3"/>
<polygon points="605.1,615.3 655.6,586.8 657.2,591.7 606.7,620.2"/>
<polygon points="606.7,620.2 657.2,591.7 658.9,595.9 608.4,624.5"/>
<polygon points="608.4,624.5 658.9,595.9 660.5,599.2 610.0,627.8"/>
<polygon points="610.0,627.8 660.5,599.2 662.2,602.1 611.7,630.8"/>
<polygon points="611.7,630.8 662.2,602.1 663.8,604.9 613.4,633.7"/>
<polygon points="613.4,633.7 663.8,604.9 665.5,607.5 615.1,636.3"/>
<polygon points="615.1,636.3 665.5,607.5 667.2,610.0 616.8,638.8"/>
<polygon points="616.8,638.8 667.2,610.0 668.8,612.2 618.4,641.1"/>
<polygon points="618.4,641.1 668.8,612.2 670.5,614.5 620.1,643.4"/>
<polygon points="620.1,643.4 670.5,614.5 672.2,616.6 621.8,645.6"/>
<polygon points="621.8,645.6 672.2,616.6 673.9,618.6 623.5,647.6"/>
<polygon points="623.5,647.6 673.9,618.6 675.6,620.3 625.3,649.4"/>
<polygon points="625.3,649.4 675.6,620.3 677.3,621.9 627.0,651.0"/>
<polygon points="627.0,651.0 677.3,621.9 679.0,623.6 628.7,652.7"/>
<polygon points="628.7,652.7 679.0,623.6 680.7,625.2 630.4,654.3"/>
<polygon points="630.4,654.3 680.7,625.2 682.4,626.7 632.1,655.9"/>
<polygon points="632.1,655.9 682.4,626.7 684.1,628.3 633.8,657.5"/>
<polygon points="633.8,657.5 684.1,628.3 685.9,629.8 635.6,659.0"/>
<polygon points="635.6,659.0 685.9,629.8 687.6,631.1 637.3,660.4"/>
<polygon points="637.3,660.4 687.6,631.1 689.3,632.2 639.0,661.6"/>
<polygon points="639.0,661.6 689.3,632.2 691.1,633.1 640.8,662.5"/>
<polygon points="640.8,662.5 691.1,633.1 692.8,633.9 642.5,663.3"/>
<polygon points="642.5,663.3 692.8,633.9 694.6,634.6 644.3,664.0"/>
<polygon points="644.3,664.0 694.6,634.6 696.3,635.3 646.0,664.7"/>
<polygon points="646.0,664.7 696.3,635.3 698.1,636.1 647.8,665.6"/>
<polygon points="647.8,665.6 698.1,636.1 699.9,636.9 649.6,666.4"/>
<polygon points="649.6,666.4 699.9,636.9 701.6,637.6 651.3,667.1"/>
<polygon points="651.3,667.1 701.6,637.6 703.4,638.4 653.1,668.0"/>
<polygon points="653.1,668.0 703.4,638.4 705.2,639.4 654.8,669.0"/>
<polygon points="654.8,669.0 705.2,639.4 706.9,640.8 656.6,670.4"/>
<polygon points="656.6,670.4 706.9,640.8 708.6,642.9 658.3,672.6"/>
<polygon points="658.3,672.6 708.6,642.9 710.3,645.5 660.0,675.3"/>
<polygon points="660.0,675.3 710.3,645.5 712.0,648.4 661.7,678.2"/>
<polygon points="661.7,678.2 712.0,648.4 713.7,651.3 663.4,681.1"/>
<polygon points="663.4,681.1 713.7,651.3 715.3,654.7 665.1,684.6"/>
<polygon points="665.1,684.6 715.3,654.7 717.0,658.3 666.8,688.2"/>
<polygon points="666.8,688.2 717.0,658.3 718.6,662.1 668.5,692.1"/>
<polygon points="668.5,692.1 718.6,662.1 720.3,666.0 670.1,696.0"/>
<polygon points="670.1,696.0 720.3,666.0 721.9,669.9 671.8,700.1"/>
<polygon points="671.8,700.1 721.9,669.9 723.5,673.8 673.5,703.9"/>
<polygon points="673.5,703.9 723.5,673.8 725.2,677.5 675.2,707.7"/>
<polygon points="675.2,707.7 725.2,677.5 726.8,681.1 676.8,711.4"/>
<polygon points="676.8,711.4 726.8,681.1 728.5,684.7 678.5,715.1"/>
<polygon points="678.5,715.1 728.5,684.7 730.1,688.4 680.2,718.8"/>
<polygon points="680.2,718.8 730.1,688.4 731.8,692.0 681.9,722.5"/>
<polygon points="681.9,722.5 731.8,692.0 733.4,695.7 683.5,726.2"/>
<polygon points="683.5,726.2 733.4,695.7 735.1,699.3 685.2,729.9"/>
<polygon points="685.2,729.9 735.1,699.3 736.7,703.0 686.9,733.6"/>
<polygon points="686.9,733.6 736.7,703.0 738.4,706.7 688.6,737.3"/>
<polygon points="688.6,737.3 738.4,706.7 740.0,710.3 690.2,741.0"/>
<polygon points="690.2,741.0 740.0,710.3 741.6,713.9 691.9,744.7"/>
<polygon points="691.9,744.7 741.6,713.9 743.3,717.5 693.6,748.3"/>
<polygon points="693.6,748.3 743.3,717.5 745.0,720.7 695.3,751.6"/>
<polygon points="695.3,751.6 745.0,720.7 746.6,723.6 697.0,754.6"/>
<polygon points="697.0,754.6 746.6,723.6 748.3,726.4 698.7,757.4"/>
<polygon points="698.7,757.4 748.3,726.4 750.0,729.2 700.4,760.2"/>
<polygon points="700.4,760.2 750.0,729.2 751.7,732.2 702.1,763.2"/>
<polygon points="702.1,763.2 751.7,732.2 753.4,735.4 703.8,766.5"/>
<polygon points="703.8,766.5 753.4,735.4 755.0,738.8 705.5,769.9"/>
<polygon points="705.5,769.9 755.0,738.8 756.7,741.8 707.2,773.0"/>
<polygon points="707.2,773.0 756.7,741.8 758.4,744.4 708.9,775.7"/>
<polygon points="708.9,775.7 758.4,744.4 760.1,746.7 710.7,778.0"/>
<polygon points="710.7,778.0 760.1,746.7 761.9,748.8 712.4,780.1"/>
<polygon points="712.4,780.1 761.9,748.8 763.6,750.5 714.2,781.9"/>
<polygon points="714.2,781.9 763.6,750.5 765.4,752.1 715.9,783.5"/>
<polygon points="715.9,783.5 765.4,752.1 767.2,753.6 717.7,785.0"/>
<polygon points="717.7,785.0 767.2,753.6 768.9,754.8 719.5,786.3"/>
<polygon points="719.5,786.3 768.9,754.8 769.2,755.0 719.8,786.5"/>
<polyline points="766.9,756.5 766.6,756.3 764.9,755.0 763.1,753.6 761.3,752.0 759.6,750.2 757.8,748.2 756.1,745.8 754.4,743.3 752.7,740.2 751.1,736.9 749.4,733.6 747.7,730.6 746.0,727.8 744.3,725.1 742.7,722.1 741.0,718.9 739.3,715.3 737.7,711.7 736.0,708.1 734.4,704.4 732.7,700.8 731.1,697.1 729.5,693.5 727.8,689.8 726.2,686.1 724.5,682.5 722.9,678.9 721.2,675.2 719.6,671.3 717.9,667.4 716.3,663.5 714.6,659.7 713.0,656.1 711.3,652.7 709.7,649.8 708.0,646.9 706.3,644.3 704.6,642.2 702.8,640.7 701.1,639.7 699.3,639.0 697.5,638.3 695.8,637.4 694.0,636.6 692.2,635.9 690.5,635.2 688.7,634.5 687.0,633.6 685.3,632.5 683.5,631.1 681.8,629.6 680.1,628.1 678.4,626.5 676.7,624.9 675.0,623.3 673.3,621.7 671.6,620.0 669.9,618.0 668.2,615.8 666.5,613.6 664.8,611.3 663.1,608.9 661.5,606.2 659.8,603.5 658.2,600.5 656.5,597.2 654.9,593.0 653.3,588.1 651.7,583.0 650.1,578.4 648.5,574.5 646.8,570.9 645.2,567.4 643.5,563.5 642.0,555.7 640.6,544.5 639.2,530.4 637.9,513.5 636.6,493.9 635.4,472.9 634.3,447.6 633.1,423.2 631.9,400.0 630.6,378.2 629.3,359.0 627.9,339.6 626.5,321.2 624.8,316.1 623.2,309.8" fill="none" stroke-width="3.4"/>
<polygon points="308.0,591.0 305.6,539.5 307.0,540.4 308.3,541.3 309.7,542.2 311.1,543.1 312.5,544.0 313.9,544.9 315.3,545.8 316.7,546.7 318.0,547.5 319.4,548.4 320.8,549.3 322.2,550.2 323.6,551.1 325.0,552.0 326.4,552.9 327.8,553.8 329.2,554.7 330.6,555.6 332.0,556.4 333.4,557.3 334.8,558.2 336.2,559.1 337.6,559.9 339.0,560.8 340.4,561.7 341.9,562.5 343.3,563.4 344.7,564.3 346.1,565.1 347.5,566.0 348.9,566.9 350.4,567.8 351.8,568.6 353.2,569.5 354.6,570.4 356.0,571.2 357.5,572.1 358.9,573.0 360.3,573.8 361.8,574.7 363.2,575.6 364.6,576.5 366.1,577.3 367.5,578.2 368.9,579.1 370.4,579.9 371.8,580.8 373.2,581.6 374.7,582.4 376.1,583.2 377.6,583.9 379.0,584.6 380.4,585.2 381.9,585.9 383.3,586.5 384.8,587.2 386.2,587.8 387.7,588.4 389.1,589.0 390.6,589.6 392.0,590.3 393.5,591.0 394.9,591.6 396.4,592.3 397.8,593.0 399.3,593.8 400.8,594.5 402.2,595.2 403.7,595.9 405.2,596.6 406.6,597.3 408.1,598.0 409.6,598.7 411.1,599.4 412.5,600.0 414.0,600.7 415.5,601.3 417.0,601.9 418.4,602.5 419.9,603.1 421.4,603.7 422.9,604.3 424.4,604.8 425.9,605.4 427.4,605.9 428.8,606.3 430.3,606.8 431.8,607.2 433.3,607.6 434.8,608.0 436.3,608.3 437.8,608.6 439.3,608.8 440.8,608.8 442.3,608.7 443.8,608.5 445.3,608.2 446.8,607.8 448.3,607.3 449.8,606.8 451.3,606.3 452.8,605.7 454.3,605.1 455.8,604.5 457.3,603.9 458.8,603.3 460.3,602.8 461.9,602.3 463.4,601.9 464.9,601.5 466.4,601.1 468.0,600.8 469.5,600.4 471.0,600.0 472.6,599.7 474.1,599.2 475.7,598.8 477.2,598.3 478.8,597.7 480.3,597.1 481.9,596.4 483.4,595.6 485.0,594.7 486.5,593.7 488.1,592.6 489.6,591.3 491.2,590.0 492.8,588.7 494.3,587.3 495.9,585.9 497.5,584.4 499.1,582.9 500.7,581.3 502.2,579.6 503.8,577.9 505.4,576.1 507.0,574.2 508.6,572.3 510.2,570.4 511.8,568.4 513.4,566.3 515.0,564.2 516.7,562.0 518.3,559.8 519.9,557.5 521.5,555.0 523.2,552.5 524.8,549.8 526.4,547.0 528.1,544.0 529.7,540.7 531.4,537.2 533.1,533.4 534.7,529.4 536.4,525.0 538.1,520.2 539.8,514.8 541.5,509.0 543.2,503.1 544.9,497.5 546.6,492.3 548.3,487.0 550.1,481.1 551.8,474.0 553.6,465.8 555.4,456.2 557.2,445.3 559.0,431.2 560.9,407.3 562.9,382.7 564.8,364.8 566.7,350.9 568.6,338.9 570.4,334.3 572.2,333.9 573.9,340.3 575.7,345.5 577.2,364.1 578.8,383.7 580.3,403.2 581.8,425.2 583.3,448.6 584.7,473.2 586.1,498.8 587.5,520.0 589.0,539.8 590.5,556.8 592.0,571.1 593.5,582.4 595.1,590.3 596.8,594.3 598.4,597.9 600.1,601.5 601.8,605.4 603.4,610.2 605.1,615.3 606.7,620.2 608.4,624.5 610.0,627.8 611.7,630.8 613.4,633.7 615.1,636.3 616.8,638.8 618.4,641.1 620.1,643.4 621.8,645.6 623.5,647.6 625.3,649.4 627.0,651.0 628.7,652.7 630.4,654.3 632.1,655.9 633.8,657.5 635.6,659.0 637.3,660.4 639.0,661.6 640.8,662.5 642.5,663.3 644.3,664.0 646.0,664.7 647.8,665.6 649.6,666.4 651.3,667.1 653.1,668.0 654.8,669.0 656.6,670.4 658.3,672.6 660.0,675.3 661.7,678.2 663.4,681.1 665.1,684.6 666.8,688.2 668.5,692.1 670.1,696.0 671.8,700.1 673.5,703.9 675.2,707.7 676.8,711.4 678.5,715.1 680.2,718.8 681.9,722.5 683.5,726.2 685.2,729.9 686.9,733.6 688.6,737.3 690.2,741.0 691.9,744.7 693.6,748.3 695.3,751.6 697.0,754.6 698.7,757.4 700.4,760.2 702.1,763.2 703.8,766.5 705.5,769.9 707.2,773.0 708.9,775.7 710.7,778.0 712.4,780.1 714.2,781.9 715.9,783.5 717.7,785.0 719.5,786.3 719.8,786.5 717.1,843.5" fill="#00ffff" stroke-width="2"/>
<polygon points="717.1,843.5 719.8,786.5 769.2,755.0 766.0,811.6" stroke-width="4.6"/>
</g>
<g fill="#0000aa" stroke="#0000ff" stroke-width="2.2" stroke-linejoin="round">
<polygon points="233.4,577.2 284.3,551.9 285.7,552.8 234.8,578.1"/>
<polygon points="234.8,578.1 285.7,552.8 287.0,553.7 236.2,579.0"/>
<polygon points="236.2,579.0 287.0,553.7 288.4,554.6 237.5,580.0"/>
<polygon points="237.5,580.0 288.4,554.6 289.8,555.5 238.9,580.9"/>
<polygon points="238.9,580.9 289.8,555.5 291.2,556.4 240.3,581.8"/>
<polygon points="240.3,581.8 291.2,556.4 292.6,557.3 241.7,582.7"/>
<polygon points="241.7,582.7 292.6,557.3 294.0,558.2 243.1,583.7"/>
<polygon points="243.1,583.7 294.0,558.2 295.3,559.1 244.4,584.6"/>
<polygon points="244.4,584.6 295.3,559.1 296.7,560.0 245.8,585.5"/>
<polygon points="245.8,585.5 296.7,560.0 298.1,560.9 247.2,586.4"/>
<polygon points="247.2,586.4 298.1,560.9 299.5,561.8 248.6,587.4"/>
<polygon points="248.6,587.4 299.5,561.8 300.9,562.7 250.0,588.3"/>
<polygon points="250.0,588.3 300.9,562.7 302.3,563.6 251.4,589.2"/>
<polygon points="251.4,589.2 302.3,563.6 303.7,564.5 252.8,590.1"/>
<polygon points="252.8,590.1 303.7,564.5 305.1,565.4 254.1,591.0"/>
<polygon points="254.1,591.0 305.1,565.4 306.5,566.3 255.5,591.9"/>
<polygon points="255.5,591.9 306.5,566.3 307.9,567.2 256.9,592.9"/>
<polygon points="256.9,592.9 307.9,567.2 309.3,568.1 258.3,593.8"/>
<polygon points="258.3,593.8 309.3,568.1 310.7,569.0 259.7,594.7"/>
<polygon points="259.7,594.7 310.7,569.0 312.1,569.9 261.1,595.6"/>
<polygon points="261.1,595.6 312.1,569.9 313.5,570.7 262.5,596.5"/>
<polygon points="262.5,596.5 313.5,570.7 314.9,571.6 263.9,597.4"/>
<polygon points="263.9,597.4 314.9,571.6 316.3,572.5 265.3,598.3"/>
<polygon points="265.3,598.3 316.3,572.5 317.7,573.4 266.7,599.2"/>
<polygon points="266.7,599.2 317.7,573.4 319.1,574.2 268.1,600.1"/>
<polygon points="268.1,600.1 319.1,574.2 320.5,575.1 269.5,601.0"/>
<polygon points="269.5,601.0 320.5,575.1 321.9,576.0 270.9,601.9"/>
<polygon points="270.9,601.9 321.9,576.0 323.3,576.9 272.3,602.8"/>
<polygon points="272.3,602.8 323.3,576.9 324.7,577.8 273.7,603.7"/>
<polygon points="273.7,603.7 324.7,577.8 326.2,578.6 275.1,604.6"/>
<polygon points="275.1,604.6 326.2,578.6 327.6,579.5 276.6,605.5"/>
<polygon points="276.6,605.5 327.6,579.5 329.0,580.4 278.0,606.4"/>
<polygon points="278.0,606.4 329.0,580.4 330.4,581.3 279.4,607.3"/>
<polygon points="279.4,607.3 330.4,581.3 331.8,582.1 280.8,608.2"/>
<polygon points="280.8,608.2 331.8,582.1 333.2,583.0 282.2,609.1"/>
<polygon points="282.2,609.1 333.2,583.0 334.7,583.9 283.6,610.0"/>
<polygon points="283.6,610.0 334.7,583.9 336.1,584.8 285.0,610.9"/>
<polygon points="285.0,610.9 336.1,584.8 337.5,585.7 286.5,611.8"/>
<polygon points="286.5,611.8 337.5,585.7 338.9,586.5 287.9,612.8"/>
<polygon points="287.9,612.8 338.9,586.5 340.4,587.4 289.3,613.7"/>
<polygon points="289.3,613.7 340.4,587.4 341.8,588.3 290.7,614.6"/>
<polygon points="290.7,614.6 341.8,588.3 343.2,589.2 292.2,615.5"/>
<polygon points="292.2,615.5 343.2,589.2 344.7,590.1 293.6,616.4"/>
<polygon points="293.6,616.4 344.7,590.1 346.1,590.9 295.0,617.3"/>
<polygon points="295.0,617.3 346.1,590.9 347.5,591.8 296.4,618.2"/>
<polygon points="296.4,618.2 347.5,591.8 349.0,592.7 297.9,619.1"/>
<polygon points="297.9,619.1 349.0,592.7 350.4,593.6 299.3,620.0"/>
<polygon points="299.3,620.0 350.4,593.6 351.8,594.4 300.7,620.9"/>
<polygon points="300.7,620.9 351.8,594.4 353.3,595.2 302.2,621.7"/>
<polygon points="302.2,621.7 353.3,595.2 354.7,596.0 303.6,622.5"/>
<polygon points="303.6,622.5 354.7,596.0 356.1,596.8 305.0,623.3"/>
<polygon points="305.0,623.3 356.1,596.8 357.6,597.5 306.5,624.0"/>
<polygon points="306.5,624.0 357.6,597.5 359.0,598.2 307.9,624.7"/>
<polygon points="307.9,624.7 359.0,598.2 360.5,598.8 309.3,625.4"/>
<polygon points="309.3,625.4 360.5,598.8 361.9,599.5 310.8,626.1"/>
<polygon points="310.8,626.1 361.9,599.5 363.3,600.1 312.2,626.8"/>
<polygon points="312.2,626.8 363.3,600.1 364.8,600.8 313.6,627.4"/>
<polygon points="313.6,627.4 364.8,600.8 366.2,601.4 315.1,628.1"/>
<polygon points="315.1,628.1 366.2,601.4 367.7,602.0 316.5,628.7"/>
<polygon points="316.5,628.7 367.7,602.0 369.1,602.7 317.9,629.4"/>
<polygon points="317.9,629.4 369.1,602.7 370.6,603.3 319.4,630.1"/>
<polygon points="319.4,630.1 370.6,603.3 372.0,604.0 320.8,630.8"/>
<polygon points="320.8,630.8 372.0,604.0 373.5,604.7 322.3,631.5"/>
<polygon points="322.3,631.5 373.5,604.7 374.9,605.4 323.7,632.2"/>
<polygon points="323.7,632.2 374.9,605.4 376.4,606.1 325.2,633.0"/>
<polygon points="325.2,633.0 376.4,606.1 377.8,606.8 326.6,633.7"/>
<polygon points="326.6,633.7 377.8,606.8 379.3,607.5 328.1,634.4"/>
<polygon points="328.1,634.4 379.3,607.5 380.8,608.2 329.5,635.2"/>
<polygon points="329.5,635.2 380.8,608.2 382.2,609.0 331.0,635.9"/>
<polygon points="331.0,635.9 382.2,609.0 383.7,609.7 332.4,636.6"/>
<polygon points="332.4,636.6 383.7,609.7 385.2,610.4 333.9,637.4"/>
<polygon points="333.9,637.4 385.2,610.4 386.6,611.1 335.4,638.1"/>
<polygon points="335.4,638.1 386.6,611.1 388.1,611.8 336.8,638.8"/>
<polygon points="336.8,638.8 388.1,611.8 389.6,612.5 338.3,639.5"/>
<polygon points="338.3,639.5 389.6,612.5 391.0,613.1 339.8,640.2"/>
<polygon points="339.8,640.2 391.0,613.1 392.5,613.8 341.2,640.9"/>
<polygon points="341.2,640.9 392.5,613.8 394.0,614.4 342.7,641.6"/>
<polygon points="342.7,641.6 394.0,614.4 395.5,615.1 344.2,642.3"/>
<polygon points="344.2,642.3 395.5,615.1 396.9,615.7 345.6,642.9"/>
<polygon points="345.6,642.9 396.9,615.7 398.4,616.3 347.1,643.6"/>
<polygon points="347.1,643.6 398.4,616.3 399.9,616.9 348.6,644.2"/>
<polygon points="348.6,644.2 399.9,616.9 401.4,617.5 350.0,644.8"/>
<polygon points="350.0,644.8 401.4,617.5 402.9,618.1 351.5,645.4"/>
<polygon points="351.5,645.4 402.9,618.1 404.4,618.6 353.0,646.0"/>
<polygon points="353.0,646.0 404.4,618.6 405.8,619.2 354.5,646.5"/>
<polygon points="354.5,646.5 405.8,619.2 407.3,619.7 355.9,647.1"/>
<polygon points="355.9,647.1 407.3,619.7 408.8,620.2 357.4,647.6"/>
<polygon points="357.4,647.6 408.8,620.2 410.3,620.7 358.9,648.1"/>
<polygon points="358.9,648.1 410.3,620.7 411.8,621.1 360.4,648.5"/>
<polygon points="360.4,648.5 411.8,621.1 413.3,621.5 361.9,649.0"/>
<polygon points="361.9,649.0 413.3,621.5 414.8,621.9 363.3,649.4"/>
<polygon points="363.3,649.4 414.8,621.9 416.3,622.2 364.8,649.8"/>
<polygon points="364.8,649.8 416.3,622.2 417.8,622.5 366.3,650.1"/>
<polygon points="366.3,650.1 417.8,622.5 419.2,622.7 367.8,650.2"/>
<polygon points="367.8,650.2 419.2,622.7 420.7,622.7 369.3,650.3"/>
<polygon points="369.3,650.3 420.7,622.7 422.2,622.6 370.7,650.2"/>
<polygon points="370.7,650.2 422.2,622.6 423.7,622.4 372.2,650.1"/>
<polygon points="372.2,650.1 423.7,622.4 425.2,622.2 373.7,649.8"/>
<polygon points="373.7,649.8 425.2,622.2 426.7,621.9 375.2,649.6"/>
<polygon points="375.2,649.6 426.7,621.9 428.2,621.6 376.6,649.2"/>
<polygon points="376.6,649.2 428.2,621.6 429.7,621.2 378.1,648.9"/>
<polygon points="378.1,648.9 429.7,621.2 431.2,620.8 379.6,648.5"/>
<polygon points="379.6,648.5 431.2,620.8 432.7,620.3 381.1,648.1"/>
<polygon points="381.1,648.1 432.7,620.3 434.2,619.9 382.5,647.7"/>
<polygon points="382.5,647.7 434.2,619.9 435.7,619.5 384.0,647.3"/>
<polygon points="384.0,647.3 435.7,619.5 437.2,619.2 385.5,646.9"/>
<polygon points="385.5,646.9 437.2,619.2 438.7,618.8 387.0,646.6"/>
<polygon points="387.0,646.6 438.7,618.8 440.2,618.6 388.5,646.4"/>
<polygon points="388.5,646.4 440.2,618.6 441.7,618.4 390.0,646.2"/>
<polygon points="390.0,646.2 441.7,618.4 443.3,618.2 391.5,646.0"/>
<polygon points="391.5,646.0 443.3,618.2 444.8,618.0 393.0,645.8"/>
<polygon points="393.0,645.8 444.8,618.0 446.3,617.8 394.5,645.7"/>
<polygon points="394.5,645.7 446.3,617.8 447.8,617.6 396.0,645.5"/>
<polygon points="396.0,645.5 447.8,617.6 449.4,617.4 397.5,645.4"/>
<polygon points="397.5,645.4 449.4,617.4 450.9,617.2 399.1,645.2"/>
<polygon points="399.1,645.2 450.9,617.2 452.4,617.0 400.6,645.0"/>
<polygon points="400.6,645.0 452.4,617.0 454.0,616.8 402.1,644.7"/>
<polygon points="402.1,644.7 454.0,616.8 455.5,616.5 403.6,644.5"/>
<polygon points="403.6,644.5 455.5,616.5 457.0,616.1 405.1,644.2"/>
<polygon points="405.1,644.2 457.0,616.1 458.6,615.7 406.6,643.8"/>
<polygon points="406.6,643.8 458.6,615.7 460.1,615.3 408.2,643.3"/>
<polygon points="408.2,643.3 460.1,615.3 461.7,614.8 409.7,642.8"/>
<polygon points="409.7,642.8 461.7,614.8 463.2,614.1 411.2,642.2"/>
<polygon points="411.2,642.2 463.2,614.1 464.8,613.4 412.7,641.5"/>
<polygon points="412.7,641.5 464.8,613.4 466.3,612.5 414.3,640.6"/>
<polygon points="414.3,640.6 466.3,612.5 467.9,611.6 415.8,639.7"/>
<polygon points="415.8,639.7 467.9,611.6 469.4,610.6 417.3,638.8"/>
<polygon points="417.3,638.8 469.4,610.6 471.0,609.6 418.8,637.8"/>
<polygon points="418.8,637.8 471.0,609.6 472.5,608.6 420.4,636.7"/>
<polygon points="420.4,636.7 472.5,608.6 474.1,607.5 421.9,635.6"/>
<polygon points="421.9,635.6 474.1,607.5 475.6,606.3 423.4,634.5"/>
<polygon points="423.4,634.5 475.6,606.3 477.2,605.2 425.0,633.3"/>
<polygon points="425.0,633.3 477.2,605.2 478.8,603.9 426.5,632.1"/>
<polygon points="426.5,632.1 478.8,603.9 480.4,602.6 428.1,630.8"/>
<polygon points="428.1,630.8 480.4,602.6 481.9,601.3 429.6,629.5"/>
<polygon points="429.6,629.5 481.9,601.3 483.5,599.9 431.1,628.1"/>
<polygon points="431.1,628.1 483.5,599.9 485.1,598.5 432.7,626.7"/>
<polygon points="432.7,626.7 485.1,598.5 486.7,597.0 434.2,625.2"/>
<polygon points="434.2,625.2 486.7,597.0 488.2,595.4 435.8,623.7"/>
<polygon points="435.8,623.7 488.2,595.4 489.8,593.8 437.3,622.1"/>
<polygon points="437.3,622.1 489.8,593.8 491.4,592.2 438.9,620.5"/>
<polygon points="438.9,620.5 491.4,592.2 493.0,590.5 440.5,618.8"/>
<polygon points="440.5,618.8 493.0,590.5 494.6,588.8 442.0,617.1"/>
<polygon points="442.0,617.1 494.6,588.8 496.2,587.0 443.6,615.3"/>
<polygon points="443.6,615.3 496.2,587.0 497.8,585.2 445.2,613.5"/>
<polygon points="445.2,613.5 497.8,585.2 499.4,583.2 446.7,611.5"/>
<polygon points="446.7,611.5 499.4,583.2 501.0,581.2 448.3,609.5"/>
<polygon points="448.3,609.5 501.0,581.2 502.7,579.0 449.9,607.3"/>
<polygon points="449.9,607.3 502.7,579.0 504.3,576.8 451.4,605.0"/>
<polygon points="451.4,605.0 504.3,576.8 505.9,574.3 453.0,602.6"/>
<polygon points="453.0,602.6 505.9,574.3 507.5,571.7 454.6,600.0"/>
<polygon points="454.6,600.0 507.5,571.7 509.2,568.8 456.2,597.1"/>
<polygon points="456.2,597.1 509.2,568.8 510.8,565.7 457.8,594.0"/>
<polygon points="457.8,594.0 510.8,565.7 512.4,562.4 459.3,590.7"/>
<polygon points="459.3,590.7 512.4,562.4 514.1,558.8 460.9,587.1"/>
<polygon points="460.9,587.1 514.1,558.8 515.7,554.8 462.5,583.1"/>
<polygon points="462.5,583.1 515.7,554.8 517.4,550.3 464.1,578.6"/>
<polygon points="464.1,578.6 517.4,550.3 519.0,545.5 465.7,573.7"/>
<polygon points="465.7,573.7 519.0,545.5 520.7,540.7 467.3,568.8"/>
<polygon points="467.3,568.8 520.7,540.7 522.3,536.0 468.9,564.2"/>
<polygon points="468.9,564.2 522.3,536.0 524.0,531.7 470.5,559.8"/>
<polygon points="470.5,559.8 524.0,531.7 525.7,527.4 472.1,555.5"/>
<polygon points="472.1,555.5 525.7,527.4 527.4,522.4 473.7,550.5"/>
<polygon points="473.7,550.5 527.4,522.4 529.1,516.6 475.3,544.6"/>
<polygon points="475.3,544.6 529.1,516.6 530.8,509.7 476.9,537.7"/>
<polygon points="476.9,537.7 530.8,509.7 532.5,501.7 478.5,529.6"/>
<polygon points="478.5,529.6 532.5,501.7 534.2,492.5 480.1,520.4"/>
<polygon points="480.1,520.4 534.2,492.5 536.0,480.7 481.7,508.5"/>
<polygon points="481.7,508.5 536.0,480.7 537.7,460.5 483.2,488.1"/>
<polygon points="483.2,488.1 537.7,460.5 539.6,439.7 484.8,467.1"/>
<polygon points="484.8,467.1 539.6,439.7 541.3,424.7 486.4,452.0"/>
<polygon points="486.4,452.0 541.3,424.7 543.1,413.1 488.0,440.3"/>
<polygon points="488.0,440.3 543.1,413.1 544.9,403.1 489.7,430.2"/>
<polygon points="489.7,430.2 544.9,403.1 546.7,399.4 491.4,426.4"/>
<polygon points="491.4,426.4 546.7,399.4 548.5,399.2 493.1,426.3"/>
<polygon points="493.1,426.3 548.5,399.2 550.2,404.8 494.9,432.0"/>
<polygon points="494.9,432.0 550.2,404.8 551.9,409.4 496.7,436.6"/>
<polygon points="496.7,436.6 551.9,409.4 553.6,425.3 498.5,452.7"/>
<polygon points="498.5,452.7 553.6,425.3 555.2,442.1 500.4,469.7"/>
<polygon points="500.4,469.7 555.2,442.1 556.9,458.8 502.2,486.6"/>
<polygon points="502.2,486.6 556.9,458.8 558.5,477.6 504.0,505.7"/>
<polygon points="504.0,505.7 558.5,477.6 560.0,497.7 505.8,525.9"/>
<polygon points="505.8,525.9 560.0,497.7 561.6,518.9 507.6,547.3"/>
<polygon points="507.6,547.3 561.6,518.9 563.1,540.8 509.4,569.5"/>
<polygon points="509.4,569.5 563.1,540.8 564.7,559.2 511.1,588.1"/>
<polygon points="511.1,588.1 564.7,559.2 566.3,576.4 512.9,605.5"/>
<polygon points="512.9,605.5 566.3,576.4 567.8,591.4 514.6,620.7"/>
<polygon points="514.6,620.7 567.8,591.4 569.4,604.2 516.4,633.6"/>
<polygon points="516.4,633.6 569.4,604.2 571.0,614.4 518.1,643.9"/>
<polygon points="518.1,643.9 571.0,614.4 572.6,621.9 519.8,651.5"/>
<polygon points="519.8,651.5 572.6,621.9 574.3,626.1 521.5,655.7"/>
<polygon points="521.5,655.7 574.3,626.1 576.0,630.0 523.2,659.8"/>
<polygon points="523.2,659.8 576.0,630.0 577.6,634.0 524.9,663.8"/>
<polygon points="524.9,663.8 577.6,634.0 579.3,638.3 526.6,668.2"/>
<polygon points="526.6,668.2 579.3,638.3 581.0,643.3 528.3,673.2"/>
<polygon points="528.3,673.2 581.0,643.3 582.6,648.6 530.0,678.6"/>
<polygon points="530.0,678.6 582.6,648.6 584.3,653.7 531.7,683.8"/>
<polygon points="531.7,683.8 584.3,653.7 585.9,658.2 533.4,688.3"/>
<polygon points="533.4,688.3 585.9,658.2 587.6,661.8 535.1,692.0"/>
<polygon points="535.1,692.0 587.6,661.8 589.3,665.1 536.8,695.3"/>
<polygon points="536.8,695.3 589.3,665.1 590.9,668.0 538.5,698.3"/>
<polygon points="538.5,698.3 590.9,668.0 592.6,670.8 540.2,701.1"/>
<polygon points="540.2,701.1 592.6,670.8 594.3,673.2 541.9,703.6"/>
<polygon points="541.9,703.6 594.3,673.2 596.0,675.5 543.6,705.9"/>
<polygon points="543.6,705.9 596.0,675.5 597.7,677.6 545.3,708.0"/>
<polygon points="545.3,708.0 597.7,677.6 599.4,679.5 547.0,710.0"/>
<polygon points="547.0,710.0 599.4,679.5 601.1,681.3 548.7,711.8"/>
<polygon points="548.7,711.8 601.1,681.3 602.8,682.8 550.4,713.3"/>
<polygon points="550.4,713.3 602.8,682.8 604.5,684.1 552.1,714.7"/>
<polygon points="552.1,714.7 604.5,684.1 606.2,685.4 553.9,716.1"/>
<polygon points="553.9,716.1 606.2,685.4 608.0,686.7 555.6,717.4"/>
<polygon points="555.6,717.4 608.0,686.7 609.7,687.9 557.3,718.6"/>
<polygon points="557.3,718.6 609.7,687.9 611.4,689.0 559.0,719.8"/>
<polygon points="559.0,719.8 611.4,689.0 613.1,690.1 560.8,720.8"/>
<polygon points="560.8,720.8 613.1,690.1 614.9,691.0 562.5,721.8"/>
<polygon points="562.5,721.8 614.9,691.0 616.6,691.7 564.2,722.5"/>
<polygon points="564.2,722.5 616.6,691.7 618.4,692.2 566.0,723.0"/>
<polygon points="566.0,723.0 618.4,692.2 620.1,692.5 567.7,723.4"/>
<polygon points="567.7,723.4 620.1,692.5 621.9,692.8 569.5,723.7"/>
<polygon points="569.5,723.7 621.9,692.8 623.6,693.1 571.2,724.1"/>
<polygon points="571.2,724.1 623.6,693.1 625.4,693.5 573.0,724.5"/>
<polygon points="573.0,724.5 625.4,693.5 627.2,693.9 574.7,724.9"/>
<polygon points="574.7,724.9 627.2,693.9 628.9,694.3 576.5,725.3"/>
<polygon points="576.5,725.3 628.9,694.3 630.7,694.7 578.2,725.7"/>
<polygon points="578.2,725.7 630.7,694.7 632.4,695.3 580.0,726.4"/>
<polygon points="580.0,726.4 632.4,695.3 634.2,696.3 581.7,727.4"/>
<polygon points="581.7,727.4 634.2,696.3 635.9,698.0 583.5,729.1"/>
<polygon points="583.5,729.1 635.9,698.0 637.7,700.1 585.2,731.3"/>
<polygon points="585.2,731.3 637.7,700.1 639.4,702.5 587.0,733.8"/>
<polygon points="587.0,733.8 639.4,702.5 641.1,705.0 588.7,736.3"/>
<polygon points="588.7,736.3 641.1,705.0 642.8,707.9 590.4,739.3"/>
<polygon points="590.4,739.3 642.8,707.9 644.5,711.1 592.2,742.5"/>
<polygon points="592.2,742.5 644.5,711.1 646.2,714.5 593.9,745.9"/>
<polygon points="593.9,745.9 646.2,714.5 647.9,718.0 595.6,749.5"/>
<polygon points="595.6,749.5 647.9,718.0 649.6,721.6 597.3,753.2"/>
<polygon points="597.3,753.2 649.6,721.6 651.3,725.2 599.0,756.8"/>
<polygon points="599.0,756.8 651.3,725.2 653.0,728.5 600.8,760.2"/>
<polygon points="600.8,760.2 653.0,728.5 654.7,731.9 602.5,763.6"/>
<polygon points="602.5,763.6 654.7,731.9 656.4,735.2 604.2,767.0"/>
<polygon points="604.2,767.0 656.4,735.2 658.1,738.6 605.9,770.4"/>
<polygon points="605.9,770.4 658.1,738.6 659.8,741.9 607.7,773.8"/>
<polygon points="607.7,773.8 659.8,741.9 661.5,745.3 609.4,777.2"/>
<polygon points="609.4,777.2 661.5,745.3 663.2,748.7 611.1,780.7"/>
<polygon points="611.1,780.7 663.2,748.7 664.9,752.0 612.8,784.1"/>
<polygon points="612.8,784.1 664.9,752.0 666.6,755.4 614.6,787.5"/>
<polygon points="614.6,787.5 666.6,755.4 668.3,758.7 616.3,790.9"/>
<polygon points="616.3,790.9 668.3,758.7 670.0,762.1 618.0,794.3"/>
<polygon points="618.0,794.3 670.0,762.1 671.7,765.3 619.8,797.6"/>
<polygon points="619.8,797.6 671.7,765.3 673.4,768.3 621.5,800.7"/>
<polygon points="621.5,800.7 673.4,768.3 675.1,771.1 623.2,803.4"/>
<polygon points="623.2,803.4 675.1,771.1 676.9,773.7 625.0,806.1"/>
<polygon points="625.0,806.1 676.9,773.7 678.6,776.3 626.7,808.7"/>
<polygon points="626.7,808.7 678.6,776.3 680.3,779.0 628.5,811.6"/>
<polygon points="628.5,811.6 680.3,779.0 682.0,782.1 630.2,814.6"/>
<polygon points="630.2,814.6 682.0,782.1 683.7,785.2 631.9,817.8"/>
<polygon points="631.9,817.8 683.7,785.2 685.4,788.0 633.7,820.7"/>
<polygon points="633.7,820.7 685.4,788.0 687.2,790.4 635.4,823.1"/>
<polygon points="635.4,823.1 687.2,790.4 688.9,792.6 637.2,825.4"/>
<polygon points="637.2,825.4 688.9,792.6 690.7,794.6 638.9,827.4"/>
<polygon points="638.9,827.4 690.7,794.6 692.5,796.3 640.7,829.1"/>
<polygon points="640.7,829.1 692.5,796.3 694.2,797.9 642.5,830.8"/>
<polygon points="642.5,830.8 694.2,797.9 696.0,799.3 644.3,832.3"/>
<polygon points="644.3,832.3 696.0,799.3 697.8,800.6 646.1,833.6"/>
<polygon points="646.1,833.6 697.8,800.6 698.1,800.8 646.4,833.8"/>
<polyline points="695.7,802.3 695.4,802.2 693.6,800.9 691.8,799.4 690.1,797.8 688.3,796.1 686.5,794.1 684.8,791.9 683.0,789.5 681.3,786.7 679.6,783.6 677.9,780.5 676.2,777.8 674.4,775.2 672.7,772.6 671.0,769.8 669.3,766.8 667.6,763.6 665.9,760.2 664.2,756.9 662.5,753.5 660.8,750.1 659.1,746.8 657.4,743.4 655.7,740.1 654.0,736.7 652.3,733.3 650.6,730.0 648.9,726.6 647.2,723.1 645.5,719.5 643.8,715.9 642.1,712.5 640.4,709.4 638.7,706.4 637.0,704.0 635.2,701.6 633.5,699.4 631.8,697.7 630.0,696.7 628.3,696.1 626.5,695.7 624.7,695.4 623.0,694.9 621.2,694.6 619.4,694.2 617.7,694.0 615.9,693.6 614.2,693.1 612.4,692.4 610.7,691.5 609.0,690.5 607.3,689.3 605.5,688.1 603.8,686.8 602.1,685.5 600.4,684.2 598.7,682.7 597.0,680.9 595.3,679.0 593.6,676.9 591.9,674.6 590.2,672.2 588.5,669.4 586.8,666.5 585.1,663.2 583.5,659.6 581.8,655.1 580.2,650.0 578.5,644.7 576.9,639.7 575.2,635.4 573.5,631.4 571.9,627.5 570.2,623.3 568.6,615.8 566.9,605.5 565.4,592.8 563.8,577.8 562.2,560.5 560.6,542.2 559.1,520.2 557.5,499.0 555.9,478.9 554.3,460.0 552.7,443.3 551.0,426.5 549.4,410.6 547.6,406.1 545.9,400.5" fill="none" stroke-width="3.4"/>
<polygon points="236.7,627.4 233.4,577.2 234.8,578.1 236.2,579.0 237.5,580.0 238.9,580.9 240.3,581.8 241.7,582.7 243.1,583.7 244.4,584.6 245.8,585.5 247.2,586.4 248.6,587.4 250.0,588.3 251.4,589.2 252.8,590.1 254.1,591.0 255.5,591.9 256.9,592.9 258.3,593.8 259.7,594.7 261.1,595.6 262.5,596.5 263.9,597.4 265.3,598.3 266.7,599.2 268.1,600.1 269.5,601.0 270.9,601.9 272.3,602.8 273.7,603.7 275.1,604.6 276.6,605.5 278.0,606.4 279.4,607.3 280.8,608.2 282.2,609.1 283.6,610.0 285.0,610.9 286.5,611.8 287.9,612.8 289.3,613.7 290.7,614.6 292.2,615.5 293.6,616.4 295.0,617.3 296.4,618.2 297.9,619.1 299.3,620.0 300.7,620.9 302.2,621.7 303.6,622.5 305.0,623.3 306.5,624.0 307.9,624.7 309.3,625.4 310.8,626.1 312.2,626.8 313.6,627.4 315.1,628.1 316.5,628.7 317.9,629.4 319.4,630.1 320.8,630.8 322.3,631.5 323.7,632.2 325.2,633.0 326.6,633.7 328.1,634.4 329.5,635.2 331.0,635.9 332.4,636.6 333.9,637.4 335.4,638.1 336.8,638.8 338.3,639.5 339.8,640.2 341.2,640.9 342.7,641.6 344.2,642.3 345.6,642.9 347.1,643.6 348.6,644.2 350.0,644.8 351.5,645.4 353.0,646.0 354.5,646.5 355.9,647.1 357.4,647.6 358.9,648.1 360.4,648.5 361.9,649.0 363.3,649.4 364.8,649.8 366.3,650.1 367.8,650.2 369.3,650.3 370.7,650.2 372.2,650.1 373.7,649.8 375.2,649.6 376.6,649.2 378.1,648.9 379.6,648.5 381.1,648.1 382.5,647.7 384.0,647.3 385.5,646.9 387.0,646.6 388.5,646.4 390.0,646.2 391.5,646.0 393.0,645.8 394.5,645.7 396.0,645.5 397.5,645.4 399.1,645.2 400.6,645.0 402.1,644.7 403.6,644.5 405.1,644.2 406.6,643.8 408.2,643.3 409.7,642.8 411.2,642.2 412.7,641.5 414.3,640.6 415.8,639.7 417.3,638.8 418.8,637.8 420.4,636.7 421.9,635.6 423.4,634.5 425.0,633.3 426.5,632.1 428.1,630.8 429.6,629.5 431.1,628.1 432.7,626.7 434.2,625.2 435.8,623.7 437.3,622.1 438.9,620.5 440.5,618.8 442.0,617.1 443.6,615.3 445.2,613.5 446.7,611.5 448.3,609.5 449.9,607.3 451.4,605.0 453.0,602.6 454.6,600.0 456.2,597.1 457.8,594.0 459.3,590.7 460.9,587.1 462.5,583.1 464.1,578.6 465.7,573.7 467.3,568.8 468.9,564.2 470.5,559.8 472.1,555.5 473.7,550.5 475.3,544.6 476.9,537.7 478.5,529.6 480.1,520.4 481.7,508.5 483.2,488.1 484.8,467.1 486.4,452.0 488.0,440.3 489.7,430.2 491.4,426.4 493.1,426.3 494.9,432.0 496.7,436.6 498.5,452.7 500.4,469.7 502.2,486.6 504.0,505.7 505.8,525.9 507.6,547.3 509.4,569.5 511.1,588.1 512.9,605.5 514.6,620.7 516.4,633.6 518.1,643.9 519.8,651.5 521.5,655.7 523.2,659.8 524.9,663.8 526.6,668.2 528.3,673.2 530.0,678.6 531.7,683.8 533.4,688.3 535.1,692.0 536.8,695.3 538.5,698.3 540.2,701.1 541.9,703.6 543.6,705.9 545.3,708.0 547.0,710.0 548.7,711.8 550.4,713.3 552.1,714.7 553.9,716.1 555.6,717.4 557.3,718.6 559.0,719.8 560.8,720.8 562.5,721.8 564.2,722.5 566.0,723.0 567.7,723.4 569.5,723.7 571.2,724.1 573.0,724.5 574.7,724.9 576.5,725.3 578.2,725.7 580.0,726.4 581.7,727.4 583.5,729.1 585.2,731.3 587.0,733.8 588.7,736.3 590.4,739.3 592.2,742.5 593.9,745.9 595.6,749.5 597.3,753.2 599.0,756.8 600.8,760.2 602.5,763.6 604.2,767.0 605.9,770.4 607.7,773.8 609.4,777.2 611.1,780.7 612.8,784.1 614.6,787.5 616.3,790.9 618.0,794.3 619.8,797.6 621.5,800.7 623.2,803.4 625.0,806.1 626.7,808.7 628.5,811.6 630.2,814.6 631.9,817.8 633.7,820.7 635.4,823.1 637.2,825.4 638.9,827.4 640.7,829.1 642.5,830.8 644.3,832.3 646.1,833.6 646.4,833.8 644.7,890.9" fill="#0000ff" stroke-width="2"/>
<polygon points="644.7,890.9 646.4,833.8 698.1,800.8 695.7,857.5" stroke-width="4.6"/>
</g>
<g fill="#00aa00" stroke="#00ff00" stroke-width="2.2" stroke-linejoin="round">
<polygon points="158.2,614.5 211.2,588.2 212.6,589.1 159.6,615.4"/>
<polygon points="159.6,615.4 212.6,589.1 213.9,590.1 161.0,616.4"/>
<polygon points="161.0,616.4 213.9,590.1 215.3,591.0 162.3,617.4"/>
<polygon points="162.3,617.4 215.3,591.0 216.7,591.9 163.7,618.3"/>
<polygon points="163.7,618.3 216.7,591.9 218.0,592.8 165.1,619.3"/>
<polygon points="165.1,619.3 218.0,592.8 219.4,593.8 166.4,620.2"/>
<polygon points="166.4,620.2 219.4,593.8 220.8,594.7 167.8,621.2"/>
<polygon points="167.8,621.2 220.8,594.7 222.2,595.6 169.2,622.1"/>
<polygon points="169.2,622.1 222.2,595.6 223.6,596.5 170.6,623.1"/>
<polygon points="170.6,623.1 223.6,596.5 224.9,597.5 171.9,624.0"/>
<polygon points="171.9,624.0 224.9,597.5 226.3,598.4 173.3,625.0"/>
<polygon points="173.3,625.0 226.3,598.4 227.7,599.3 174.7,625.9"/>
<polygon points="174.7,625.9 227.7,599.3 229.1,600.2 176.1,626.9"/>
<polygon points="176.1,626.9 229.1,600.2 230.5,601.2 177.4,627.8"/>
<polygon points="177.4,627.8 230.5,601.2 231.9,602.1 178.8,628.8"/>
<polygon points="178.8,628.8 231.9,602.1 233.3,603.0 180.2,629.7"/>
<polygon points="180.2,629.7 233.3,603.0 234.6,603.9 181.6,630.6"/>
<polygon points="181.6,630.6 234.6,603.9 236.0,604.8 183.0,631.6"/>
<polygon points="183.0,631.6 236.0,604.8 237.4,605.8 184.4,632.5"/>
<polygon points="184.4,632.5 237.4,605.8 238.8,606.7 185.8,633.5"/>
<polygon points="185.8,633.5 238.8,606.7 240.2,607.6 187.1,634.4"/>
<polygon points="187.1,634.4 240.2,607.6 241.6,608.5 188.5,635.3"/>
<polygon points="188.5,635.3 241.6,608.5 243.0,609.4 189.9,636.3"/>
<polygon points="189.9,636.3 243.0,609.4 244.4,610.3 191.3,637.2"/>
<polygon points="191.3,637.2 244.4,610.3 245.8,611.2 192.7,638.2"/>
<polygon points="192.7,638.2 245.8,611.2 247.2,612.1 194.1,639.1"/>
<polygon points="194.1,639.1 247.2,612.1 248.6,613.0 195.5,640.0"/>
<polygon points="195.5,640.0 248.6,613.0 250.0,613.9 196.9,641.0"/>
<polygon points="196.9,641.0 250.0,613.9 251.4,614.9 198.3,641.9"/>
<polygon points="198.3,641.9 251.4,614.9 252.8,615.8 199.7,642.8"/>
<polygon points="199.7,642.8 252.8,615.8 254.2,616.7 201.1,643.8"/>
<polygon points="201.1,643.8 254.2,616.7 255.6,617.6 202.5,644.7"/>
<polygon points="202.5,644.7 255.6,617.6 257.1,618.5 203.9,645.7"/>
<polygon points="203.9,645.7 257.1,618.5 258.5,619.4 205.3,646.6"/>
<polygon points="205.3,646.6 258.5,619.4 259.9,620.3 206.7,647.5"/>
<polygon points="206.7,647.5 259.9,620.3 261.3,621.2 208.1,648.5"/>
<polygon points="208.1,648.5 261.3,621.2 262.7,622.2 209.5,649.4"/>
<polygon points="209.5,649.4 262.7,622.2 264.1,623.1 210.9,650.4"/>
<polygon points="210.9,650.4 264.1,623.1 265.5,624.0 212.4,651.3"/>
<polygon points="212.4,651.3 265.5,624.0 267.0,624.9 213.8,652.2"/>
<polygon points="213.8,652.2 267.0,624.9 268.4,625.8 215.2,653.2"/>
<polygon points="215.2,653.2 268.4,625.8 269.8,626.7 216.6,654.1"/>
<polygon points="216.6,654.1 269.8,626.7 271.2,627.6 218.0,655.1"/>
<polygon points="218.0,655.1 271.2,627.6 272.7,628.6 219.4,656.0"/>
<polygon points="219.4,656.0 272.7,628.6 274.1,629.5 220.9,656.9"/>
<polygon points="220.9,656.9 274.1,629.5 275.5,630.4 222.3,657.9"/>
<polygon points="222.3,657.9 275.5,630.4 276.9,631.3 223.7,658.8"/>
<polygon points="223.7,658.8 276.9,631.3 278.4,632.2 225.1,659.8"/>
<polygon points="225.1,659.8 278.4,632.2 279.8,633.1 226.6,660.6"/>
<polygon points="226.6,660.6 279.8,633.1 281.2,633.9 228.0,661.5"/>
<polygon points="228.0,661.5 281.2,633.9 282.7,634.7 229.4,662.3"/>
<polygon points="229.4,662.3 282.7,634.7 284.1,635.5 230.8,663.1"/>
<polygon points="230.8,663.1 284.1,635.5 285.5,636.2 232.2,663.9"/>
<polygon points="232.2,663.9 285.5,636.2 287.0,637.0 233.7,664.7"/>
<polygon points="233.7,664.7 287.0,637.0 288.4,637.7 235.1,665.4"/>
<polygon points="235.1,665.4 288.4,637.7 289.8,638.4 236.5,666.2"/>
<polygon points="236.5,666.2 289.8,638.4 291.2,639.1 237.9,666.9"/>
<polygon points="237.9,666.9 291.2,639.1 292.7,639.8 239.4,667.6"/>
<polygon points="239.4,667.6 292.7,639.8 294.1,640.5 240.8,668.4"/>
<polygon points="240.8,668.4 294.1,640.5 295.6,641.3 242.2,669.1"/>
<polygon points="242.2,669.1 295.6,641.3 297.0,642.0 243.6,669.9"/>
<polygon points="243.6,669.9 297.0,642.0 298.4,642.7 245.1,670.7"/>
<polygon points="245.1,670.7 298.4,642.7 299.9,643.5 246.5,671.5"/>
<polygon points="246.5,671.5 299.9,643.5 301.3,644.3 248.0,672.3"/>
<polygon points="248.0,672.3 301.3,644.3 302.8,645.1 249.4,673.1"/>
<polygon points="249.4,673.1 302.8,645.1 304.2,645.8 250.8,673.9"/>
<polygon points="250.8,673.9 304.2,645.8 305.7,646.6 252.3,674.7"/>
<polygon points="252.3,674.7 305.7,646.6 307.1,647.4 253.7,675.5"/>
<polygon points="253.7,675.5 307.1,647.4 308.6,648.2 255.2,676.3"/>
<polygon points="255.2,676.3 308.6,648.2 310.1,649.0 256.6,677.1"/>
<polygon points="256.6,677.1 310.1,649.0 311.5,649.7 258.1,677.9"/>
<polygon points="258.1,677.9 311.5,649.7 313.0,650.5 259.5,678.7"/>
<polygon points="259.5,678.7 313.0,650.5 314.4,651.3 261.0,679.5"/>
<polygon points="261.0,679.5 314.4,651.3 315.9,652.0 262.4,680.3"/>
<polygon points="262.4,680.3 315.9,652.0 317.4,652.8 263.9,681.0"/>
<polygon points="263.9,681.0 317.4,652.8 318.8,653.5 265.3,681.8"/>
<polygon points="265.3,681.8 318.8,653.5 320.3,654.2 266.8,682.6"/>
<polygon points="266.8,682.6 320.3,654.2 321.7,655.0 268.3,683.3"/>
<polygon points="268.3,683.3 321.7,655.0 323.2,655.7 269.7,684.1"/>
<polygon points="269.7,684.1 323.2,655.7 324.7,656.4 271.2,684.8"/>
<polygon points="271.2,684.8 324.7,656.4 326.2,657.1 272.6,685.5"/>
<polygon points="272.6,685.5 326.2,657.1 327.6,657.7 274.1,686.2"/>
<polygon points="274.1,686.2 327.6,657.7 329.1,658.4 275.6,686.9"/>
<polygon points="275.6,686.9 329.1,658.4 330.6,659.1 277.0,687.6"/>
<polygon points="277.0,687.6 330.6,659.1 332.0,659.7 278.5,688.2"/>
<polygon points="278.5,688.2 332.0,659.7 333.5,660.3 280.0,688.9"/>
<polygon points="280.0,688.9 333.5,660.3 335.0,660.9 281.4,689.5"/>
<polygon points="281.4,689.5 335.0,660.9 336.5,661.5 282.9,690.1"/>
<polygon points="282.9,690.1 336.5,661.5 338.0,662.1 284.4,690.7"/>
<polygon points="284.4,690.7 338.0,662.1 339.4,662.6 285.8,691.3"/>
<polygon points="285.8,691.3 339.4,662.6 340.9,663.1 287.3,691.8"/>
<polygon points="287.3,691.8 340.9,663.1 342.4,663.6 288.8,692.3"/>
<polygon points="288.8,692.3 342.4,663.6 343.9,664.0 290.2,692.7"/>
<polygon points="290.2,692.7 343.9,664.0 345.3,664.3 291.7,693.1"/>
<polygon points="291.7,693.1 345.3,664.3 346.8,664.5 293.2,693.3"/>
<polygon points="293.2,693.3 346.8,664.5 348.3,664.6 294.6,693.5"/>
<polygon points="294.6,693.5 348.3,664.6 349.8,664.7 296.1,693.5"/>
<polygon points="296.1,693.5 349.8,664.7 351.2,664.7 297.5,693.5"/>
<polygon points="297.5,693.5 351.2,664.7 352.7,664.6 299.0,693.5"/>
<polygon points="299.0,693.5 352.7,664.6 354.2,664.5 300.4,693.4"/>
<polygon points="300.4,693.4 354.2,664.5 355.7,664.4 301.9,693.3"/>
<polygon points="301.9,693.3 355.7,664.4 357.1,664.2 303.3,693.2"/>
<polygon points="303.3,693.2 357.1,664.2 358.6,664.1 304.8,693.0"/>
<polygon points="304.8,693.0 358.6,664.1 360.1,663.9 306.3,692.9"/>
<polygon points="306.3,692.9 360.1,663.9 361.6,663.8 307.7,692.8"/>
<polygon points="307.7,692.8 361.6,663.8 363.1,663.7 309.2,692.7"/>
<polygon points="309.2,692.7 363.1,663.7 364.5,663.6 310.7,692.6"/>
<polygon points="310.7,692.6 364.5,663.6 366.0,663.6 312.1,692.6"/>
<polygon points="312.1,692.6 366.0,663.6 367.5,663.6 313.6,692.7"/>
<polygon points="313.6,692.7 367.5,663.6 369.0,663.6 315.1,692.7"/>
<polygon points="315.1,692.7 369.0,663.6 370.5,663.6 316.6,692.8"/>
<polygon points="316.6,692.8 370.5,663.6 372.0,663.7 318.1,692.8"/>
<polygon points="318.1,692.8 372.0,663.7 373.6,663.7 319.6,692.9"/>
<polygon points="319.6,692.9 373.6,663.7 375.1,663.8 321.1,693.0"/>
<polygon points="321.1,693.0 375.1,663.8 376.6,663.8 322.5,693.0"/>
<polygon points="322.5,693.0 376.6,663.8 378.1,663.8 324.0,693.1"/>
<polygon points="324.0,693.1 378.1,663.8 379.6,663.8 325.5,693.1"/>
<polygon points="325.5,693.1 379.6,663.8 381.1,663.8 327.0,693.0"/>
<polygon points="327.0,693.0 381.1,663.8 382.6,663.7 328.5,693.0"/>
<polygon points="328.5,693.0 382.6,663.7 384.1,663.5 330.0,692.9"/>
<polygon points="330.0,692.9 384.1,663.5 385.7,663.3 331.5,692.7"/>
<polygon points="331.5,692.7 385.7,663.3 387.2,663.1 333.0,692.5"/>
<polygon points="333.0,692.5 387.2,663.1 388.7,662.8 334.5,692.1"/>
<polygon points="334.5,692.1 388.7,662.8 390.2,662.3 336.0,691.7"/>
<polygon points="336.0,691.7 390.2,662.3 391.7,661.8 337.5,691.2"/>
<polygon points="337.5,691.2 391.7,661.8 393.3,661.3 339.0,690.7"/>
<polygon points="339.0,690.7 393.3,661.3 394.8,660.6 340.5,690.1"/>
<polygon points="340.5,690.1 394.8,660.6 396.3,660.0 342.0,689.5"/>
<polygon points="342.0,689.5 396.3,660.0 397.8,659.3 343.5,688.8"/>
<polygon points="343.5,688.8 397.8,659.3 399.4,658.6 345.0,688.1"/>
<polygon points="345.0,688.1 399.4,658.6 400.9,657.9 346.5,687.4"/>
<polygon points="346.5,687.4 400.9,657.9 402.4,657.1 348.0,686.6"/>
<polygon points="348.0,686.6 402.4,657.1 403.9,656.2 349.5,685.8"/>
<polygon points="349.5,685.8 403.9,656.2 405.5,655.4 351.0,684.9"/>
<polygon points="351.0,684.9 405.5,655.4 407.0,654.4 352.5,684.0"/>
<polygon points="352.5,684.0 407.0,654.4 408.5,653.5 354.0,683.1"/>
<polygon points="354.0,683.1 408.5,653.5 410.1,652.5 355.5,682.1"/>
<polygon points="355.5,682.1 410.1,652.5 411.6,651.4 357.0,681.1"/>
<polygon points="357.0,681.1 411.6,651.4 413.2,650.4 358.5,680.0"/>
<polygon points="358.5,680.0 413.2,650.4 414.7,649.2 360.1,678.9"/>
<polygon points="360.1,678.9 414.7,649.2 416.3,648.1 361.6,677.7"/>
<polygon points="361.6,677.7 416.3,648.1 417.8,646.9 363.1,676.6"/>
<polygon points="363.1,676.6 417.8,646.9 419.4,645.7 364.6,675.4"/>
<polygon points="364.6,675.4 419.4,645.7 420.9,644.4 366.1,674.1"/>
<polygon points="366.1,674.1 420.9,644.4 422.5,643.1 367.6,672.8"/>
<polygon points="367.6,672.8 422.5,643.1 424.0,641.7 369.2,671.4"/>
<polygon points="369.2,671.4 424.0,641.7 425.6,640.2 370.7,669.9"/>
<polygon points="370.7,669.9 425.6,640.2 427.2,638.6 372.2,668.3"/>
<polygon points="372.2,668.3 427.2,638.6 428.7,636.9 373.7,666.6"/>
<polygon points="373.7,666.6 428.7,636.9 430.3,635.1 375.3,664.8"/>
<polygon points="375.3,664.8 430.3,635.1 431.8,633.1 376.8,662.8"/>
<polygon points="376.8,662.8 431.8,633.1 433.4,630.9 378.3,660.7"/>
<polygon points="378.3,660.7 433.4,630.9 435.0,628.5 379.8,658.3"/>
<polygon points="379.8,658.3 435.0,628.5 436.5,626.0 381.3,655.7"/>
<polygon points="381.3,655.7 436.5,626.0 438.1,623.2 382.8,653.0"/>
<polygon points="382.8,653.0 438.1,623.2 439.7,620.1 384.3,649.9"/>
<polygon points="384.3,649.9 439.7,620.1 441.2,616.6 385.8,646.3"/>
<polygon points="385.8,646.3 441.2,616.6 442.8,612.8 387.3,642.6"/>
<polygon points="387.3,642.6 442.8,612.8 444.4,609.0 388.8,638.7"/>
<polygon points="388.8,638.7 444.4,609.0 445.9,605.3 390.4,635.1"/>
<polygon points="390.4,635.1 445.9,605.3 447.5,602.0 391.9,631.7"/>
<polygon points="391.9,631.7 447.5,602.0 449.1,598.6 393.4,628.3"/>
<polygon points="393.4,628.3 449.1,598.6 450.7,594.8 394.9,624.4"/>
<polygon points="394.9,624.4 450.7,594.8 452.3,590.1 396.4,619.8"/>
<polygon points="396.4,619.8 452.3,590.1 453.8,584.6 397.9,614.3"/>
<polygon points="397.9,614.3 453.8,584.6 455.4,578.2 399.4,607.8"/>
<polygon points="399.4,607.8 455.4,578.2 457.0,570.9 400.8,600.4"/>
<polygon points="400.8,600.4 457.0,570.9 458.5,561.3 402.2,590.8"/>
<polygon points="402.2,590.8 458.5,561.3 459.9,544.9 403.4,574.3"/>
<polygon points="403.4,574.3 459.9,544.9 461.4,528.0 404.7,557.2"/>
<polygon points="404.7,557.2 461.4,528.0 462.9,515.9 406.0,545.1"/>
<polygon points="406.0,545.1 462.9,515.9 464.5,506.6 407.5,535.6"/>
<polygon points="407.5,535.6 464.5,506.6 466.1,498.6 409.0,527.6"/>
<polygon points="409.0,527.6 466.1,498.6 467.8,495.8 410.6,524.8"/>
<polygon points="410.6,524.8 467.8,495.8 469.5,495.9 412.3,524.9"/>
<polygon points="412.3,524.9 469.5,495.9 471.3,500.7 414.1,529.8"/>
<polygon points="414.1,529.8 471.3,500.7 473.1,504.7 415.9,533.8"/>
<polygon points="415.9,533.8 473.1,504.7 474.9,517.9 417.9,547.2"/>
<polygon points="417.9,547.2 474.9,517.9 476.8,532.0 419.9,561.4"/>
<polygon points="419.9,561.4 476.8,532.0 478.6,545.9 422.0,575.5"/>
<polygon points="422.0,575.5 478.6,545.9 480.5,561.7 424.0,591.5"/>
<polygon points="424.0,591.5 480.5,561.7 482.4,578.4 426.1,608.4"/>
<polygon points="426.1,608.4 482.4,578.4 484.2,596.1 428.1,626.3"/>
<polygon points="428.1,626.3 484.2,596.1 486.1,614.5 430.2,644.9"/>
<polygon points="430.2,644.9 486.1,614.5 487.9,629.9 432.2,660.5"/>
<polygon points="432.2,660.5 487.9,629.9 489.7,644.4 434.2,675.1"/>
<polygon points="434.2,675.1 489.7,644.4 491.5,657.1 436.1,687.9"/>
<polygon points="436.1,687.9 491.5,657.1 493.2,667.9 438.0,698.9"/>
<polygon points="438.0,698.9 493.2,667.9 495.0,676.7 439.8,707.7"/>
<polygon points="439.8,707.7 495.0,676.7 496.7,683.2 441.6,714.3"/>
<polygon points="441.6,714.3 496.7,683.2 498.4,686.9 443.4,718.1"/>
<polygon points="443.4,718.1 498.4,686.9 500.1,690.4 445.1,721.7"/>
<polygon points="445.1,721.7 500.1,690.4 501.8,694.0 446.9,725.3"/>
<polygon points="446.9,725.3 501.8,694.0 503.5,697.8 448.6,729.2"/>
<polygon points="448.6,729.2 503.5,697.8 505.3,702.2 450.3,733.6"/>
<polygon points="450.3,733.6 505.3,702.2 507.0,706.9 452.1,738.4"/>
<polygon points="452.1,738.4 507.0,706.9 508.7,711.4 453.8,743.0"/>
<polygon points="453.8,743.0 508.7,711.4 510.4,715.4 455.6,747.1"/>
<polygon points="455.6,747.1 510.4,715.4 512.1,718.7 457.3,750.4"/>
<polygon points="457.3,750.4 512.1,718.7 513.8,721.6 459.0,753.4"/>
<polygon points="459.0,753.4 513.8,721.6 515.5,724.4 460.8,756.1"/>
<polygon points="460.8,756.1 515.5,724.4 517.2,726.9 462.5,758.7"/>
<polygon points="462.5,758.7 517.2,726.9 518.9,729.2 464.2,761.0"/>
<polygon points="464.2,761.0 518.9,729.2 520.6,731.2 465.9,763.2"/>
<polygon points="465.9,763.2 520.6,731.2 522.3,733.2 467.6,765.2"/>
<polygon points="467.6,765.2 522.3,733.2 524.0,735.1 469.4,767.1"/>
<polygon points="469.4,767.1 524.0,735.1 525.7,736.7 471.1,768.8"/>
<polygon points="471.1,768.8 525.7,736.7 527.5,738.2 472.8,770.3"/>
<polygon points="472.8,770.3 527.5,738.2 529.2,739.5 474.5,771.6"/>
<polygon points="474.5,771.6 529.2,739.5 530.9,740.8 476.2,773.0"/>
<polygon points="476.2,773.0 530.9,740.8 532.6,742.1 477.9,774.3"/>
<polygon points="477.9,774.3 532.6,742.1 534.3,743.3 479.6,775.5"/>
<polygon points="479.6,775.5 534.3,743.3 536.0,744.4 481.4,776.7"/>
<polygon points="481.4,776.7 536.0,744.4 537.8,745.5 483.1,777.8"/>
<polygon points="483.1,777.8 537.8,745.5 539.5,746.5 484.8,778.8"/>
<polygon points="484.8,778.8 539.5,746.5 541.2,747.2 486.5,779.6"/>
<polygon points="486.5,779.6 541.2,747.2 542.9,747.8 488.3,780.2"/>
<polygon points="488.3,780.2 542.9,747.8 544.7,748.3 490.0,780.8"/>
<polygon points="490.0,780.8 544.7,748.3 546.4,748.8 491.7,781.2"/>
<polygon points="491.7,781.2 546.4,748.8 548.2,749.2 493.4,781.7"/>
<polygon points="493.4,781.7 548.2,749.2 549.9,749.7 495.2,782.3"/>
<polygon points="495.2,782.3 549.9,749.7 551.6,750.3 496.9,782.8"/>
<polygon points="496.9,782.8 551.6,750.3 553.4,750.8 498.6,783.3"/>
<polygon points="498.6,783.3 553.4,750.8 555.1,751.3 500.4,783.9"/>
<polygon points="500.4,783.9 555.1,751.3 556.9,752.0 502.1,784.7"/>
<polygon points="502.1,784.7 556.9,752.0 558.6,753.1 503.9,785.7"/>
<polygon points="503.9,785.7 558.6,753.1 560.4,754.7 505.6,787.4"/>
<polygon points="505.6,787.4 560.4,754.7 562.1,756.7 507.4,789.4"/>
<polygon points="507.4,789.4 562.1,756.7 563.9,758.9 509.1,791.7"/>
<polygon points="509.1,791.7 563.9,758.9 565.6,761.1 510.9,794.0"/>
<polygon points="510.9,794.0 565.6,761.1 567.3,763.8 512.6,796.7"/>
<polygon points="512.6,796.7 567.3,763.8 569.1,766.7 514.4,799.6"/>
<polygon points="514.4,799.6 569.1,766.7 570.8,769.7 516.1,802.7"/>
<polygon points="516.1,802.7 570.8,769.7 572.6,772.9 517.9,806.0"/>
<polygon points="517.9,806.0 572.6,772.9 574.3,776.1 519.7,809.3"/>
<polygon points="519.7,809.3 574.3,776.1 576.0,779.3 521.4,812.5"/>
<polygon points="521.4,812.5 576.0,779.3 577.8,782.3 523.2,815.6"/>
<polygon points="523.2,815.6 577.8,782.3 579.5,785.4 524.9,818.6"/>
<polygon points="524.9,818.6 579.5,785.4 581.2,788.4 526.7,821.7"/>
<polygon points="526.7,821.7 581.2,788.4 583.0,791.4 528.5,824.8"/>
<polygon points="528.5,824.8 583.0,791.4 584.7,794.4 530.2,827.9"/>
<polygon points="530.2,827.9 584.7,794.4 586.5,797.5 532.0,831.0"/>
<polygon points="532.0,831.0 586.5,797.5 588.2,800.5 533.8,834.1"/>
<polygon points="533.8,834.1 588.2,800.5 589.9,803.5 535.5,837.1"/>
<polygon points="535.5,837.1 589.9,803.5 591.7,806.6 537.3,840.2"/>
<polygon points="537.3,840.2 591.7,806.6 593.4,809.6 539.1,843.3"/>
<polygon points="539.1,843.3 593.4,809.6 595.2,812.6 540.8,846.4"/>
<polygon points="540.8,846.4 595.2,812.6 596.9,815.6 542.6,849.4"/>
<polygon points="542.6,849.4 596.9,815.6 598.7,818.3 544.3,852.2"/>
<polygon points="544.3,852.2 598.7,818.3 600.4,820.8 546.1,854.8"/>
<polygon points="546.1,854.8 600.4,820.8 602.2,823.2 547.9,857.2"/>
<polygon points="547.9,857.2 602.2,823.2 603.9,825.7 549.7,859.7"/>
<polygon points="549.7,859.7 603.9,825.7 605.7,828.2 551.4,862.3"/>
<polygon points="551.4,862.3 605.7,828.2 607.4,831.0 553.2,865.1"/>
<polygon points="553.2,865.1 607.4,831.0 609.2,833.8 555.0,867.9"/>
<polygon points="555.0,867.9 609.2,833.8 610.9,836.4 556.7,870.6"/>
<polygon points="556.7,870.6 610.9,836.4 612.7,838.6 558.5,872.9"/>
<polygon points="558.5,872.9 612.7,838.6 614.5,840.7 560.3,875.0"/>
<polygon points="560.3,875.0 614.5,840.7 616.2,842.6 562.1,876.9"/>
<polygon points="562.1,876.9 616.2,842.6 618.0,844.2 563.9,878.6"/>
<polygon points="563.9,878.6 618.0,844.2 619.8,845.8 565.7,880.2"/>
<polygon points="565.7,880.2 619.8,845.8 621.6,847.3 567.4,881.7"/>
<polygon points="567.4,881.7 621.6,847.3 623.4,848.6 569.2,883.1"/>
<polygon points="569.2,883.1 623.4,848.6 623.7,848.8 569.5,883.3"/>
<polyline points="621.2,850.4 620.9,850.2 619.1,848.9 617.3,847.4 615.5,845.8 613.7,844.2 612.0,842.3 610.2,840.2 608.4,838.0 606.7,835.4 604.9,832.5 603.2,829.8 601.4,827.2 599.6,824.8 597.9,822.4 596.1,819.9 594.4,817.2 592.6,814.2 590.9,811.2 589.2,808.1 587.4,805.1 585.7,802.1 583.9,799.0 582.2,796.0 580.5,793.0 578.7,789.9 577.0,786.9 575.2,783.9 573.5,780.8 571.8,777.7 570.0,774.4 568.3,771.2 566.5,768.2 564.8,765.3 563.1,762.7 561.3,760.4 559.6,758.2 557.8,756.2 556.1,754.6 554.3,753.5 552.6,752.8 550.8,752.3 549.1,751.8 547.4,751.2 545.6,750.7 543.9,750.3 542.1,749.8 540.4,749.3 538.7,748.7 536.9,748.0 535.2,747.0 533.5,745.9 531.8,744.8 530.1,743.6 528.3,742.3 526.6,741.0 524.9,739.7 523.2,738.2 521.5,736.5 519.8,734.7 518.1,732.7 516.4,730.7 514.7,728.4 513.0,725.8 511.3,723.1 509.5,720.1 507.8,716.9 506.1,712.9 504.4,708.3 502.7,703.7 501.0,699.3 499.3,695.4 497.6,691.9 495.9,688.3 494.2,684.6 492.4,678.1 490.7,669.4 488.9,658.5 487.1,645.9 485.3,631.3 483.5,615.9 481.6,597.5 479.8,579.8 477.9,563.1 476.0,547.3 474.2,533.3 472.3,519.3 470.4,506.0 468.7,502.0 466.9,497.2" fill="none" stroke-width="3.4"/>
<polygon points="162.4,665.3 158.2,614.5 159.6,615.4 161.0,616.4 162.3,617.4 163.7,618.3 165.1,619.3 166.4,620.2 167.8,621.2 169.2,622.1 170.6,623.1 171.9,624.0 173.3,625.0 174.7,625.9 176.1,626.9 177.4,627.8 178.8,628.8 180.2,629.7 181.6,630.6 183.0,631.6 184.4,632.5 185.8,633.5 187.1,634.4 188.5,635.3 189.9,636.3 191.3,637.2 192.7,638.2 194.1,639.1 195.5,640.0 196.9,641.0 198.3,641.9 199.7,642.8 201.1,643.8 202.5,644.7 203.9,645.7 205.3,646.6 206.7,647.5 208.1,648.5 209.5,649.4 210.9,650.4 212.4,651.3 213.8,652.2 215.2,653.2 216.6,654.1 218.0,655.1 219.4,656.0 220.9,656.9 222.3,657.9 223.7,658.8 225.1,659.8 226.6,660.6 228.0,661.5 229.4,662.3 230.8,663.1 232.2,663.9 233.7,664.7 235.1,665.4 236.5,666.2 237.9,666.9 239.4,667.6 240.8,668.4 242.2,669.1 243.6,669.9 245.1,670.7 246.5,671.5 248.0,672.3 249.4,673.1 250.8,673.9 252.3,674.7 253.7,675.5 255.2,676.3 256.6,677.1 258.1,677.9 259.5,678.7 261.0,679.5 262.4,680.3 263.9,681.0 265.3,681.8 266.8,682.6 268.3,683.3 269.7,684.1 271.2,684.8 272.6,685.5 274.1,686.2 275.6,686.9 277.0,687.6 278.5,688.2 280.0,688.9 281.4,689.5 282.9,690.1 284.4,690.7 285.8,691.3 287.3,691.8 288.8,692.3 290.2,692.7 291.7,693.1 293.2,693.3 294.6,693.5 296.1,693.5 297.5,693.5 299.0,693.5 300.4,693.4 301.9,693.3 303.3,693.2 304.8,693.0 306.3,692.9 307.7,692.8 309.2,692.7 310.7,692.6 312.1,692.6 313.6,692.7 315.1,692.7 316.6,692.8 318.1,692.8 319.6,692.9 321.1,693.0 322.5,693.0 324.0,693.1 325.5,693.1 327.0,693.0 328.5,693.0 330.0,692.9 331.5,692.7 333.0,692.5 334.5,692.1 336.0,691.7 337.5,691.2 339.0,690.7 340.5,690.1 342.0,689.5 343.5,688.8 345.0,688.1 346.5,687.4 348.0,686.6 349.5,685.8 351.0,684.9 352.5,684.0 354.0,683.1 355.5,682.1 357.0,681.1 358.5,680.0 360.1,678.9 361.6,677.7 363.1,676.6 364.6,675.4 366.1,674.1 367.6,672.8 369.2,671.4 370.7,669.9 372.2,668.3 373.7,666.6 375.3,664.8 376.8,662.8 378.3,660.7 379.8,658.3 381.3,655.7 382.8,653.0 384.3,649.9 385.8,646.3 387.3,642.6 388.8,638.7 390.4,635.1 391.9,631.7 393.4,628.3 394.9,624.4 396.4,619.8 397.9,614.3 399.4,607.8 400.8,600.4 402.2,590.8 403.4,574.3 404.7,557.2 406.0,545.1 407.5,535.6 409.0,527.6 410.6,524.8 412.3,524.9 414.1,529.8 415.9,533.8 417.9,547.2 419.9,561.4 422.0,575.5 424.0,591.5 426.1,608.4 428.1,626.3 430.2,644.9 432.2,660.5 434.2,675.1 436.1,687.9 438.0,698.9 439.8,707.7 441.6,714.3 443.4,718.1 445.1,721.7 446.9,725.3 448.6,729.2 450.3,733.6 452.1,738.4 453.8,743.0 455.6,747.1 457.3,750.4 459.0,753.4 460.8,756.1 462.5,758.7 464.2,761.0 465.9,763.2 467.6,765.2 469.4,767.1 471.1,768.8 472.8,770.3 474.5,771.6 476.2,773.0 477.9,774.3 479.6,775.5 481.4,776.7 483.1,777.8 484.8,778.8 486.5,779.6 488.3,780.2 490.0,780.8 491.7,781.2 493.4,781.7 495.2,782.3 496.9,782.8 498.6,783.3 500.4,783.9 502.1,784.7 503.9,785.7 505.6,787.4 507.4,789.4 509.1,791.7 510.9,794.0 512.6,796.7 514.4,799.6 516.1,802.7 517.9,806.0 519.7,809.3 521.4,812.5 523.2,815.6 524.9,818.6 526.7,821.7 528.5,824.8 530.2,827.9 532.0,831.0 533.8,834.1 535.5,837.1 537.3,840.2 539.1,843.3 540.8,846.4 542.6,849.4 544.3,852.2 546.1,854.8 547.9,857.2 549.7,859.7 551.4,862.3 553.2,865.1 555.0,867.9 556.7,870.6 558.5,872.9 560.3,875.0 562.1,876.9 563.9,878.6 565.7,880.2 567.4,881.7 569.2,883.1 569.5,883.3 568.9,940.6" fill="#00ff00" stroke-width="2"/>
<polygon points="568.9,940.6 569.5,883.3 623.7,848.8 622.3,905.6" stroke-width="4.6"/>
</g>
<g fill="#aa0000" stroke="#ff0000" stroke-width="2.2" stroke-linejoin="round">
<polygon points="79.9,653.4 135.1,626.0 136.4,626.9 81.3,654.3"/>
<polygon points="81.3,654.3 136.4,626.9 137.8,627.9 82.6,655.3"/>
<polygon points="82.6,655.3 137.8,627.9 139.2,628.8 84.0,656.3"/>
<polygon points="84.0,656.3 139.2,628.8 140.5,629.8 85.3,657.3"/>
<polygon points="85.3,657.3 140.5,629.8 141.9,630.7 86.7,658.3"/>
<polygon points="86.7,658.3 141.9,630.7 143.3,631.7 88.0,659.2"/>
<polygon points="88.0,659.2 143.3,631.7 144.6,632.6 89.4,660.2"/>
<polygon points="89.4,660.2 144.6,632.6 146.0,633.6 90.8,661.2"/>
<polygon points="90.8,661.2 146.0,633.6 147.4,634.5 92.1,662.2"/>
<polygon points="92.1,662.2 147.4,634.5 148.7,635.5 93.5,663.2"/>
<polygon points="93.5,663.2 148.7,635.5 150.1,636.5 94.9,664.1"/>
<polygon points="94.9,664.1 150.1,636.5 151.5,637.4 96.2,665.1"/>
<polygon points="96.2,665.1 151.5,637.4 152.9,638.4 97.6,666.1"/>
<polygon points="97.6,666.1 152.9,638.4 154.2,639.3 99.0,667.1"/>
<polygon points="99.0,667.1 154.2,639.3 155.6,640.3 100.3,668.0"/>
<polygon points="100.3,668.0 155.6,640.3 157.0,641.2 101.7,669.0"/>
<polygon points="101.7,669.0 157.0,641.2 158.4,642.2 103.1,670.0"/>
<polygon points="103.1,670.0 158.4,642.2 159.8,643.1 104.5,671.0"/>
<polygon points="104.5,671.0 159.8,643.1 161.1,644.0 105.8,671.9"/>
<polygon points="105.8,671.9 161.1,644.0 162.5,645.0 107.2,672.9"/>
<polygon points="107.2,672.9 162.5,645.0 163.9,645.9 108.6,673.9"/>
<polygon points="108.6,673.9 163.9,645.9 165.3,646.9 110.0,674.9"/>
<polygon points="110.0,674.9 165.3,646.9 166.7,647.8 111.3,675.8"/>
<polygon points="111.3,675.8 166.7,647.8 168.1,648.8 112.7,676.8"/>
<polygon points="112.7,676.8 168.1,648.8 169.5,649.7 114.1,677.8"/>
<polygon points="114.1,677.8 169.5,649.7 170.8,650.7 115.5,678.8"/>
<polygon points="115.5,678.8 170.8,650.7 172.2,651.6 116.9,679.7"/>
<polygon points="116.9,679.7 172.2,651.6 173.6,652.5 118.3,680.7"/>
<polygon points="118.3,680.7 173.6,652.5 175.0,653.5 119.6,681.7"/>
<polygon points="119.6,681.7 175.0,653.5 176.4,654.4 121.0,682.6"/>
<polygon points="121.0,682.6 176.4,654.4 177.8,655.4 122.4,683.6"/>
<polygon points="122.4,683.6 177.8,655.4 179.2,656.3 123.8,684.6"/>
<polygon points="123.8,684.6 179.2,656.3 180.6,657.3 125.2,685.6"/>
<polygon points="125.2,685.6 180.6,657.3 182.0,658.2 126.6,686.6"/>
<polygon points="126.6,686.6 182.0,658.2 183.4,659.2 128.0,687.5"/>
<polygon points="128.0,687.5 183.4,659.2 184.8,660.1 129.4,688.5"/>
<polygon points="129.4,688.5 184.8,660.1 186.2,661.1 130.8,689.5"/>
<polygon points="130.8,689.5 186.2,661.1 187.7,662.0 132.2,690.5"/>
<polygon points="132.2,690.5 187.7,662.0 189.1,663.0 133.6,691.4"/>
<polygon points="133.6,691.4 189.1,663.0 190.5,663.9 135.0,692.4"/>
<polygon points="135.0,692.4 190.5,663.9 191.9,664.9 136.4,693.4"/>
<polygon points="136.4,693.4 191.9,664.9 193.3,665.8 137.8,694.4"/>
<polygon points="137.8,694.4 193.3,665.8 194.7,666.8 139.2,695.4"/>
<polygon points="139.2,695.4 194.7,666.8 196.1,667.7 140.6,696.3"/>
<polygon points="140.6,696.3 196.1,667.7 197.6,668.7 142.0,697.3"/>
<polygon points="142.0,697.3 197.6,668.7 199.0,669.6 143.5,698.3"/>
<polygon points="143.5,698.3 199.0,669.6 200.4,670.6 144.9,699.3"/>
<polygon points="144.9,699.3 200.4,670.6 201.8,671.5 146.3,700.3"/>
<polygon points="146.3,700.3 201.8,671.5 203.2,672.5 147.7,701.2"/>
<polygon points="147.7,701.2 203.2,672.5 204.7,673.3 149.1,702.1"/>
<polygon points="149.1,702.1 204.7,673.3 206.1,674.2 150.5,703.0"/>
<polygon points="150.5,703.0 206.1,674.2 207.5,675.1 151.9,703.9"/>
<polygon points="151.9,703.9 207.5,675.1 208.9,675.9 153.3,704.8"/>
<polygon points="153.3,704.8 208.9,675.9 210.3,676.7 154.8,705.6"/>
<polygon points="154.8,705.6 210.3,676.7 211.8,677.5 156.2,706.4"/>
<polygon points="156.2,706.4 211.8,677.5 213.2,678.3 157.6,707.3"/>
<polygon points="157.6,707.3 213.2,678.3 214.6,679.1 159.0,708.1"/>
<polygon points="159.0,708.1 214.6,679.1 216.0,679.9 160.4,708.9"/>
<polygon points="160.4,708.9 216.0,679.9 217.5,680.7 161.8,709.7"/>
<polygon points="161.8,709.7 217.5,680.7 218.9,681.5 163.2,710.6"/>
<polygon points="163.2,710.6 218.9,681.5 220.3,682.3 164.7,711.4"/>
<polygon points="164.7,711.4 220.3,682.3 221.8,683.2 166.1,712.3"/>
<polygon points="166.1,712.3 221.8,683.2 223.2,684.0 167.5,713.2"/>
<polygon points="167.5,713.2 223.2,684.0 224.6,684.8 168.9,714.0"/>
<polygon points="168.9,714.0 224.6,684.8 226.1,685.7 170.4,714.9"/>
<polygon points="170.4,714.9 226.1,685.7 227.5,686.5 171.8,715.8"/>
<polygon points="171.8,715.8 227.5,686.5 228.9,687.4 173.2,716.7"/>
<polygon points="173.2,716.7 228.9,687.4 230.4,688.3 174.7,717.6"/>
<polygon points="174.7,717.6 230.4,688.3 231.8,689.1 176.1,718.4"/>
<polygon points="176.1,718.4 231.8,689.1 233.3,690.0 177.6,719.3"/>
<polygon points="177.6,719.3 233.3,690.0 234.7,690.8 179.0,720.2"/>
<polygon points="179.0,720.2 234.7,690.8 236.2,691.7 180.4,721.1"/>
<polygon points="180.4,721.1 236.2,691.7 237.6,692.5 181.9,722.0"/>
<polygon points="181.9,722.0 237.6,692.5 239.1,693.4 183.3,722.8"/>
<polygon points="183.3,722.8 239.1,693.4 240.5,694.2 184.8,723.7"/>
<polygon points="184.8,723.7 240.5,694.2 242.0,695.0 186.2,724.5"/>
<polygon points="186.2,724.5 242.0,695.0 243.5,695.8 187.7,725.4"/>
<polygon points="187.7,725.4 243.5,695.8 244.9,696.6 189.1,726.2"/>
<polygon points="189.1,726.2 244.9,696.6 246.4,697.4 190.6,727.1"/>
<polygon points="190.6,727.1 246.4,697.4 247.8,698.2 192.0,727.9"/>
<polygon points="192.0,727.9 247.8,698.2 249.3,699.0 193.5,728.7"/>
<polygon points="193.5,728.7 249.3,699.0 250.7,699.8 194.9,729.5"/>
<polygon points="194.9,729.5 250.7,699.8 252.2,700.6 196.4,730.3"/>
<polygon points="196.4,730.3 252.2,700.6 253.7,701.3 197.8,731.1"/>
<polygon points="197.8,731.1 253.7,701.3 255.1,702.1 199.3,731.9"/>
<polygon points="199.3,731.9 255.1,702.1 256.6,702.8 200.7,732.6"/>
<polygon points="200.7,732.6 256.6,702.8 258.1,703.5 202.2,733.4"/>
<polygon points="202.2,733.4 258.1,703.5 259.5,704.2 203.6,734.1"/>
<polygon points="203.6,734.1 259.5,704.2 261.0,704.9 205.1,734.8"/>
<polygon points="205.1,734.8 261.0,704.9 262.5,705.6 206.5,735.5"/>
<polygon points="206.5,735.5 262.5,705.6 263.9,706.2 208.0,736.2"/>
<polygon points="208.0,736.2 263.9,706.2 265.4,706.9 209.5,736.9"/>
<polygon points="209.5,736.9 265.4,706.9 266.9,707.5 210.9,737.5"/>
<polygon points="210.9,737.5 266.9,707.5 268.3,708.0 212.4,738.0"/>
<polygon points="212.4,738.0 268.3,708.0 269.8,708.4 213.8,738.5"/>
<polygon points="213.8,738.5 269.8,708.4 271.3,708.7 215.3,738.8"/>
<polygon points="215.3,738.8 271.3,708.7 272.7,709.0 216.7,739.2"/>
<polygon points="216.7,739.2 272.7,709.0 274.2,709.3 218.1,739.4"/>
<polygon points="218.1,739.4 274.2,709.3 275.6,709.5 219.6,739.7"/>
<polygon points="219.6,739.7 275.6,709.5 277.1,709.7 221.0,739.9"/>
<polygon points="221.0,739.9 277.1,709.7 278.6,709.8 222.5,740.0"/>
<polygon points="222.5,740.0 278.6,709.8 280.0,710.0 223.9,740.2"/>
<polygon points="223.9,740.2 280.0,710.0 281.5,710.1 225.3,740.4"/>
<polygon points="225.3,740.4 281.5,710.1 282.9,710.2 226.8,740.5"/>
<polygon points="226.8,740.5 282.9,710.2 284.4,710.4 228.2,740.7"/>
<polygon points="228.2,740.7 284.4,710.4 285.9,710.6 229.7,740.9"/>
<polygon points="229.7,740.9 285.9,710.6 287.4,710.8 231.1,741.1"/>
<polygon points="231.1,741.1 287.4,710.8 288.8,711.0 232.6,741.4"/>
<polygon points="232.6,741.4 288.8,711.0 290.3,711.3 234.1,741.7"/>
<polygon points="234.1,741.7 290.3,711.3 291.8,711.6 235.5,742.0"/>
<polygon points="235.5,742.0 291.8,711.6 293.3,711.9 237.0,742.3"/>
<polygon points="237.0,742.3 293.3,711.9 294.8,712.2 238.5,742.7"/>
<polygon points="238.5,742.7 294.8,712.2 296.3,712.5 240.0,743.0"/>
<polygon points="240.0,743.0 296.3,712.5 297.8,712.7 241.4,743.3"/>
<polygon points="241.4,743.3 297.8,712.7 299.3,713.0 242.9,743.6"/>
<polygon points="242.9,743.6 299.3,713.0 300.7,713.3 244.4,743.9"/>
<polygon points="244.4,743.9 300.7,713.3 302.2,713.6 245.9,744.2"/>
<polygon points="245.9,744.2 302.2,713.6 303.7,713.8 247.3,744.4"/>
<polygon points="247.3,744.4 303.7,713.8 305.2,714.0 248.8,744.7"/>
<polygon points="248.8,744.7 305.2,714.0 306.7,714.1 250.3,744.9"/>
<polygon points="250.3,744.9 306.7,714.1 308.2,714.3 251.8,745.0"/>
<polygon points="251.8,745.0 308.2,714.3 309.7,714.3 253.3,745.1"/>
<polygon points="253.3,745.1 309.7,714.3 311.2,714.3 254.7,745.1"/>
<polygon points="254.7,745.1 311.2,714.3 312.7,714.3 256.2,745.1"/>
<polygon points="256.2,745.1 312.7,714.3 314.2,714.2 257.7,745.0"/>
<polygon points="257.7,745.0 314.2,714.2 315.7,714.0 259.2,744.8"/>
<polygon points="259.2,744.8 315.7,714.0 317.2,713.8 260.6,744.7"/>
<polygon points="260.6,744.7 317.2,713.8 318.7,713.5 262.1,744.4"/>
<polygon points="262.1,744.4 318.7,713.5 320.2,713.3 263.6,744.2"/>
<polygon points="263.6,744.2 320.2,713.3 321.7,713.0 265.1,744.0"/>
<polygon points="265.1,744.0 321.7,713.0 323.2,712.7 266.6,743.7"/>
<polygon points="266.6,743.7 323.2,712.7 324.7,712.4 268.0,743.4"/>
<polygon points="268.0,743.4 324.7,712.4 326.2,712.0 269.5,743.0"/>
<polygon points="269.5,743.0 326.2,712.0 327.7,711.6 271.0,742.6"/>
<polygon points="271.0,742.6 327.7,711.6 329.3,711.2 272.5,742.2"/>
<polygon points="272.5,742.2 329.3,711.2 330.8,710.7 274.0,741.8"/>
<polygon points="274.0,741.8 330.8,710.7 332.3,710.2 275.4,741.3"/>
<polygon points="275.4,741.3 332.3,710.2 333.8,709.7 276.9,740.8"/>
<polygon points="276.9,740.8 333.8,709.7 335.3,709.1 278.4,740.2"/>
<polygon points="278.4,740.2 335.3,709.1 336.8,708.5 279.9,739.6"/>
<polygon points="279.9,739.6 336.8,708.5 338.3,707.9 281.4,739.1"/>
<polygon points="281.4,739.1 338.3,707.9 339.8,707.3 282.9,738.4"/>
<polygon points="282.9,738.4 339.8,707.3 341.4,706.6 284.4,737.8"/>
<polygon points="284.4,737.8 341.4,706.6 342.9,705.9 285.8,737.1"/>
<polygon points="285.8,737.1 342.9,705.9 344.4,705.1 287.3,736.4"/>
<polygon points="287.3,736.4 344.4,705.1 345.9,704.3 288.8,735.6"/>
<polygon points="288.8,735.6 345.9,704.3 347.5,703.4 290.3,734.7"/>
<polygon points="290.3,734.7 347.5,703.4 349.0,702.5 291.8,733.8"/>
<polygon points="291.8,733.8 349.0,702.5 350.5,701.5 293.3,732.8"/>
<polygon points="293.3,732.8 350.5,701.5 352.0,700.3 294.8,731.7"/>
<polygon points="294.8,731.7 352.0,700.3 353.6,699.1 296.3,730.5"/>
<polygon points="296.3,730.5 353.6,699.1 355.1,697.7 297.7,729.1"/>
<polygon points="297.7,729.1 355.1,697.7 356.6,696.2 299.2,727.5"/>
<polygon points="299.2,727.5 356.6,696.2 358.1,694.5 300.7,725.9"/>
<polygon points="300.7,725.9 358.1,694.5 359.6,692.6 302.2,724.0"/>
<polygon points="302.2,724.0 359.6,692.6 361.1,690.5 303.6,721.9"/>
<polygon points="303.6,721.9 361.1,690.5 362.6,688.1 305.1,719.5"/>
<polygon points="305.1,719.5 362.6,688.1 364.1,685.5 306.5,716.9"/>
<polygon points="306.5,716.9 364.1,685.5 365.6,682.9 307.9,714.3"/>
<polygon points="307.9,714.3 365.6,682.9 367.1,680.4 309.4,711.8"/>
<polygon points="309.4,711.8 367.1,680.4 368.7,678.1 310.9,709.5"/>
<polygon points="310.9,709.5 368.7,678.1 370.2,675.8 312.3,707.2"/>
<polygon points="312.3,707.2 370.2,675.8 371.7,673.1 313.8,704.5"/>
<polygon points="313.8,704.5 371.7,673.1 373.2,669.8 315.2,701.2"/>
<polygon points="315.2,701.2 373.2,669.8 374.7,665.9 316.6,697.3"/>
<polygon points="316.6,697.3 374.7,665.9 376.1,661.3 318.0,692.7"/>
<polygon points="318.0,692.7 376.1,661.3 377.6,656.0 319.4,687.4"/>
<polygon points="319.4,687.4 377.6,656.0 379.0,649.0 320.7,680.3"/>
<polygon points="320.7,680.3 379.0,649.0 380.2,636.8 321.7,668.0"/>
<polygon points="321.7,668.0 380.2,636.8 381.5,624.3 322.8,655.4"/>
<polygon points="322.8,655.4 381.5,624.3 382.9,615.4 324.0,646.4"/>
<polygon points="324.0,646.4 382.9,615.4 384.3,608.6 325.3,639.6"/>
<polygon points="325.3,639.6 384.3,608.6 385.8,602.8 326.7,633.8"/>
<polygon points="326.7,633.8 385.8,602.8 387.4,601.0 328.3,632.0"/>
<polygon points="328.3,632.0 387.4,601.0 389.1,601.4 329.9,632.4"/>
<polygon points="329.9,632.4 389.1,601.4 390.9,605.3 331.7,636.4"/>
<polygon points="331.7,636.4 390.9,605.3 392.6,608.6 333.5,639.8"/>
<polygon points="333.5,639.8 392.6,608.6 394.6,619.0 335.6,650.3"/>
<polygon points="335.6,650.3 394.6,619.0 396.6,629.9 337.8,661.4"/>
<polygon points="337.8,661.4 396.6,629.9 398.6,640.8 339.9,672.4"/>
<polygon points="339.9,672.4 398.6,640.8 400.6,653.1 342.0,684.8"/>
<polygon points="342.0,684.8 400.6,653.1 402.6,666.2 344.2,698.0"/>
<polygon points="344.2,698.0 402.6,666.2 404.6,680.0 346.4,712.0"/>
<polygon points="346.4,712.0 404.6,680.0 406.7,694.4 348.6,726.5"/>
<polygon points="348.6,726.5 406.7,694.4 408.6,706.5 350.8,738.8"/>
<polygon points="350.8,738.8 408.6,706.5 410.6,718.0 352.9,750.4"/>
<polygon points="352.9,750.4 410.6,718.0 412.5,728.0 354.9,760.6"/>
<polygon points="354.9,760.6 412.5,728.0 414.4,736.7 356.9,769.3"/>
<polygon points="356.9,769.3 414.4,736.7 416.2,743.7 358.8,776.5"/>
<polygon points="358.8,776.5 416.2,743.7 418.0,749.0 360.6,781.8"/>
<polygon points="360.6,781.8 418.0,749.0 419.7,752.1 362.4,785.0"/>
<polygon points="362.4,785.0 419.7,752.1 421.5,755.1 364.1,788.0"/>
<polygon points="364.1,788.0 421.5,755.1 423.2,758.1 365.9,791.1"/>
<polygon points="365.9,791.1 423.2,758.1 424.9,761.3 367.6,794.4"/>
<polygon points="367.6,794.4 424.9,761.3 426.7,765.0 369.4,798.0"/>
<polygon points="369.4,798.0 426.7,765.0 428.4,768.8 371.2,801.9"/>
<polygon points="371.2,801.9 428.4,768.8 430.1,772.4 372.9,805.6"/>
<polygon points="372.9,805.6 430.1,772.4 431.9,775.2 374.7,808.4"/>
<polygon points="374.7,808.4 431.9,775.2 433.6,777.2 376.4,810.4"/>
<polygon points="376.4,810.4 433.6,777.2 435.3,778.8 378.1,812.1"/>
<polygon points="378.1,812.1 435.3,778.8 437.0,780.2 379.8,813.6"/>
<polygon points="379.8,813.6 437.0,780.2 438.7,781.6 381.5,815.0"/>
<polygon points="381.5,815.0 438.7,781.6 440.4,783.2 383.2,816.6"/>
<polygon points="383.2,816.6 440.4,783.2 442.1,785.0 384.9,818.5"/>
<polygon points="384.9,818.5 442.1,785.0 443.8,786.8 386.6,820.4"/>
<polygon points="386.6,820.4 443.8,786.8 445.5,788.7 388.4,822.2"/>
<polygon points="388.4,822.2 445.5,788.7 447.2,790.4 390.1,824.0"/>
<polygon points="390.1,824.0 447.2,790.4 448.9,792.0 391.8,825.6"/>
<polygon points="391.8,825.6 448.9,792.0 450.7,793.5 393.5,827.2"/>
<polygon points="393.5,827.2 450.7,793.5 452.4,795.0 395.2,828.8"/>
<polygon points="395.2,828.8 452.4,795.0 454.1,796.5 396.9,830.3"/>
<polygon points="396.9,830.3 454.1,796.5 455.8,798.0 398.7,831.9"/>
<polygon points="398.7,831.9 455.8,798.0 457.5,799.5 400.4,833.4"/>
<polygon points="400.4,833.4 457.5,799.5 459.2,800.9 402.1,834.9"/>
<polygon points="402.1,834.9 459.2,800.9 461.0,802.3 403.8,836.3"/>
<polygon points="403.8,836.3 461.0,802.3 462.7,803.6 405.5,837.5"/>
<polygon points="405.5,837.5 462.7,803.6 464.4,804.7 407.3,838.7"/>
<polygon points="407.3,838.7 464.4,804.7 466.1,805.7 409.0,839.8"/>
<polygon points="409.0,839.8 466.1,805.7 467.8,806.7 410.7,840.8"/>
<polygon points="410.7,840.8 467.8,806.7 469.6,807.7 412.4,841.9"/>
<polygon points="412.4,841.9 469.6,807.7 471.3,808.8 414.1,843.0"/>
<polygon points="414.1,843.0 471.3,808.8 473.0,809.9 415.9,844.1"/>
<polygon points="415.9,844.1 473.0,809.9 474.8,810.9 417.6,845.1"/>
<polygon points="417.6,845.1 474.8,810.9 476.5,811.9 419.3,846.2"/>
<polygon points="419.3,846.2 476.5,811.9 478.2,813.1 421.0,847.4"/>
<polygon points="421.0,847.4 478.2,813.1 480.0,814.5 422.8,848.9"/>
<polygon points="422.8,848.9 480.0,814.5 481.7,816.3 424.5,850.7"/>
<polygon points="424.5,850.7 481.7,816.3 483.5,818.4 426.3,852.9"/>
<polygon points="426.3,852.9 483.5,818.4 485.2,820.7 428.1,855.2"/>
<polygon points="428.1,855.2 485.2,820.7 487.0,822.9 429.8,857.5"/>
<polygon points="429.8,857.5 487.0,822.9 488.7,825.5 431.6,860.1"/>
<polygon points="431.6,860.1 488.7,825.5 490.5,828.1 433.4,862.8"/>
<polygon points="433.4,862.8 490.5,828.1 492.3,830.9 435.2,865.6"/>
<polygon points="435.2,865.6 492.3,830.9 494.0,833.7 436.9,868.5"/>
<polygon points="436.9,868.5 494.0,833.7 495.8,836.6 438.7,871.4"/>
<polygon points="438.7,871.4 495.8,836.6 497.5,839.4 440.5,874.2"/>
<polygon points="440.5,874.2 497.5,839.4 499.3,842.1 442.3,877.0"/>
<polygon points="442.3,877.0 499.3,842.1 501.1,844.7 444.1,879.7"/>
<polygon points="444.1,879.7 501.1,844.7 502.8,847.4 445.8,882.4"/>
<polygon points="445.8,882.4 502.8,847.4 504.6,850.0 447.6,885.1"/>
<polygon points="447.6,885.1 504.6,850.0 506.4,852.7 449.4,887.8"/>
<polygon points="449.4,887.8 506.4,852.7 508.1,855.3 451.2,890.5"/>
<polygon points="451.2,890.5 508.1,855.3 509.9,858.0 453.0,893.2"/>
<polygon points="453.0,893.2 509.9,858.0 511.7,860.6 454.8,895.9"/>
<polygon points="454.8,895.9 511.7,860.6 513.4,863.3 456.5,898.6"/>
<polygon points="456.5,898.6 513.4,863.3 515.2,865.9 458.3,901.3"/>
<polygon points="458.3,901.3 515.2,865.9 517.0,868.6 460.1,904.0"/>
<polygon points="460.1,904.0 517.0,868.6 518.8,871.2 461.9,906.7"/>
<polygon points="461.9,906.7 518.8,871.2 520.5,873.6 463.7,909.2"/>
<polygon points="463.7,909.2 520.5,873.6 522.3,875.9 465.5,911.5"/>
<polygon points="465.5,911.5 522.3,875.9 524.1,878.0 467.3,913.7"/>
<polygon points="467.3,913.7 524.1,878.0 525.8,880.2 469.0,915.9"/>
<polygon points="469.0,915.9 525.8,880.2 527.6,882.5 470.8,918.2"/>
<polygon points="470.8,918.2 527.6,882.5 529.4,885.0 472.6,920.7"/>
<polygon points="472.6,920.7 529.4,885.0 531.2,887.4 474.4,923.3"/>
<polygon points="474.4,923.3 531.2,887.4 533.0,889.8 476.2,925.7"/>
<polygon points="476.2,925.7 533.0,889.8 534.7,891.8 478.0,927.8"/>
<polygon points="478.0,927.8 534.7,891.8 536.5,893.8 479.8,929.7"/>
<polygon points="479.8,929.7 536.5,893.8 538.3,895.5 481.6,931.6"/>
<polygon points="481.6,931.6 538.3,895.5 540.1,897.1 483.4,933.2"/>
<polygon points="483.4,933.2 540.1,897.1 541.9,898.6 485.2,934.8"/>
<polygon points="485.2,934.8 541.9,898.6 543.7,900.1 487.0,936.2"/>
<polygon points="487.0,936.2 543.7,900.1 545.5,901.4 488.8,937.6"/>
<polygon points="488.8,937.6 545.5,901.4 545.8,901.6 489.0,937.8"/>
<polyline points="543.1,903.3 542.8,903.1 541.0,901.8 539.3,900.3 537.5,898.8 535.7,897.2 533.9,895.4 532.1,893.5 530.3,891.4 528.5,889.1 526.8,886.6 525.0,884.2 523.2,881.9 521.4,879.7 519.7,877.5 517.9,875.3 516.1,872.8 514.3,870.2 512.6,867.6 510.8,864.9 509.0,862.3 507.3,859.6 505.5,856.9 503.7,854.3 502.0,851.6 500.2,849.0 498.4,846.3 496.7,843.7 494.9,841.0 493.1,838.2 491.4,835.3 489.6,832.5 487.8,829.7 486.1,827.1 484.3,824.5 482.6,822.3 480.8,820.0 479.1,817.9 477.3,816.1 475.6,814.7 473.8,813.5 472.1,812.5 470.4,811.4 468.6,810.4 466.9,809.3 465.2,808.3 463.5,807.3 461.8,806.2 460.0,805.1 458.3,803.9 456.6,802.5 454.9,801.1 453.2,799.6 451.4,798.1 449.7,796.6 448.0,795.1 446.3,793.5 444.6,792.0 442.9,790.2 441.2,788.4 439.4,786.5 437.7,784.7 436.0,783.2 434.3,781.7 432.6,780.3 430.9,778.7 429.2,776.7 427.5,773.9 425.7,770.3 424.0,766.5 422.3,762.9 420.5,759.7 418.8,756.7 417.1,753.7 415.3,750.5 413.5,745.3 411.7,738.2 409.8,729.6 407.9,719.5 406.0,708.0 404.0,695.9 401.9,681.5 399.9,667.7 397.9,654.6 395.8,642.3 393.9,631.4 391.9,620.4 389.9,610.1 388.1,606.8 386.3,602.8" fill="none" stroke-width="3.4"/>
<polygon points="85.1,704.8 79.9,653.4 81.3,654.3 82.6,655.3 84.0,656.3 85.3,657.3 86.7,658.3 88.0,659.2 89.4,660.2 90.8,661.2 92.1,662.2 93.5,663.2 94.9,664.1 96.2,665.1 97.6,666.1 99.0,667.1 100.3,668.0 101.7,669.0 103.1,670.0 104.5,671.0 105.8,671.9 107.2,672.9 108.6,673.9 110.0,674.9 111.3,675.8 112.7,676.8 114.1,677.8 115.5,678.8 116.9,679.7 118.3,680.7 119.6,681.7 121.0,682.6 122.4,683.6 123.8,684.6 125.2,685.6 126.6,686.6 128.0,687.5 129.4,688.5 130.8,689.5 132.2,690.5 133.6,691.4 135.0,692.4 136.4,693.4 137.8,694.4 139.2,695.4 140.6,696.3 142.0,697.3 143.5,698.3 144.9,699.3 146.3,700.3 147.7,701.2 149.1,702.1 150.5,703.0 151.9,703.9 153.3,704.8 154.8,705.6 156.2,706.4 157.6,707.3 159.0,708.1 160.4,708.9 161.8,709.7 163.2,710.6 164.7,711.4 166.1,712.3 167.5,713.2 168.9,714.0 170.4,714.9 171.8,715.8 173.2,716.7 174.7,717.6 176.1,718.4 177.6,719.3 179.0,720.2 180.4,721.1 181.9,722.0 183.3,722.8 184.8,723.7 186.2,724.5 187.7,725.4 189.1,726.2 190.6,727.1 192.0,727.9 193.5,728.7 194.9,729.5 196.4,730.3 197.8,731.1 199.3,731.9 200.7,732.6 202.2,733.4 203.6,734.1 205.1,734.8 206.5,735.5 208.0,736.2 209.5,736.9 210.9,737.5 212.4,738.0 213.8,738.5 215.3,738.8 216.7,739.2 218.1,739.4 219.6,739.7 221.0,739.9 222.5,740.0 223.9,740.2 225.3,740.4 226.8,740.5 228.2,740.7 229.7,740.9 231.1,741.1 232.6,741.4 234.1,741.7 235.5,742.0 237.0,742.3 238.5,742.7 240.0,743.0 241.4,743.3 242.9,743.6 244.4,743.9 245.9,744.2 247.3,744.4 248.8,744.7 250.3,744.9 251.8,745.0 253.3,745.1 254.7,745.1 256.2,745.1 257.7,745.0 259.2,744.8 260.6,744.7 262.1,744.4 263.6,744.2 265.1,744.0 266.6,743.7 268.0,743.4 269.5,743.0 271.0,742.6 272.5,742.2 274.0,741.8 275.4,741.3 276.9,740.8 278.4,740.2 279.9,739.6 281.4,739.1 282.9,738.4 284.4,737.8 285.8,737.1 287.3,736.4 288.8,735.6 290.3,734.7 291.8,733.8 293.3,732.8 294.8,731.7 296.3,730.5 297.7,729.1 299.2,727.5 300.7,725.9 302.2,724.0 303.6,721.9 305.1,719.5 306.5,716.9 307.9,714.3 309.4,711.8 310.9,709.5 312.3,707.2 313.8,704.5 315.2,701.2 316.6,697.3 318.0,692.7 319.4,687.4 320.7,680.3 321.7,668.0 322.8,655.4 324.0,646.4 325.3,639.6 326.7,633.8 328.3,632.0 329.9,632.4 331.7,636.4 333.5,639.8 335.6,650.3 337.8,661.4 339.9,672.4 342.0,684.8 344.2,698.0 346.4,712.0 348.6,726.5 350.8,738.8 352.9,750.4 354.9,760.6 356.9,769.3 358.8,776.5 360.6,781.8 362.4,785.0 364.1,788.0 365.9,791.1 367.6,794.4 369.4,798.0 371.2,801.9 372.9,805.6 374.7,808.4 376.4,810.4 378.1,812.1 379.8,813.6 381.5,815.0 383.2,816.6 384.9,818.5 386.6,820.4 388.4,822.2 390.1,824.0 391.8,825.6 393.5,827.2 395.2,828.8 396.9,830.3 398.7,831.9 400.4,833.4 402.1,834.9 403.8,836.3 405.5,837.5 407.3,838.7 409.0,839.8 410.7,840.8 412.4,841.9 414.1,843.0 415.9,844.1 417.6,845.1 419.3,846.2 421.0,847.4 422.8,848.9 424.5,850.7 426.3,852.9 428.1,855.2 429.8,857.5 431.6,860.1 433.4,862.8 435.2,865.6 436.9,868.5 438.7,871.4 440.5,874.2 442.3,877.0 444.1,879.7 445.8,882.4 447.6,885.1 449.4,887.8 451.2,890.5 453.0,893.2 454.8,895.9 456.5,898.6 458.3,901.3 460.1,904.0 461.9,906.7 463.7,909.2 465.5,911.5 467.3,913.7 469.0,915.9 470.8,918.2 472.6,920.7 474.4,923.3 476.2,925.7 478.0,927.8 479.8,929.7 481.6,931.6 483.4,933.2 485.2,934.8 487.0,936.2 488.8,937.6 489.0,937.8 489.5,992.5" fill="#ff0000" stroke-width="2"/>
<polygon points="489.5,992.5 489.0,937.8 545.8,901.6 545.4,955.9" stroke-width="4.6"/>
</g>
<text x="336" y="107.3" font-size="41.3">λ<tspan font-size="24" dy="14">ex</tspan><tspan dy="-14"> = 345 nm</tspan></text>
<rect x="100.3" y="142.0" width="75.8" height="37" fill="#ff0000"/>
<text font-size="35"><tspan x="186.0" y="171.4">Mg</tspan><tspan x="235.3" y="182.6" font-size="20.5">2</tspan><tspan x="243.6" y="171.4">Al</tspan><tspan x="277.6" y="182.6" font-size="20.5">3.98</tspan><tspan x="314.6" y="171.4">Mn</tspan><tspan x="361.3" y="182.6" font-size="20.5">0.02</tspan><tspan x="398.2" y="171.4">Si</tspan><tspan x="426.4" y="182.6" font-size="20.5">5</tspan><tspan x="436.3" y="171.4">O</tspan><tspan x="461.6" y="182.6" font-size="20.5">18</tspan></text>
<rect x="100.3" y="193.8" width="75.8" height="37" fill="#00ff00"/>
<text font-size="35"><tspan x="186.0" y="223.2">Mg</tspan><tspan x="235.3" y="234.3" font-size="20.5">2</tspan><tspan x="243.6" y="223.2">Al</tspan><tspan x="277.6" y="234.3" font-size="20.5">3.96</tspan><tspan x="314.6" y="223.2">Mn</tspan><tspan x="361.3" y="234.3" font-size="20.5">0.04</tspan><tspan x="398.2" y="223.2">Si</tspan><tspan x="426.4" y="234.3" font-size="20.5">5</tspan><tspan x="436.3" y="223.2">O</tspan><tspan x="461.6" y="234.3" font-size="20.5">18</tspan></text>
<rect x="100.3" y="245.5" width="75.8" height="37" fill="#0000ff"/>
<text font-size="35"><tspan x="186.0" y="274.9">Mg</tspan><tspan x="235.3" y="286.1" font-size="20.5">2</tspan><tspan x="243.6" y="274.9">Al</tspan><tspan x="277.6" y="286.1" font-size="20.5">3.94</tspan><tspan x="314.6" y="274.9">Mn</tspan><tspan x="361.3" y="286.1" font-size="20.5">0.06</tspan><tspan x="398.2" y="274.9">Si</tspan><tspan x="426.4" y="286.1" font-size="20.5">5</tspan><tspan x="436.3" y="274.9">O</tspan><tspan x="461.6" y="286.1" font-size="20.5">18</tspan></text>
<rect x="100.3" y="297.2" width="75.8" height="37" fill="#00ffff"/>
<text font-size="35"><tspan x="186.0" y="326.6">Mg</tspan><tspan x="235.3" y="337.8" font-size="20.5">2</tspan><tspan x="243.6" y="326.6">Al</tspan><tspan x="277.6" y="337.8" font-size="20.5">3.92</tspan><tspan x="314.6" y="326.6">Mn</tspan><tspan x="361.3" y="337.8" font-size="20.5">0.08</tspan><tspan x="398.2" y="326.6">Si</tspan><tspan x="426.4" y="337.8" font-size="20.5">5</tspan><tspan x="436.3" y="326.6">O</tspan><tspan x="461.6" y="337.8" font-size="20.5">18</tspan></text>
<rect x="100.3" y="349.0" width="75.8" height="37" fill="#ff00ff"/>
<text font-size="35"><tspan x="186.0" y="378.4">Mg</tspan><tspan x="235.3" y="389.6" font-size="20.5">2</tspan><tspan x="243.6" y="378.4">Al</tspan><tspan x="277.6" y="389.6" font-size="20.5">3.90</tspan><tspan x="314.6" y="378.4">Mn</tspan><tspan x="361.3" y="389.6" font-size="20.5">0.10</tspan><tspan x="398.2" y="378.4">Si</tspan><tspan x="426.4" y="389.6" font-size="20.5">5</tspan><tspan x="436.3" y="378.4">O</tspan><tspan x="461.6" y="389.6" font-size="20.5">18</tspan></text>
<rect x="100.3" y="400.8" width="75.8" height="37" fill="#ffff00"/>
<text font-size="35"><tspan x="186.0" y="430.1">Mg</tspan><tspan x="235.3" y="441.3" font-size="20.5">2</tspan><tspan x="243.6" y="430.1">Al</tspan><tspan x="277.6" y="441.3" font-size="20.5">3.88</tspan><tspan x="314.6" y="430.1">Mn</tspan><tspan x="361.3" y="441.3" font-size="20.5">0.12</tspan><tspan x="398.2" y="430.1">Si</tspan><tspan x="426.4" y="441.3" font-size="20.5">5</tspan><tspan x="436.3" y="430.1">O</tspan><tspan x="461.6" y="441.3" font-size="20.5">18</tspan></text>
<text transform="matrix(0.8391 -0.5527 0.7803 0.5741 446.75 1035.11)" x="0" y="0" font-size="40" text-anchor="middle">625</text>
<text transform="matrix(0.8341 -0.5128 0.7234 0.5322 334.11 952.24)" x="0" y="0" font-size="40" text-anchor="middle">650</text>
<text transform="matrix(0.8277 -0.4772 0.6724 0.4947 229.54 875.31)" x="0" y="0" font-size="40" text-anchor="middle">675</text>
<text transform="matrix(0.8201 -0.4452 0.6267 0.4611 132.22 803.71)" x="0" y="0" font-size="40" text-anchor="middle">700</text>
<text transform="matrix(0.8117 -0.4163 0.5855 0.4307 41.40 736.90)" x="0" y="0" font-size="40" text-anchor="middle">725</text>
<text transform="matrix(0.7513 0.5770 -0.9914 0.5565 119.04 881.17)" x="0" y="0" font-size="46" text-anchor="middle" font-style="italic">Wavelength</text>
<text transform="matrix(0.8236 0.6325 -1.0033 0.6093 245.98 978.66)" x="0" y="0" font-size="46" text-anchor="middle" font-style="italic">(nm)</text>
<text transform="matrix(0.1005 -1.0052 0.9545 0.4658 971.82 540.93)" x="0" y="0" font-size="46" text-anchor="middle" font-style="italic">Intensity</text>
<text transform="matrix(0.1071 -1.0714 0.9895 0.4405 986.40 395.10)" x="0" y="0" font-size="46" text-anchor="middle" font-style="italic">(a.u.)</text>
</svg>
</body></html>
